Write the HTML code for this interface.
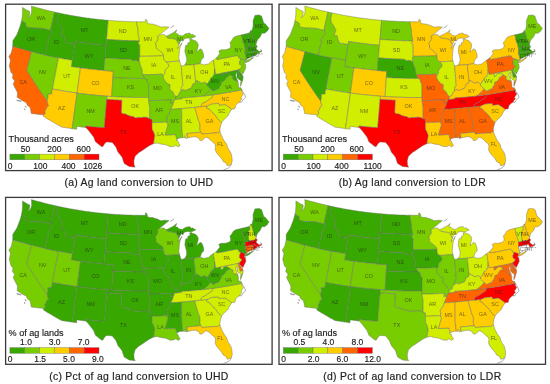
<!DOCTYPE html><html><head><meta charset="utf-8"><style>html,body{margin:0;padding:0;background:#fff;width:550px;height:384px;overflow:hidden}svg{display:block;filter:blur(0.3px)}text{font-family:"Liberation Sans",Arial,sans-serif}</style></head><body>
<svg width="550" height="384" viewBox="0 0 550 384">
<rect width="550" height="384" fill="#fff"/>
<g transform="translate(0,0)">
<rect x="5.6" y="4.2" width="266.5" height="166.4" fill="#fff" stroke="#3a3a3a" stroke-width="1.3"/>
<g stroke="#6e6e6e" stroke-width="0.45" stroke-linejoin="round">
<path fill="#78cd00" d="M31.4,6.1 32.4,6.4 33.4,6.6 34.4,6.9 35.4,7.2 36.4,7.5 37.4,7.8 38.4,8.0 39.5,8.3 40.5,8.6 41.5,8.8 42.5,9.1 43.5,9.4 44.5,9.6 45.5,9.9 46.5,10.1 47.5,10.4 48.5,10.6 49.5,10.9 50.5,11.1 51.6,11.3 52.6,11.6 53.6,11.8 54.6,12.0 54.3,13.5 53.9,14.9 53.6,16.3 53.3,17.7 53.0,19.2 52.7,20.6 52.3,22.0 52.0,23.5 51.7,24.9 51.4,26.3 51.0,27.8 51.0,29.1 51.0,30.4 50.0,30.2 49.0,30.0 48.0,29.8 47.0,29.5 46.0,29.3 45.1,29.1 44.1,28.8 43.1,28.6 42.1,28.4 41.2,28.3 40.3,28.3 39.4,28.2 38.3,28.2 37.2,28.2 36.1,28.2 34.9,28.1 34.0,28.1 33.1,28.1 32.2,28.1 31.1,27.9 30.0,27.7 28.9,27.5 27.8,27.4 27.1,27.0 26.4,26.6 25.7,26.2 25.7,24.8 25.8,23.3 24.8,22.7 23.9,22.1 23.1,21.7 22.3,21.3 21.5,20.9 21.8,19.6 22.0,18.3 22.2,17.0 22.3,15.7 22.4,14.5 22.5,13.2 22.5,11.7 22.5,10.3 22.5,8.9 22.5,7.4 23.4,8.0 24.3,8.6 25.2,9.1 26.1,9.7 27.0,10.3 27.9,10.7 28.8,11.0 29.7,11.4 29.8,12.7 29.5,14.3 29.3,15.8 28.4,16.6 27.6,17.3 28.7,17.0 29.8,16.6 30.2,15.8 30.7,14.9 31.1,13.8 31.6,12.6 31.6,11.0 31.6,9.4 31.5,7.7Z"/>
<path fill="#38a800" d="M21.5,20.9 22.3,21.3 23.1,21.7 23.9,22.1 24.8,22.7 25.8,23.3 25.7,24.8 25.7,26.2 26.4,26.6 27.1,27.0 27.8,27.4 28.9,27.5 30.0,27.7 31.1,27.9 32.2,28.1 33.1,28.1 34.0,28.1 34.9,28.1 36.1,28.2 37.2,28.2 38.3,28.2 39.4,28.2 40.3,28.3 41.2,28.3 42.1,28.4 43.1,28.6 44.1,28.8 45.1,29.1 46.0,29.3 47.0,29.5 48.0,29.8 49.0,30.0 50.0,30.2 51.0,30.4 51.5,31.7 51.9,32.6 52.3,33.5 51.1,34.9 50.5,35.8 49.9,36.7 48.7,38.0 48.1,39.3 47.4,40.6 48.0,41.1 48.6,41.7 48.0,42.7 47.5,43.7 47.2,45.1 46.9,46.5 46.5,47.9 46.2,49.4 45.9,50.8 45.6,52.2 45.3,53.6 45.0,55.0 43.8,54.7 42.7,54.5 41.6,54.2 40.5,53.9 39.4,53.7 38.2,53.4 37.1,53.1 36.0,52.9 34.9,52.6 33.8,52.3 32.7,52.0 31.5,51.7 30.4,51.4 29.3,51.2 28.2,50.9 27.1,50.6 26.0,50.3 24.9,50.0 23.8,49.6 22.7,49.3 21.6,49.0 20.5,48.7 19.4,48.4 18.2,48.1 17.1,47.7 16.0,47.4 14.9,47.1 13.8,46.8 12.7,46.4 12.8,45.0 12.8,43.6 12.8,42.3 12.8,40.9 13.6,39.6 14.5,38.3 15.3,37.0 16.1,35.8 16.9,34.5 17.5,33.0 18.1,31.5 18.6,30.0 19.2,28.6 19.8,27.1 20.3,25.6 20.6,24.4 20.9,23.3 21.2,22.1Z"/>
<path fill="#ff6600" d="M12.7,46.4 13.8,46.8 14.9,47.1 16.0,47.4 17.1,47.7 18.2,48.1 19.4,48.4 20.5,48.7 21.6,49.0 22.7,49.3 23.8,49.6 24.9,50.0 26.0,50.3 27.1,50.6 28.2,50.9 29.3,51.2 30.4,51.4 31.6,51.7 31.2,53.3 30.8,54.8 30.4,56.3 30.0,57.9 29.6,59.4 29.2,60.9 28.8,62.5 28.4,64.0 28.0,65.6 27.6,67.1 27.2,68.6 26.8,70.2 27.6,71.6 28.5,73.0 29.4,74.4 30.3,75.8 31.1,77.2 32.0,78.6 32.9,80.0 33.8,81.4 34.8,82.8 35.7,84.2 36.6,85.6 37.5,87.0 38.5,88.4 39.4,89.8 40.4,91.2 41.3,92.6 42.3,94.0 43.2,95.4 44.2,96.7 45.2,98.1 46.2,99.5 47.2,100.9 47.5,102.1 47.8,103.4 48.2,104.6 48.8,105.7 48.0,106.3 47.1,106.8 46.5,108.3 46.0,109.7 44.8,110.8 45.1,112.1 45.4,113.5 44.6,114.2 43.9,115.0 42.6,114.8 41.4,114.7 40.1,114.6 38.8,114.4 37.6,114.3 36.3,114.1 35.1,114.0 33.8,113.8 32.5,113.7 31.3,113.5 31.1,112.6 31.0,111.7 30.7,110.3 30.4,108.9 30.1,107.6 29.0,106.6 28.0,105.7 27.0,104.8 26.7,103.8 26.4,102.8 25.3,102.2 24.2,101.6 23.1,101.0 22.1,100.4 21.1,99.7 20.1,99.1 19.1,98.5 18.1,97.8 17.1,97.2 17.3,95.7 17.4,94.2 17.5,92.7 16.7,91.0 15.8,89.3 15.0,87.7 14.1,86.0 13.3,84.3 13.5,83.4 13.8,82.5 14.7,81.1 13.9,80.1 13.2,79.1 12.4,78.1 12.6,76.8 12.8,75.6 13.0,74.3 12.0,73.4 11.0,72.4 10.6,70.8 10.2,69.2 9.8,67.6 9.3,66.0 9.6,64.6 9.9,63.1 10.2,61.7 10.5,60.3 10.0,59.1 9.5,57.8 8.9,56.5 9.8,55.2 10.6,53.9 11.4,52.6 11.7,51.1 12.1,49.5 12.4,48.0Z"/>
<path fill="#78cd00" d="M31.6,51.7 32.7,52.0 33.8,52.3 34.9,52.6 36.0,52.9 37.1,53.1 38.3,53.4 39.4,53.7 40.5,53.9 41.6,54.2 42.7,54.5 43.9,54.7 45.0,55.0 46.1,55.2 47.2,55.5 48.4,55.7 49.5,56.0 50.6,56.2 51.7,56.4 52.9,56.7 54.0,56.9 55.1,57.1 56.2,57.4 57.4,57.6 58.5,57.8 58.2,59.4 57.9,60.9 57.6,62.5 57.3,64.0 57.0,65.6 56.7,67.1 56.4,68.7 56.1,70.3 55.8,71.8 55.5,73.4 55.2,74.9 54.9,76.5 54.6,78.1 54.3,79.6 54.0,81.2 53.7,82.7 53.4,84.3 53.1,85.9 52.8,87.4 52.5,89.0 52.3,90.2 52.0,91.5 51.8,92.7 51.5,94.0 50.3,94.1 49.1,94.3 47.9,94.4 48.0,95.6 48.0,96.7 48.1,97.8 47.6,99.4 47.2,100.9 46.2,99.5 45.2,98.1 44.2,96.7 43.2,95.4 42.3,94.0 41.3,92.6 40.4,91.2 39.4,89.8 38.5,88.4 37.5,87.0 36.6,85.6 35.7,84.2 34.8,82.8 33.8,81.4 32.9,80.0 32.0,78.6 31.1,77.2 30.3,75.8 29.4,74.4 28.5,73.0 27.6,71.6 26.8,70.2 27.2,68.6 27.6,67.1 28.0,65.6 28.4,64.0 28.8,62.5 29.2,60.9 29.6,59.4 30.0,57.9 30.4,56.3 30.8,54.8 31.2,53.3Z"/>
<path fill="#38a800" d="M54.6,12.0 55.6,12.3 56.6,12.5 57.6,12.7 58.6,12.9 58.3,14.4 58.0,16.0 57.7,17.5 57.3,19.0 57.6,20.2 57.8,21.5 58.1,22.7 58.8,23.5 59.5,24.3 60.2,25.7 61.0,27.1 61.7,28.5 62.6,29.7 62.2,30.9 61.8,32.1 61.4,33.3 61.1,34.3 60.8,35.3 61.8,35.5 62.9,35.6 63.9,35.7 64.1,37.1 64.4,38.5 64.7,39.9 65.4,41.2 66.2,42.4 66.9,43.6 68.1,43.5 69.3,43.4 70.1,43.5 71.0,43.7 71.9,43.8 72.8,44.0 73.7,44.4 74.7,44.7 74.4,46.3 74.2,47.8 74.0,49.4 73.7,50.9 73.5,52.5 73.2,54.0 73.0,55.6 72.7,57.1 72.5,58.7 72.2,60.2 71.1,60.0 69.9,59.9 68.8,59.7 67.7,59.5 66.5,59.3 65.4,59.1 64.2,58.9 63.1,58.7 62.0,58.5 60.8,58.2 59.7,58.0 58.5,57.8 57.4,57.6 56.3,57.4 55.1,57.1 54.0,56.9 52.9,56.7 51.7,56.4 50.6,56.2 49.5,56.0 48.3,55.7 47.2,55.5 46.1,55.2 45.0,55.0 45.3,53.6 45.6,52.2 45.9,50.8 46.2,49.4 46.5,47.9 46.9,46.5 47.2,45.1 47.5,43.7 48.0,42.7 48.6,41.7 48.0,41.1 47.4,40.6 48.1,39.3 48.7,38.0 49.9,36.7 50.5,35.8 51.1,34.9 52.3,33.5 51.9,32.6 51.5,31.7 51.0,30.4 51.0,29.1 51.0,27.8 51.4,26.3 51.7,24.9 52.0,23.5 52.3,22.0 52.7,20.6 53.0,19.2 53.3,17.7 53.6,16.3 53.9,14.9 54.3,13.5Z"/>
<path fill="#38a800" d="M58.6,12.9 59.7,13.1 60.7,13.4 61.7,13.6 62.7,13.8 63.7,14.0 64.8,14.2 65.8,14.4 66.8,14.6 67.9,14.8 68.9,15.0 69.9,15.2 70.9,15.4 72.0,15.5 73.0,15.7 74.0,15.9 75.1,16.1 76.1,16.3 77.1,16.4 78.1,16.6 79.2,16.8 80.2,16.9 81.2,17.1 82.3,17.3 83.3,17.4 84.3,17.6 85.4,17.7 86.4,17.9 87.4,18.0 88.5,18.1 89.5,18.3 90.5,18.4 91.6,18.6 92.6,18.7 93.7,18.8 94.7,18.9 95.7,19.1 96.8,19.2 97.8,19.3 98.9,19.4 99.9,19.5 100.9,19.6 102.0,19.7 103.0,19.8 104.0,20.0 105.1,20.0 106.1,20.1 107.2,20.2 108.2,20.3 108.1,21.9 107.9,23.4 107.8,25.0 107.7,26.5 107.5,28.1 107.4,29.6 107.3,31.2 107.2,32.8 107.0,34.3 106.9,35.9 106.8,37.4 106.6,39.0 106.5,40.6 106.3,42.1 106.2,43.7 106.1,45.3 105.0,45.2 103.9,45.1 102.8,45.0 101.7,44.9 100.6,44.8 99.4,44.7 98.3,44.6 97.2,44.4 96.1,44.3 95.0,44.2 93.9,44.1 92.8,43.9 91.7,43.8 90.6,43.7 89.5,43.5 88.4,43.4 87.3,43.3 86.2,43.1 85.1,43.0 84.0,42.8 82.9,42.7 81.8,42.5 80.7,42.3 79.6,42.2 78.5,42.0 77.4,41.8 76.3,41.7 75.2,41.5 75.0,42.6 74.9,43.7 74.7,44.7 73.7,44.4 72.8,44.0 71.9,43.8 71.0,43.7 70.1,43.5 69.3,43.4 68.1,43.5 66.9,43.6 66.2,42.4 65.4,41.2 64.7,39.9 64.4,38.5 64.1,37.1 63.9,35.7 62.9,35.6 61.8,35.5 60.8,35.3 61.1,34.3 61.4,33.3 61.8,32.1 62.2,30.9 62.6,29.7 61.7,28.5 61.0,27.1 60.2,25.7 59.5,24.3 58.8,23.5 58.1,22.7 57.8,21.5 57.6,20.2 57.3,19.0 57.7,17.5 58.0,16.0 58.3,14.4 58.6,12.9Z"/>
<path fill="#38a800" d="M75.2,41.5 76.3,41.7 77.4,41.8 78.5,42.0 79.6,42.2 80.7,42.3 81.8,42.5 82.9,42.7 84.0,42.8 85.1,43.0 86.2,43.1 87.3,43.3 88.4,43.4 89.5,43.5 90.6,43.7 91.7,43.8 92.8,43.9 93.9,44.1 95.0,44.2 96.1,44.3 97.2,44.4 98.3,44.6 99.4,44.7 100.6,44.8 101.7,44.9 102.8,45.0 103.9,45.1 105.0,45.2 106.1,45.3 105.9,46.9 105.8,48.4 105.7,50.0 105.5,51.6 105.4,53.1 105.3,54.7 105.1,56.3 105.0,57.9 104.9,59.4 104.7,61.0 104.6,62.6 104.5,64.2 104.3,65.8 104.2,67.3 104.1,68.9 103.9,70.5 102.8,70.4 101.6,70.3 100.4,70.2 99.2,70.1 98.1,70.0 96.9,69.8 95.7,69.7 94.6,69.6 93.4,69.5 92.2,69.3 91.0,69.2 89.9,69.1 88.7,68.9 87.5,68.8 86.4,68.6 85.2,68.5 84.0,68.3 82.9,68.2 81.7,68.0 80.5,67.9 79.4,67.7 78.2,67.5 77.0,67.4 75.9,67.2 74.7,67.0 73.5,66.9 72.4,66.7 71.2,66.5 71.5,64.9 71.7,63.4 72.0,61.8 72.2,60.2 72.5,58.7 72.7,57.1 73.0,55.5 73.2,54.0 73.5,52.4 73.7,50.8 74.0,49.3 74.2,47.7 74.5,46.2 74.7,44.6 75.0,43.1Z"/>
<path fill="#d1ed00" d="M58.5,57.8 59.6,58.0 60.8,58.2 61.9,58.5 63.1,58.7 64.2,58.9 65.3,59.1 66.5,59.3 67.6,59.5 68.8,59.7 69.9,59.9 71.1,60.0 72.2,60.2 72.0,61.8 71.7,63.4 71.5,64.9 71.2,66.5 72.4,66.7 73.5,66.9 74.7,67.0 75.9,67.2 77.0,67.4 78.2,67.5 79.4,67.7 80.5,67.9 80.3,69.4 80.1,71.0 79.9,72.6 79.7,74.2 79.4,75.7 79.2,77.3 79.0,78.9 78.8,80.5 78.6,82.0 78.4,83.6 78.1,85.2 77.9,86.8 77.7,88.3 77.5,89.9 77.3,91.5 77.0,93.0 75.8,92.9 74.6,92.7 73.3,92.5 72.1,92.3 70.9,92.2 69.7,92.0 68.4,91.8 67.2,91.6 66.0,91.4 64.7,91.2 63.5,91.0 62.3,90.8 61.1,90.6 59.8,90.3 58.6,90.1 57.4,89.9 56.2,89.7 54.9,89.4 53.7,89.2 52.5,89.0 52.8,87.4 53.1,85.9 53.4,84.3 53.7,82.7 54.0,81.2 54.3,79.6 54.6,78.1 54.9,76.5 55.2,74.9 55.5,73.4 55.8,71.8 56.1,70.3 56.4,68.7 56.7,67.1 57.0,65.6 57.3,64.0 57.6,62.5 57.9,60.9 58.2,59.4Z"/>
<path fill="#ffcc00" d="M80.5,67.9 81.7,68.0 82.9,68.2 84.0,68.3 85.2,68.5 86.4,68.6 87.5,68.8 88.7,68.9 89.9,69.1 91.0,69.2 92.2,69.3 93.4,69.5 94.6,69.6 95.7,69.7 96.9,69.8 98.1,70.0 99.2,70.1 100.4,70.2 101.6,70.3 102.8,70.4 103.9,70.5 105.1,70.6 106.3,70.7 107.5,70.8 108.6,70.9 109.8,71.0 111.0,71.0 112.1,71.1 113.3,71.2 113.2,72.8 113.1,74.4 113.0,75.9 112.9,77.5 112.8,79.1 112.7,80.7 112.6,82.3 112.5,83.9 112.4,85.5 112.3,87.0 112.2,88.6 112.1,90.2 112.0,91.8 111.9,93.4 111.8,95.0 111.7,96.6 110.5,96.5 109.2,96.4 108.0,96.3 106.7,96.2 105.5,96.1 104.3,96.0 103.0,95.9 101.8,95.8 100.5,95.7 99.3,95.6 98.1,95.5 96.8,95.4 95.6,95.2 94.3,95.1 93.1,95.0 91.9,94.9 90.6,94.7 89.4,94.6 88.2,94.5 86.9,94.3 85.7,94.2 84.4,94.0 83.2,93.9 82.0,93.7 80.7,93.5 79.5,93.4 78.3,93.2 77.0,93.0 77.3,91.5 77.5,89.9 77.7,88.3 77.9,86.8 78.1,85.2 78.4,83.6 78.6,82.0 78.8,80.5 79.0,78.9 79.2,77.3 79.4,75.7 79.7,74.2 79.9,72.6 80.1,71.0 80.3,69.4Z"/>
<path fill="#ffcc00" d="M52.5,89.0 53.7,89.2 54.9,89.4 56.2,89.7 57.4,89.9 58.6,90.1 59.8,90.3 61.1,90.6 62.3,90.8 63.5,91.0 64.7,91.2 66.0,91.4 67.2,91.6 68.4,91.8 69.7,92.0 70.9,92.2 72.1,92.3 73.3,92.5 74.6,92.7 75.8,92.9 77.0,93.0 76.8,94.6 76.6,96.1 76.4,97.7 76.2,99.2 76.0,100.8 75.8,102.4 75.5,103.9 75.3,105.5 75.1,107.0 74.9,108.5 74.7,110.1 74.5,111.6 74.2,113.2 74.0,114.7 73.8,116.3 73.6,117.8 73.4,119.4 73.2,120.9 73.0,122.5 72.7,124.0 72.5,125.6 72.3,127.1 72.1,128.6 70.9,128.5 69.7,128.3 68.5,128.1 67.3,128.0 66.2,127.8 65.0,127.6 63.8,127.4 62.6,127.2 61.4,127.0 60.2,126.3 58.9,125.6 57.7,124.9 56.5,124.2 55.2,123.5 54.0,122.8 52.8,122.1 51.6,121.4 50.4,120.6 49.2,119.9 48.0,119.2 46.7,118.5 45.5,117.7 44.4,117.0 43.2,116.2 43.9,115.0 44.6,114.2 45.4,113.5 45.1,112.1 44.8,110.8 46.0,109.7 46.5,108.3 47.1,106.8 48.0,106.3 48.8,105.7 48.2,104.6 47.8,103.4 47.5,102.1 47.2,100.9 47.6,99.4 48.1,97.8 48.0,96.7 48.0,95.6 47.9,94.4 49.1,94.3 50.3,94.1 51.5,94.0 51.8,92.7 52.0,91.5 52.3,90.2Z"/>
<path fill="#78cd00" d="M77.0,93.0 78.2,93.2 79.4,93.4 80.6,93.5 81.8,93.7 83.0,93.8 84.2,94.0 85.4,94.1 86.6,94.3 87.8,94.4 89.0,94.5 90.2,94.7 91.4,94.8 92.6,94.9 93.8,95.1 95.0,95.2 96.2,95.3 97.4,95.4 98.6,95.5 99.8,95.6 101.0,95.7 102.2,95.8 103.4,95.9 104.6,96.0 105.8,96.1 107.0,96.2 106.9,97.8 106.7,99.4 106.6,101.0 106.5,102.6 106.3,104.1 106.2,105.7 106.1,107.3 105.9,108.9 105.8,110.5 105.7,112.0 105.5,113.6 105.4,115.2 105.3,116.8 105.1,118.4 105.0,119.9 104.9,121.5 104.7,123.1 104.6,124.7 104.5,126.2 104.3,127.8 103.1,127.7 101.8,127.6 100.5,127.5 99.3,127.4 98.0,127.3 96.8,127.2 95.5,127.1 94.3,127.0 93.0,126.9 91.8,126.7 90.5,126.6 89.3,126.5 88.0,126.3 86.7,126.2 85.5,126.1 85.8,127.5 84.5,127.4 83.3,127.2 82.0,127.1 80.7,126.9 79.5,126.7 78.2,126.6 76.9,126.4 76.7,127.8 76.6,129.2 75.5,129.1 74.3,129.0 73.2,128.8 72.1,128.6 72.3,127.1 72.5,125.6 72.7,124.0 73.0,122.5 73.2,120.9 73.4,119.4 73.6,117.8 73.8,116.3 74.0,114.7 74.2,113.2 74.5,111.6 74.7,110.1 74.9,108.5 75.1,107.0 75.3,105.5 75.5,103.9 75.8,102.4 76.0,100.8 76.2,99.2 76.4,97.7 76.6,96.1 76.8,94.6Z"/>
<path fill="#d1ed00" d="M108.2,20.3 109.2,20.4 110.2,20.5 111.3,20.6 112.3,20.7 113.3,20.7 114.3,20.8 115.3,20.9 116.3,20.9 117.3,21.0 118.4,21.1 119.4,21.1 120.4,21.2 121.4,21.2 122.4,21.3 123.4,21.3 124.5,21.4 125.5,21.4 126.5,21.5 127.5,21.5 128.5,21.5 129.6,21.6 130.6,21.6 131.6,21.6 132.6,21.7 133.6,21.7 134.6,21.7 135.7,21.7 136.7,21.7 136.8,23.3 137.0,24.8 137.3,26.3 137.6,27.7 137.9,29.1 138.2,30.5 138.2,31.9 138.2,33.4 138.2,34.9 138.6,36.1 138.9,37.4 139.2,38.6 139.3,39.8 139.4,40.9 138.3,40.9 137.2,40.9 136.1,40.9 135.0,40.8 133.9,40.8 132.8,40.8 131.7,40.8 130.6,40.7 129.5,40.7 128.4,40.7 127.3,40.6 126.2,40.6 125.1,40.6 124.0,40.5 123.0,40.5 121.9,40.4 120.8,40.4 119.7,40.3 118.6,40.2 117.5,40.2 116.4,40.1 115.3,40.0 114.2,40.0 113.1,39.9 112.0,39.8 110.9,39.7 109.9,39.7 108.8,39.6 107.7,39.5 106.6,39.4 106.7,37.9 106.8,36.4 107.0,35.0 107.1,33.5 107.2,32.0 107.3,30.6 107.5,29.1 107.6,27.6 107.7,26.2 107.8,24.7 108.0,23.2 108.1,21.8Z"/>
<path fill="#38a800" d="M106.6,39.4 107.7,39.5 108.8,39.6 109.9,39.7 110.9,39.7 112.0,39.8 113.1,39.9 114.2,40.0 115.3,40.0 116.4,40.1 117.5,40.2 118.6,40.2 119.7,40.3 120.8,40.4 121.9,40.4 123.0,40.5 124.0,40.5 125.1,40.6 126.2,40.6 127.3,40.6 128.4,40.7 129.5,40.7 130.6,40.7 131.7,40.8 132.8,40.8 133.9,40.8 135.0,40.8 136.1,40.9 137.2,40.9 138.3,40.9 139.4,40.9 139.4,41.6 138.7,42.3 138.1,43.0 138.9,44.0 139.8,44.9 139.8,46.3 139.8,47.8 139.8,49.2 139.8,50.6 139.8,52.0 139.8,53.4 139.8,54.9 139.8,56.3 139.4,57.9 139.1,59.4 139.3,60.5 139.5,61.6 139.7,62.7 138.6,61.6 137.4,61.0 136.3,60.4 135.2,60.5 134.2,60.7 133.1,60.8 132.2,60.3 131.3,59.8 130.4,59.3 129.3,59.3 128.2,59.2 127.1,59.2 125.9,59.1 124.8,59.1 123.7,59.1 122.6,59.0 121.5,59.0 120.4,58.9 119.3,58.9 118.2,58.8 117.1,58.7 116.0,58.7 114.9,58.6 113.8,58.5 112.7,58.5 111.6,58.4 110.5,58.3 109.4,58.2 108.3,58.1 107.2,58.1 106.1,58.0 105.0,57.9 105.1,56.3 105.3,54.8 105.4,53.2 105.5,51.7 105.7,50.2 105.8,48.6 105.9,47.1 106.1,45.5 106.2,44.0 106.3,42.5 106.5,40.9Z"/>
<path fill="#78cd00" d="M105.0,57.9 106.1,58.0 107.2,58.1 108.3,58.1 109.4,58.2 110.5,58.3 111.6,58.4 112.7,58.5 113.8,58.5 114.9,58.6 116.0,58.7 117.1,58.7 118.2,58.8 119.3,58.9 120.4,58.9 121.5,59.0 122.6,59.0 123.7,59.1 124.8,59.1 125.9,59.1 127.1,59.2 128.2,59.2 129.3,59.3 130.4,59.3 131.3,59.8 132.2,60.3 133.1,60.8 134.2,60.7 135.2,60.5 136.3,60.4 137.4,61.0 138.6,61.6 139.7,62.7 140.0,63.6 140.2,64.5 140.8,65.9 141.3,67.4 141.8,68.8 142.3,70.2 142.3,71.5 142.4,72.8 142.6,73.8 142.9,74.8 143.3,75.7 143.7,76.6 144.4,77.5 145.1,78.5 143.9,78.5 142.8,78.5 141.6,78.5 140.4,78.5 139.2,78.5 138.0,78.4 136.8,78.4 135.6,78.4 134.4,78.4 133.2,78.4 132.0,78.4 130.8,78.3 129.6,78.3 128.4,78.3 127.2,78.2 126.0,78.2 124.8,78.1 123.6,78.1 122.5,78.0 121.3,78.0 120.1,77.9 118.9,77.9 117.7,77.8 116.5,77.7 115.3,77.7 114.1,77.6 112.9,77.5 113.0,75.9 113.1,74.4 113.2,72.8 113.3,71.2 112.1,71.1 111.0,71.0 109.8,71.0 108.6,70.9 107.5,70.8 106.3,70.7 105.1,70.6 103.9,70.5 104.1,68.9 104.2,67.3 104.3,65.8 104.5,64.2 104.6,62.6 104.7,61.0 104.9,59.4Z"/>
<path fill="#78cd00" d="M112.9,77.5 114.1,77.6 115.3,77.7 116.5,77.7 117.7,77.8 118.9,77.9 120.1,77.9 121.3,78.0 122.5,78.0 123.6,78.1 124.8,78.1 126.0,78.2 127.2,78.2 128.4,78.3 129.6,78.3 130.8,78.3 132.0,78.4 133.2,78.4 134.4,78.4 135.6,78.4 136.8,78.4 138.0,78.4 139.2,78.5 140.4,78.5 141.6,78.5 142.8,78.5 143.9,78.5 145.1,78.5 146.0,78.8 146.8,79.1 147.0,80.3 147.1,81.6 147.8,82.9 148.6,84.1 148.6,85.6 148.6,87.1 148.6,88.6 148.6,90.1 148.6,91.5 148.6,93.0 148.6,94.5 148.6,96.0 148.7,97.5 147.4,97.5 146.2,97.5 145.0,97.5 143.7,97.5 142.5,97.5 141.3,97.5 140.0,97.5 138.8,97.5 137.6,97.5 136.3,97.5 135.1,97.5 133.9,97.5 132.6,97.4 131.4,97.4 130.2,97.4 128.9,97.3 127.7,97.3 126.5,97.3 125.2,97.2 124.0,97.2 122.8,97.1 121.5,97.1 120.3,97.0 119.1,97.0 117.8,96.9 116.6,96.8 115.4,96.8 114.2,96.7 112.9,96.6 111.7,96.6 111.8,95.0 111.9,93.4 112.0,91.8 112.1,90.2 112.2,88.6 112.3,87.0 112.4,85.5 112.5,83.9 112.6,82.3 112.7,80.7 112.8,79.1Z"/>
<path fill="#d1ed00" d="M107.0,96.2 108.2,96.3 109.4,96.4 110.7,96.5 111.9,96.6 113.1,96.6 114.3,96.7 115.5,96.8 116.8,96.9 118.0,96.9 119.2,97.0 120.4,97.0 121.7,97.1 122.9,97.1 124.1,97.2 125.4,97.2 126.6,97.3 127.8,97.3 129.0,97.3 130.3,97.4 131.5,97.4 132.7,97.4 133.9,97.5 135.2,97.5 136.4,97.5 137.6,97.5 138.8,97.5 140.1,97.5 141.3,97.5 142.5,97.5 143.7,97.5 145.0,97.5 146.2,97.5 147.4,97.5 148.7,97.5 148.7,99.1 148.7,100.7 148.9,102.1 149.1,103.5 149.3,104.9 149.6,106.3 149.8,107.7 149.8,109.3 149.7,110.9 149.7,112.4 149.7,114.0 149.7,115.6 149.7,117.2 149.7,118.8 149.7,118.8 148.8,118.3 147.9,117.9 147.0,117.4 145.9,117.4 144.9,117.3 143.9,117.2 142.8,117.4 141.8,117.6 140.7,117.8 139.7,117.7 138.7,117.5 137.6,117.7 136.6,117.9 135.5,118.1 134.5,117.5 133.5,116.8 132.5,116.6 131.4,116.5 130.1,116.1 128.9,115.8 127.7,115.2 126.5,114.6 125.3,114.1 124.0,113.9 122.7,113.8 122.0,113.2 121.2,112.6 121.3,111.0 121.4,109.5 121.4,108.0 121.5,106.4 121.6,104.9 121.6,103.3 121.7,101.8 121.8,100.3 120.5,100.2 119.2,100.2 118.0,100.1 116.7,100.0 115.5,100.0 114.2,99.9 113.0,99.8 111.7,99.7 110.5,99.7 109.2,99.6 108.0,99.5 106.7,99.4 106.9,97.8Z"/>
<path fill="#ff0000" d="M106.7,99.4 108.0,99.5 109.2,99.6 110.5,99.7 111.7,99.7 113.0,99.8 114.2,99.9 115.5,100.0 116.7,100.0 118.0,100.1 119.2,100.2 120.5,100.2 121.8,100.3 121.7,101.8 121.6,103.3 121.6,104.9 121.5,106.4 121.4,108.0 121.4,109.5 121.3,111.0 121.2,112.6 122.0,113.2 122.7,113.8 124.0,113.9 125.3,114.1 126.5,114.6 127.7,115.2 128.9,115.8 130.1,116.1 131.4,116.5 132.5,116.6 133.5,116.8 134.5,117.5 135.5,118.1 136.6,117.9 137.6,117.7 138.7,117.5 139.7,117.7 140.7,117.8 141.8,117.6 142.8,117.4 143.9,117.2 144.9,117.3 145.9,117.4 147.0,117.4 147.9,117.9 148.8,118.3 149.7,118.8 150.8,119.1 152.0,119.3 152.0,120.4 152.0,121.6 152.1,122.7 152.1,124.0 152.1,125.3 152.1,126.6 152.2,127.8 152.2,129.1 152.8,130.4 153.5,131.6 154.0,132.9 154.5,134.1 154.9,135.4 154.7,136.9 154.5,138.3 154.2,139.8 154.0,141.1 153.8,142.4 153.6,143.6 152.4,144.2 151.2,144.8 150.1,145.3 148.9,145.9 147.8,146.7 146.7,147.5 145.4,148.3 144.2,149.2 142.9,150.0 141.6,150.9 140.3,151.7 139.0,152.5 137.7,153.8 136.4,155.0 135.0,156.3 134.7,157.7 134.3,159.2 133.9,160.6 133.9,162.1 134.0,163.5 134.1,165.0 134.6,166.1 135.2,167.2 134.1,167.1 133.1,167.0 132.1,166.8 130.6,166.7 129.2,166.5 127.9,165.7 126.7,165.0 125.4,164.3 124.2,163.5 123.7,161.9 123.1,160.4 122.6,158.8 122.1,157.2 121.1,155.9 120.0,154.6 118.9,153.3 117.9,152.0 117.4,150.7 116.9,149.4 116.4,148.2 115.9,146.9 114.7,145.4 113.5,143.9 112.3,142.5 110.9,142.3 109.6,142.2 108.2,142.1 106.9,141.9 106.0,142.5 105.1,143.1 104.3,144.3 103.5,145.5 102.7,146.7 101.6,146.6 100.4,145.7 99.2,144.7 98.0,143.8 96.7,142.7 95.4,141.7 94.8,140.1 94.2,138.6 93.6,137.1 92.6,135.7 91.5,134.3 90.5,132.9 89.4,131.6 88.4,130.2 87.5,129.3 86.7,128.4 85.8,127.5 85.5,126.1 86.7,126.2 88.0,126.3 89.3,126.5 90.5,126.6 91.8,126.7 93.0,126.9 94.3,127.0 95.5,127.1 96.8,127.2 98.0,127.3 99.3,127.4 100.5,127.5 101.8,127.6 103.1,127.7 104.3,127.8 104.5,126.2 104.6,124.7 104.7,123.1 104.9,121.5 105.0,119.9 105.1,118.4 105.3,116.8 105.4,115.2 105.5,113.6 105.7,112.0 105.8,110.5 105.9,108.9 106.1,107.3 106.2,105.7 106.3,104.1 106.5,102.6 106.6,101.0Z"/>
<path fill="#d1ed00" d="M136.7,21.7 137.6,21.7 138.6,21.8 139.6,21.8 140.5,21.8 141.5,21.8 142.5,21.8 143.4,21.8 144.4,21.8 145.4,21.8 145.4,20.6 145.4,19.4 146.1,19.6 146.8,19.9 147.1,21.1 147.4,22.4 147.7,23.6 148.7,23.7 149.7,23.8 150.7,23.9 151.7,24.0 152.8,24.1 153.7,24.4 154.6,24.7 155.6,25.0 156.5,25.2 157.4,25.5 158.3,25.9 159.2,26.4 160.0,26.8 160.9,27.2 162.0,27.1 163.0,27.0 164.1,26.8 165.1,26.7 166.1,26.8 167.0,26.9 168.0,27.0 169.0,27.1 168.2,27.8 167.4,28.4 166.3,29.3 165.3,30.1 164.3,31.0 163.3,31.8 162.4,32.5 161.4,33.3 160.5,34.0 159.6,34.7 158.7,35.5 157.8,36.1 157.9,37.3 157.9,38.4 158.0,39.6 157.2,40.9 156.3,42.2 155.5,43.4 155.9,44.7 156.2,45.9 156.2,47.0 156.1,48.2 157.2,48.9 158.4,49.7 159.3,50.4 160.2,51.2 161.2,52.0 162.1,52.8 163.0,53.6 163.3,54.6 163.5,55.7 162.4,55.8 161.3,55.9 160.1,55.9 159.0,55.9 157.9,56.0 156.7,56.0 155.6,56.1 154.5,56.1 153.3,56.1 152.2,56.2 151.1,56.2 149.9,56.2 148.8,56.2 147.7,56.2 146.5,56.3 145.4,56.3 144.3,56.3 143.2,56.3 142.0,56.3 140.9,56.3 139.8,56.3 139.8,54.9 139.8,53.4 139.8,52.0 139.8,50.6 139.8,49.2 139.8,47.8 139.8,46.3 139.8,44.9 138.9,44.0 138.1,43.0 138.7,42.3 139.4,41.6 139.4,40.9 139.3,39.8 139.2,38.6 138.9,37.4 138.6,36.1 138.2,34.9 138.2,33.4 138.2,31.9 138.2,30.5 137.9,29.1 137.6,27.7 137.3,26.3 137.0,24.8 136.8,23.3Z"/>
<path fill="#d1ed00" d="M139.8,56.3 140.9,56.3 142.0,56.3 143.2,56.3 144.3,56.3 145.4,56.3 146.5,56.3 147.7,56.2 148.8,56.2 149.9,56.2 151.1,56.2 152.2,56.2 153.3,56.1 154.5,56.1 155.6,56.1 156.7,56.0 157.9,56.0 159.0,55.9 160.1,55.9 161.3,55.9 162.4,55.8 163.5,55.7 163.6,57.0 163.7,58.3 164.1,59.4 164.5,60.4 165.5,61.2 166.5,61.9 167.3,62.8 168.2,63.7 168.5,65.0 168.8,66.2 167.9,67.2 167.0,68.2 166.2,69.2 165.3,70.2 165.1,71.8 165.0,73.4 164.3,74.5 163.5,75.5 162.8,74.8 162.0,74.1 160.9,74.2 159.8,74.3 158.6,74.3 157.5,74.4 156.4,74.4 155.3,74.5 154.1,74.5 153.0,74.5 151.9,74.6 150.8,74.6 149.6,74.7 148.5,74.7 147.4,74.7 146.3,74.7 145.1,74.7 144.0,74.8 142.9,74.8 142.6,73.8 142.4,72.8 142.3,71.5 142.3,70.2 141.8,68.8 141.3,67.4 140.8,65.9 140.2,64.5 140.0,63.6 139.7,62.7 139.5,61.6 139.3,60.5 139.1,59.4 139.4,57.9Z"/>
<path fill="#78cd00" d="M142.9,74.8 144.0,74.8 145.1,74.7 146.3,74.7 147.4,74.7 148.5,74.7 149.6,74.7 150.8,74.6 151.9,74.6 153.0,74.5 154.1,74.5 155.3,74.5 156.4,74.4 157.5,74.4 158.6,74.3 159.8,74.3 160.9,74.2 162.0,74.1 162.8,74.8 163.5,75.5 163.4,76.8 163.3,78.0 164.1,79.2 164.8,80.4 166.1,82.0 167.4,83.5 168.7,84.0 169.9,84.6 170.0,85.6 170.0,86.5 169.9,87.8 169.7,89.1 170.7,90.0 171.8,90.9 172.8,91.7 173.4,93.1 174.0,94.5 174.9,95.4 175.9,96.3 176.1,96.6 176.0,97.7 175.8,98.9 174.8,99.6 174.2,100.9 173.9,101.9 173.5,102.8 172.4,102.9 171.3,103.0 170.2,103.0 170.6,101.4 171.1,99.8 169.8,99.9 168.6,100.0 167.4,100.0 166.1,100.1 164.9,100.2 163.6,100.2 162.4,100.3 161.1,100.3 159.9,100.4 158.7,100.4 157.4,100.5 156.2,100.5 154.9,100.5 153.7,100.6 152.4,100.6 151.2,100.6 149.9,100.6 148.7,100.7 148.7,99.1 148.7,97.5 148.6,96.0 148.6,94.5 148.6,93.0 148.6,91.5 148.6,90.1 148.6,88.6 148.6,87.1 148.6,85.6 148.6,84.1 147.8,82.9 147.1,81.6 147.0,80.3 146.8,79.1 146.0,78.8 145.1,78.5 144.4,77.5 143.7,76.6 143.3,75.7Z"/>
<path fill="#78cd00" d="M148.7,100.7 149.9,100.6 151.2,100.6 152.4,100.6 153.7,100.6 154.9,100.5 156.2,100.5 157.4,100.5 158.7,100.4 159.9,100.4 161.1,100.3 162.4,100.3 163.6,100.2 164.9,100.2 166.1,100.1 167.4,100.0 168.6,100.0 169.8,99.9 171.1,99.8 170.6,101.4 170.2,103.0 171.3,103.0 172.4,102.9 173.5,102.8 173.1,104.1 172.7,105.4 172.2,106.4 171.8,107.4 171.3,108.4 170.9,109.4 170.5,110.7 170.0,112.0 169.6,113.3 168.6,114.4 167.6,115.5 166.7,116.6 167.0,117.8 167.3,119.1 167.2,120.6 167.1,122.1 165.9,122.2 164.6,122.3 163.4,122.3 162.1,122.4 160.9,122.4 159.6,122.5 158.3,122.5 157.1,122.6 155.8,122.6 154.6,122.6 153.3,122.7 152.1,122.7 152.0,121.6 152.0,120.4 152.0,119.3 150.8,119.1 149.7,118.8 149.7,117.2 149.7,115.6 149.7,114.0 149.7,112.4 149.7,110.9 149.8,109.3 149.8,107.7 149.6,106.3 149.3,104.9 149.1,103.5 148.9,102.1Z"/>
<path fill="#d1ed00" d="M152.1,122.7 153.3,122.7 154.6,122.6 155.8,122.6 157.1,122.6 158.3,122.5 159.6,122.5 160.9,122.4 162.1,122.4 163.4,122.3 164.6,122.3 165.9,122.2 167.1,122.1 167.6,123.5 168.1,124.8 167.9,125.7 167.7,126.7 167.2,128.0 166.8,129.3 166.3,130.9 165.8,132.5 165.5,133.7 165.2,135.0 166.5,135.0 167.8,134.9 169.1,134.8 170.3,134.8 171.6,134.7 172.9,134.6 174.2,134.5 175.5,134.5 175.9,135.7 176.3,136.9 176.6,138.2 176.9,139.4 176.0,140.1 176.8,140.4 177.7,140.6 178.2,141.9 178.7,143.1 179.4,144.3 180.2,145.5 179.2,146.2 178.1,146.9 176.9,146.0 175.8,145.2 174.7,145.9 173.7,146.6 172.6,146.6 171.5,146.7 170.4,146.7 169.0,146.2 167.6,145.6 166.2,145.1 164.8,144.5 163.4,144.4 162.0,144.3 160.8,144.0 159.5,143.7 158.3,143.3 157.0,143.0 155.9,143.2 154.7,143.4 153.6,143.6 153.8,142.4 154.0,141.1 154.2,139.8 154.5,138.3 154.7,136.9 154.9,135.4 154.5,134.1 154.0,132.9 153.5,131.6 152.8,130.4 152.2,129.1 152.2,127.8 152.1,126.6 152.1,125.3 152.1,124.0Z"/>
<path fill="#d1ed00" d="M166.5,61.9 165.5,61.2 164.5,60.4 164.1,59.4 163.7,58.3 163.6,57.0 163.5,55.7 163.3,54.6 163.0,53.6 162.1,52.8 161.2,52.0 160.2,51.2 159.3,50.4 158.4,49.7 157.2,48.9 156.1,48.2 156.2,47.0 156.2,45.9 155.9,44.7 155.5,43.4 156.3,42.2 157.2,40.9 158.0,39.6 157.9,38.4 157.9,37.3 157.8,36.1 158.7,35.5 159.7,35.2 160.6,34.9 161.6,34.6 162.5,34.4 163.4,34.5 164.3,34.6 165.2,35.4 166.1,36.2 166.8,37.0 167.5,37.8 168.5,38.0 169.4,38.1 170.4,38.2 171.4,38.3 172.4,38.5 173.4,38.7 174.4,38.9 175.4,39.2 176.4,39.4 176.9,40.5 177.4,41.6 178.0,42.7 178.5,43.7 179.0,44.6 178.7,45.5 178.3,46.5 177.8,47.5 177.4,48.5 178.0,47.8 178.6,47.1 179.3,46.4 180.0,45.6 181.0,44.2 182.0,42.7 181.5,43.9 181.1,45.0 180.3,46.7 180.1,47.6 179.8,48.6 179.6,49.7 179.4,50.9 179.3,52.0 179.3,53.1 179.2,54.6 179.0,56.1 178.8,57.6 179.1,58.7 179.3,59.9 179.6,61.0 178.5,61.1 177.4,61.2 176.3,61.3 175.2,61.3 174.1,61.4 173.0,61.5 171.9,61.6 170.9,61.7 169.8,61.7 168.7,61.8 167.6,61.9Z"/>
<path fill="#d1ed00" d="M166.5,61.9 167.6,61.9 168.7,61.8 169.8,61.7 170.9,61.7 171.9,61.6 173.0,61.5 174.1,61.4 175.2,61.3 176.3,61.3 177.4,61.2 178.5,61.1 179.6,61.0 180.0,62.5 180.5,64.1 180.9,65.0 181.2,65.9 181.4,67.4 181.5,68.9 181.6,70.4 181.8,71.9 181.9,73.4 182.0,74.8 182.2,76.3 182.3,77.8 182.4,79.3 182.6,80.8 182.4,82.4 182.7,83.6 183.1,84.9 182.2,86.2 181.4,87.6 181.2,89.2 181.0,90.8 180.5,91.5 179.8,92.6 179.0,93.7 178.8,94.7 178.5,95.6 177.3,96.1 176.1,96.6 175.9,96.3 174.9,95.4 174.0,94.5 173.4,93.1 172.8,91.7 171.8,90.9 170.7,90.0 169.7,89.1 169.9,87.8 170.0,86.5 170.0,85.6 169.9,84.6 168.7,84.0 167.4,83.5 166.1,82.0 164.8,80.4 164.1,79.2 163.3,78.0 163.4,76.8 163.5,75.5 164.3,74.5 165.0,73.4 165.1,71.8 165.3,70.2 166.2,69.2 167.0,68.2 167.9,67.2 168.8,66.2 168.5,65.0 168.2,63.7 167.3,62.8Z"/>
<path fill="#78cd00" d="M184.5,65.3 185.6,65.2 186.6,65.1 187.6,65.1 188.7,65.0 189.7,64.9 190.8,64.9 191.8,64.8 192.9,64.7 193.9,64.6 194.9,64.5 196.0,64.3 197.0,64.2 198.1,64.0 199.1,63.8 200.1,63.7 200.6,62.6 201.0,61.5 201.2,60.6 201.5,59.6 202.2,59.0 203.0,58.3 203.7,57.6 203.7,56.3 203.7,55.0 203.4,53.8 203.0,52.6 202.6,51.4 202.0,49.9 201.1,49.3 200.2,48.8 199.4,49.6 198.6,50.3 197.6,51.3 196.6,52.2 197.0,50.7 197.4,49.3 197.8,47.9 198.1,46.4 198.3,44.9 197.9,43.9 197.5,42.8 196.5,41.8 195.5,40.7 194.5,40.4 193.5,40.0 192.4,39.7 191.8,39.3 191.2,39.0 190.4,39.2 189.6,39.4 189.9,40.4 190.3,41.5 189.7,41.9 189.0,42.3 188.4,42.7 187.7,43.1 187.8,44.2 188.0,45.2 187.0,45.2 186.0,45.1 185.7,46.1 185.3,47.1 185.2,48.5 185.0,49.9 184.8,51.3 185.2,52.8 185.6,54.3 186.0,55.8 186.3,57.1 186.7,58.5 186.7,59.7 186.6,61.0 186.3,62.0 185.9,63.0 185.2,64.1ZM166.1,36.2 166.8,37.0 167.5,37.8 168.5,38.0 169.4,38.1 170.4,38.2 171.4,38.3 172.4,38.5 173.4,38.7 174.4,38.9 175.4,39.2 176.4,39.4 176.9,40.5 177.4,41.6 178.0,42.7 178.5,43.7 179.0,44.6 179.7,43.1 180.4,41.7 181.1,40.3 182.1,40.6 183.1,41.0 183.8,39.8 184.4,38.7 185.5,38.4 186.6,38.2 187.7,38.0 188.8,38.2 189.9,38.3 191.0,38.4 192.1,38.0 193.2,37.6 194.2,37.2 195.0,36.8 195.9,36.4 194.7,35.7 193.5,35.0 192.3,34.3 191.3,34.7 190.4,33.8 189.5,32.9 188.6,33.2 187.8,33.4 186.9,33.6 186.0,33.8 185.2,34.0 184.2,34.7 183.3,35.3 182.4,35.9 181.3,35.7 180.3,35.6 179.2,35.4 178.4,34.6 177.6,33.8 176.5,33.5 175.4,33.2 176.2,31.6 176.7,30.0 175.9,30.6 175.1,31.3 174.4,31.9 173.6,32.4 172.7,32.9 171.7,33.5 170.7,34.1 169.8,34.5 168.9,34.9 168.0,35.4 167.0,35.8Z"/>
<path fill="#d1ed00" d="M181.2,65.9 182.3,65.7 183.4,65.5 184.5,65.3 185.6,65.2 186.6,65.1 187.6,65.1 188.7,65.0 189.7,64.9 190.8,64.9 191.8,64.8 192.9,64.7 193.9,64.6 194.1,66.1 194.2,67.6 194.4,69.1 194.6,70.6 194.7,72.1 194.9,73.6 195.1,75.1 195.2,76.6 195.4,78.0 195.6,79.5 195.7,81.0 195.4,82.2 195.1,83.3 194.2,83.5 193.2,83.7 192.5,85.2 191.8,86.8 191.3,87.7 190.8,88.6 189.6,88.9 188.4,89.2 187.5,89.7 186.5,90.1 185.6,90.6 184.4,90.1 183.3,89.7 182.1,90.2 181.0,90.8 181.2,89.2 181.4,87.6 182.2,86.2 183.1,84.9 182.7,83.6 182.4,82.4 182.6,80.8 182.4,79.3 182.3,77.8 182.2,76.3 182.0,74.8 181.9,73.4 181.8,71.9 181.6,70.4 181.5,68.9 181.4,67.4Z"/>
<path fill="#d1ed00" d="M193.9,64.6 194.9,64.5 196.0,64.3 197.0,64.2 198.1,64.0 199.1,63.8 200.1,63.7 201.2,63.9 202.3,64.2 203.1,64.6 203.8,64.9 204.9,64.7 206.0,64.4 207.0,64.2 207.7,64.1 208.4,64.0 209.4,63.1 210.4,62.2 211.3,61.3 212.3,60.7 213.4,60.1 213.6,61.5 213.8,62.9 214.1,64.3 214.3,65.7 214.5,67.1 214.8,68.5 214.6,70.0 214.6,71.3 214.6,72.6 214.4,73.6 214.2,74.6 213.5,75.7 212.8,76.8 211.7,77.6 210.6,78.4 210.3,79.7 209.7,80.5 209.1,81.2 208.8,82.5 207.9,83.2 207.0,83.9 205.9,83.1 204.8,82.2 203.7,82.6 202.6,83.0 201.5,83.3 200.7,82.9 199.9,82.4 198.6,81.6 197.3,80.8 196.5,80.9 195.7,81.0 195.6,79.5 195.4,78.0 195.2,76.6 195.1,75.1 194.9,73.6 194.7,72.1 194.6,70.6 194.4,69.1 194.2,67.6 194.1,66.1Z"/>
<path fill="#78cd00" d="M174.8,99.6 175.8,98.9 176.0,97.7 176.1,96.6 177.3,96.1 178.5,95.6 178.8,94.7 179.0,93.7 179.8,92.6 180.5,91.5 181.0,90.8 182.1,90.2 183.3,89.7 184.4,90.1 185.6,90.6 186.5,90.1 187.5,89.7 188.4,89.2 189.6,88.9 190.8,88.6 191.3,87.7 191.8,86.8 192.5,85.2 193.2,83.7 194.2,83.5 195.1,83.3 195.4,82.2 195.7,81.0 196.5,80.9 197.3,80.8 198.6,81.6 199.9,82.4 200.7,82.9 201.5,83.3 202.6,83.0 203.7,82.6 204.8,82.2 205.9,83.1 207.0,83.9 207.2,85.5 208.4,86.7 209.6,87.9 210.9,89.0 209.9,90.1 209.0,91.1 207.9,92.2 206.8,93.2 205.9,93.9 205.0,94.7 204.2,95.4 203.3,96.1 202.1,96.2 201.0,96.4 199.8,96.5 198.6,96.6 197.5,96.7 196.3,96.8 195.2,96.9 194.0,97.1 192.9,97.2 191.7,97.3 190.6,97.4 189.4,97.4 188.3,97.5 187.2,97.6 186.0,97.7 184.9,97.7 183.8,97.8 182.6,97.9 181.5,97.9 181.6,99.1 180.5,99.1 179.3,99.2 178.2,99.3 177.1,99.4 176.0,99.5Z"/>
<path fill="#d1ed00" d="M170.9,109.4 171.3,108.4 171.8,107.4 172.2,106.4 172.7,105.4 173.1,104.1 173.5,102.8 173.9,101.9 174.2,100.9 174.8,99.6 176.0,99.5 177.1,99.4 178.2,99.3 179.3,99.2 180.5,99.1 181.6,99.1 181.5,97.9 182.6,97.9 183.8,97.8 184.9,97.7 186.0,97.7 187.2,97.6 188.3,97.5 189.4,97.4 190.6,97.4 191.7,97.3 192.9,97.2 194.0,97.1 195.2,96.9 196.3,96.8 197.5,96.7 198.6,96.6 199.8,96.5 201.0,96.4 202.1,96.2 203.3,96.1 204.5,95.9 205.7,95.8 207.0,95.6 208.2,95.5 209.5,95.3 210.7,95.1 211.9,94.9 213.2,94.8 212.6,96.3 212.0,97.8 211.1,98.3 210.1,98.9 209.2,99.5 208.0,100.3 206.9,101.1 205.9,101.8 205.0,102.5 203.8,102.9 202.6,103.2 201.9,104.1 201.2,105.0 201.3,105.8 201.3,106.7 200.3,106.8 199.2,106.9 198.1,107.0 197.0,107.1 195.9,107.2 194.8,107.3 193.6,107.5 192.4,107.6 191.2,107.7 190.0,107.8 188.8,108.0 187.6,108.1 186.4,108.2 185.2,108.3 184.0,108.4 182.8,108.5 181.6,108.6 180.4,108.7 179.2,108.8 178.0,108.9 176.8,109.0 175.7,109.1 174.5,109.1 173.3,109.2 172.1,109.3Z"/>
<path fill="#78cd00" d="M170.9,109.4 172.1,109.3 173.3,109.2 174.5,109.1 175.7,109.1 176.8,109.0 178.0,108.9 179.2,108.8 180.4,108.7 181.6,108.6 181.6,110.1 181.6,111.7 181.7,113.2 181.7,114.7 181.7,116.2 181.7,117.7 181.7,119.3 181.7,120.8 181.7,122.3 181.7,123.8 181.8,125.3 181.8,126.8 181.8,128.4 182.0,129.9 182.1,131.5 182.3,133.0 182.5,134.6 182.7,136.2 182.9,137.7 181.8,137.8 180.7,137.9 179.7,138.0 178.7,138.4 177.8,138.9 176.9,139.4 176.6,138.2 176.3,136.9 175.9,135.7 175.5,134.5 174.2,134.5 172.9,134.6 171.6,134.7 170.3,134.8 169.1,134.8 167.8,134.9 166.5,135.0 165.2,135.0 165.5,133.7 165.8,132.5 166.3,130.9 166.8,129.3 167.2,128.0 167.7,126.7 167.9,125.7 168.1,124.8 167.6,123.5 167.1,122.1 167.2,120.6 167.3,119.1 167.0,117.8 166.7,116.6 167.6,115.5 168.6,114.4 169.6,113.3 170.0,112.0 170.5,110.7Z"/>
<path fill="#d1ed00" d="M181.6,108.6 182.8,108.5 184.0,108.4 185.2,108.3 186.4,108.2 187.6,108.1 188.8,108.0 190.0,107.8 191.2,107.7 192.4,107.6 193.6,107.5 194.8,107.3 195.2,108.8 195.6,110.3 196.0,111.7 196.4,113.2 196.8,114.7 197.3,116.1 197.7,117.6 198.1,119.1 198.5,120.5 199.1,121.6 199.7,122.7 199.9,124.3 200.1,125.9 200.0,127.5 199.9,129.1 200.3,130.6 200.8,132.2 199.5,132.3 198.3,132.4 197.0,132.6 195.7,132.7 194.5,132.8 193.2,133.0 191.9,133.1 190.7,133.2 189.4,133.3 188.1,133.5 186.9,133.6 187.2,135.0 187.5,136.5 187.8,137.9 186.7,138.2 185.7,138.4 185.3,137.0 184.9,135.6 184.7,136.8 184.5,137.9 183.7,137.8 182.9,137.7 182.7,136.2 182.5,134.6 182.3,133.0 182.1,131.5 182.0,129.9 181.8,128.4 181.8,126.8 181.8,125.3 181.7,123.8 181.7,122.3 181.7,120.8 181.7,119.3 181.7,117.7 181.7,116.2 181.7,114.7 181.7,113.2 181.6,111.7 181.6,110.1Z"/>
<path fill="#ffcc00" d="M194.8,107.3 195.9,107.2 197.0,107.1 198.1,107.0 199.2,106.9 200.3,106.8 201.3,106.7 202.6,106.5 203.8,106.3 205.0,106.1 206.3,106.0 207.5,105.8 207.0,106.8 206.5,107.8 207.5,108.3 208.5,108.8 209.6,109.3 210.5,110.5 211.4,111.6 212.6,112.6 213.8,113.5 214.9,114.8 216.0,116.1 216.8,117.3 217.6,118.4 218.4,119.6 219.5,120.6 220.5,121.6 221.6,122.6 221.2,124.1 220.7,125.6 220.3,127.3 219.9,128.9 219.9,130.2 220.0,131.5 219.0,132.1 218.0,132.6 217.0,133.2 216.1,132.9 214.8,133.0 213.5,133.1 212.2,133.2 210.9,133.3 209.6,133.4 208.3,133.5 207.0,133.6 205.7,133.7 204.4,133.8 203.1,133.9 201.8,133.9 201.3,133.1 200.8,132.2 200.3,130.6 199.9,129.1 200.0,127.5 200.1,125.9 199.9,124.3 199.7,122.7 199.1,121.6 198.5,120.5 198.1,119.1 197.7,117.6 197.3,116.1 196.8,114.7 196.4,113.2 196.0,111.7 195.6,110.3 195.2,108.8Z"/>
<path fill="#ffcc00" d="M186.9,133.6 188.1,133.5 189.4,133.3 190.7,133.2 191.9,133.1 193.2,133.0 194.5,132.8 195.7,132.7 197.0,132.6 198.3,132.4 199.5,132.3 200.8,132.2 201.3,133.1 201.8,133.9 203.1,133.9 204.4,133.8 205.7,133.7 207.0,133.6 208.3,133.5 209.6,133.4 210.9,133.3 212.2,133.2 213.5,133.1 214.8,133.0 216.1,132.9 217.0,133.2 218.0,132.6 219.0,132.1 220.0,131.5 220.5,132.9 221.0,134.3 221.5,135.7 222.1,136.9 222.7,138.1 223.3,139.3 223.9,140.4 224.8,141.8 225.8,143.1 226.8,144.4 227.1,146.0 227.5,147.5 228.4,148.9 229.3,150.4 230.2,151.8 231.0,153.2 231.4,154.8 231.8,156.3 232.0,157.7 232.1,159.2 232.3,160.6 231.8,162.3 231.4,163.9 230.5,164.6 229.6,165.2 228.4,165.5 227.3,165.7 226.6,164.3 226.0,162.9 224.6,162.2 223.2,161.5 222.4,160.0 221.6,158.5 220.5,157.4 219.5,156.3 218.6,155.2 217.7,154.1 216.8,152.9 216.0,151.5 215.2,150.0 215.3,148.7 215.4,147.4 215.5,146.1 215.2,144.9 214.9,143.7 213.7,142.9 212.5,142.1 211.4,141.0 210.3,139.9 209.2,138.7 207.8,138.0 206.3,137.2 205.5,137.6 204.8,138.0 203.8,138.9 202.8,139.8 201.8,140.6 200.8,140.6 199.8,140.5 199.6,139.6 199.4,138.7 198.2,138.1 197.0,137.4 195.9,136.8 194.5,136.8 193.1,136.8 191.8,137.1 190.5,137.4 189.1,137.6 187.8,137.9 187.5,136.5 187.2,135.0Z"/>
<path fill="#d1ed00" d="M231.8,109.3 230.3,108.1 228.7,106.9 227.5,106.1 226.2,105.2 224.9,104.4 223.8,104.6 222.7,104.7 221.6,104.9 220.4,105.0 219.3,105.2 219.1,104.3 218.8,103.5 217.7,103.3 216.5,103.5 215.2,103.6 213.9,103.7 212.6,103.8 211.4,104.0 210.4,104.4 209.4,104.9 208.5,105.3 207.5,105.8 207.0,106.8 206.5,107.8 207.5,108.3 208.5,108.8 209.6,109.3 210.5,110.5 211.4,111.6 212.6,112.6 213.8,113.5 214.9,114.8 216.0,116.1 216.8,117.3 217.6,118.4 218.4,119.6 219.5,120.6 220.5,121.6 221.6,122.6 222.2,121.7 222.9,120.8 224.0,119.8 225.1,118.7 226.1,117.7 227.3,116.5 228.4,115.4 228.7,114.3 229.1,113.3 230.0,112.0 230.9,110.6Z"/>
<path fill="#ffcc00" d="M201.3,106.7 201.3,105.8 201.2,105.0 201.9,104.1 202.6,103.2 203.8,102.9 205.0,102.5 205.9,101.8 206.9,101.1 208.0,100.3 209.2,99.5 210.1,98.9 211.1,98.3 212.0,97.8 212.6,96.3 213.2,94.8 214.4,94.6 215.6,94.4 216.8,94.2 218.0,94.1 219.2,93.9 220.4,93.7 221.6,93.5 222.8,93.3 224.0,93.1 225.2,92.9 226.4,92.7 227.5,92.5 228.7,92.3 229.9,92.1 231.1,91.9 232.3,91.6 233.5,91.4 234.7,91.2 235.9,91.0 237.1,90.7 238.3,90.5 239.5,90.3 240.6,90.0 241.8,89.8 241.9,90.9 241.9,92.1 242.6,93.0 243.4,94.0 242.4,95.5 241.7,96.5 241.0,97.4 242.1,98.8 241.2,99.7 240.3,100.5 240.1,101.8 239.1,102.4 238.2,102.9 237.3,103.8 236.5,104.7 235.6,105.6 235.2,107.2 234.9,108.7 233.8,108.9 232.8,109.1 231.8,109.3 230.3,108.1 228.7,106.9 227.5,106.1 226.2,105.2 224.9,104.4 223.8,104.6 222.7,104.7 221.6,104.9 220.4,105.0 219.3,105.2 219.1,104.3 218.8,103.5 217.7,103.3 216.5,103.5 215.2,103.6 213.9,103.7 212.6,103.8 211.4,104.0 210.4,104.4 209.4,104.9 208.5,105.3 207.5,105.8 206.3,106.0 205.0,106.1 203.8,106.3 202.6,106.5Z"/>
<path fill="#78cd00" d="M203.3,96.1 204.5,95.9 205.7,95.8 207.0,95.6 208.2,95.5 209.5,95.3 210.7,95.1 211.9,94.9 213.2,94.8 214.4,94.6 215.6,94.4 216.8,94.2 218.0,94.1 219.2,93.9 220.4,93.7 221.6,93.5 222.8,93.3 224.0,93.1 225.2,92.9 226.4,92.7 227.5,92.5 228.7,92.3 229.9,92.1 231.1,91.9 232.3,91.6 233.5,91.4 234.7,91.2 235.9,91.0 237.1,90.7 238.3,90.5 239.5,90.3 240.6,90.0 241.8,89.8 241.4,88.7 241.0,87.7 240.1,87.7 239.2,87.8 238.4,86.3 238.4,85.2 238.4,84.0 238.2,82.9 238.0,81.8 237.8,80.9 237.0,80.8 236.2,80.6 235.1,80.3 234.1,80.0 232.6,78.7 232.9,77.7 233.2,76.7 232.3,76.2 231.5,75.7 230.7,75.2 229.4,74.4 229.2,75.5 228.4,76.0 227.6,76.5 226.8,76.9 225.8,78.1 225.2,79.2 224.7,80.2 223.8,80.9 222.9,81.5 222.1,81.8 221.3,82.1 221.1,83.3 221.0,84.4 220.1,85.9 219.2,87.3 219.1,88.3 218.2,88.7 217.4,89.0 216.5,89.4 215.7,89.8 214.9,90.3 214.0,90.6 213.0,90.9 211.9,89.9 210.9,89.0 209.9,90.1 209.0,91.1 207.9,92.2 206.8,93.2 205.9,93.9 205.0,94.7 204.2,95.4ZM241.0,80.9 241.9,80.4 242.8,79.9 242.4,81.2 242.0,82.4 241.6,83.7 241.1,84.9 240.5,86.2 240.5,84.7 240.5,83.2 240.8,82.1Z"/>
<path fill="#38a800" d="M214.8,68.5 215.0,69.9 215.2,71.4 215.5,72.8 215.7,74.2 216.7,74.1 217.7,73.9 218.7,73.7 219.6,73.6 220.6,73.4 220.8,74.5 221.0,75.6 221.2,76.7 222.2,75.7 223.2,74.7 224.0,73.6 225.0,73.3 226.1,73.0 227.0,73.3 227.9,73.5 228.6,73.9 229.4,74.4 229.2,75.5 228.4,76.0 227.6,76.5 226.8,76.9 225.8,78.1 225.2,79.2 224.7,80.2 223.8,80.9 222.9,81.5 222.1,81.8 221.3,82.1 221.1,83.3 221.0,84.4 220.1,85.9 219.2,87.3 219.1,88.3 218.2,88.7 217.4,89.0 216.5,89.4 215.7,89.8 214.9,90.3 214.0,90.6 213.0,90.9 211.9,89.9 210.9,89.0 209.6,87.9 208.4,86.7 207.2,85.5 207.0,83.9 207.9,83.2 208.8,82.5 209.1,81.2 209.7,80.5 210.3,79.7 210.6,78.4 211.7,77.6 212.8,76.8 213.5,75.7 214.2,74.6 214.4,73.6 214.6,72.6 214.6,71.3 214.6,70.0Z"/>
<path fill="#d1ed00" d="M213.4,60.1 214.3,59.4 215.1,58.7 215.8,58.2 216.6,57.7 216.7,58.5 216.8,59.4 218.0,59.2 219.1,59.0 220.2,58.8 221.3,58.6 222.4,58.4 223.5,58.2 224.7,58.0 225.8,57.7 226.9,57.5 228.0,57.3 229.1,57.1 230.2,56.9 231.3,56.6 232.4,56.4 233.6,56.2 234.7,55.9 235.8,55.7 236.9,55.5 237.6,55.9 238.3,56.4 238.8,57.3 239.2,58.2 240.0,58.5 240.8,58.8 240.2,60.4 239.6,62.0 239.6,63.0 239.5,64.0 240.5,65.0 241.4,65.7 242.2,66.3 241.6,67.1 240.9,67.9 240.3,68.5 239.7,69.1 238.8,69.6 238.0,70.0 236.8,70.3 235.7,70.5 234.5,70.8 233.4,71.0 232.2,71.2 231.1,71.5 229.9,71.7 228.7,71.9 227.6,72.1 226.4,72.4 225.3,72.6 224.1,72.8 222.9,73.0 221.8,73.2 220.6,73.4 219.6,73.6 218.7,73.7 217.7,73.9 216.7,74.1 215.7,74.2 215.5,72.8 215.2,71.4 215.0,69.9 214.8,68.5 214.5,67.1 214.3,65.7 214.1,64.3 213.8,62.9 213.6,61.5Z"/>
<path fill="#78cd00" d="M216.6,57.7 217.3,56.8 218.0,55.9 218.7,55.0 219.5,54.1 219.8,53.1 219.2,52.0 218.7,51.0 219.5,50.6 220.2,50.2 221.0,49.8 222.1,49.8 223.1,49.8 224.1,49.8 225.2,49.8 226.1,49.5 226.9,49.3 227.8,49.0 228.7,48.8 229.7,47.9 230.7,47.1 230.6,45.6 230.5,44.2 229.8,42.7 230.7,41.7 231.6,40.7 232.5,39.3 233.3,37.8 234.1,37.3 234.9,36.8 235.7,36.3 236.7,36.1 237.6,35.8 238.6,35.6 239.6,35.3 240.6,35.1 241.5,34.8 241.8,36.1 242.1,37.4 242.3,38.6 242.6,39.9 242.8,41.1 243.3,42.3 243.8,43.5 244.1,43.7 244.4,44.9 244.7,46.2 244.9,47.4 245.2,48.6 245.2,50.2 245.2,51.7 245.2,53.2 245.6,54.7 245.9,56.1 246.3,57.6 246.6,59.1 246.1,59.9 245.4,61.0 244.9,60.1 243.8,59.8 242.8,59.5 241.8,59.1 240.8,58.8 240.0,58.5 239.2,58.2 238.8,57.3 238.3,56.4 237.6,55.9 236.9,55.5 235.8,55.7 234.7,55.9 233.6,56.2 232.4,56.4 231.3,56.6 230.2,56.9 229.1,57.1 228.0,57.3 226.9,57.5 225.8,57.7 224.7,58.0 223.5,58.2 222.4,58.4 221.3,58.6 220.2,58.8 219.1,59.0 218.0,59.2 216.8,59.4 216.7,58.5ZM245.1,62.8 245.6,62.8 246.6,62.3 247.6,61.9 248.5,61.4 249.5,61.0 250.5,60.1 251.5,59.3 252.5,58.4 253.5,57.5 252.6,57.8 251.7,58.1 250.9,58.6 250.0,59.0 249.2,59.4 248.1,59.9 247.1,60.4 246.1,60.8 245.2,62.0Z"/>
<path fill="#38a800" d="M250.8,30.6 251.9,30.8 252.3,29.2 252.7,27.6 253.1,26.1 253.1,24.8 253.1,23.5 253.1,22.2 253.0,20.9 253.5,19.5 254.0,18.1 254.5,16.8 254.9,15.4 255.9,15.3 256.9,15.2 257.9,15.0 258.9,14.9 260.2,15.4 261.5,16.0 261.9,17.3 262.4,18.6 262.8,20.0 263.2,21.3 263.6,22.7 264.6,23.5 265.7,24.3 266.8,25.7 267.9,27.0 269.0,28.3 268.2,29.6 267.5,31.0 266.7,31.6 266.0,32.2 265.2,32.7 264.4,33.3 263.2,33.2 262.0,33.0 261.3,34.4 260.7,35.8 260.0,37.2 259.1,38.1 258.3,39.0 257.4,39.9 257.0,41.2 256.5,42.4 256.1,43.7 255.3,42.5 254.4,41.1 253.6,39.6 253.2,38.2 252.9,36.8 252.5,35.4 252.1,34.2 251.7,33.0 251.2,31.8Z"/>
<path fill="#38a800" d="M249.5,32.8 250.1,31.7 250.8,30.6 251.2,31.8 251.7,33.0 252.1,34.2 252.5,35.4 252.9,36.8 253.2,38.2 253.6,39.6 254.4,41.1 255.3,42.5 256.1,43.7 256.0,45.1 255.0,45.9 254.1,46.7 253.0,47.0 252.0,47.2 250.9,47.4 249.9,47.6 248.9,47.9 248.6,46.4 248.4,44.9 248.2,43.3 248.1,41.7 248.1,40.4 248.2,39.1 248.2,37.8 249.0,36.9 249.9,36.1 249.7,35.0 249.6,33.9Z"/>
<path fill="#38a800" d="M241.5,34.8 242.5,34.6 243.5,34.4 244.5,34.1 245.5,33.9 246.5,33.6 247.5,33.4 248.5,33.1 249.5,32.8 249.6,33.9 249.7,35.0 249.9,36.1 249.0,36.9 248.2,37.8 248.2,39.1 248.1,40.4 248.1,41.7 248.2,43.3 248.4,44.9 248.6,46.4 248.9,47.9 248.0,48.1 247.0,48.3 246.1,48.5 245.2,48.6 244.9,47.4 244.7,46.2 244.4,44.9 244.1,43.7 243.8,43.5 243.3,42.3 242.8,41.1 242.6,39.9 242.3,38.6 242.1,37.4 241.8,36.1Z"/>
<path fill="#38a800" d="M245.2,53.2 245.2,51.7 245.2,50.2 245.2,48.6 246.1,48.5 247.0,48.3 248.0,48.1 248.9,47.9 249.9,47.6 250.9,47.4 252.0,47.2 253.0,47.0 254.1,46.7 255.0,45.9 256.0,45.1 257.3,46.2 256.7,47.5 256.1,48.8 257.1,49.7 258.2,50.5 259.0,51.5 259.8,51.3 260.6,51.1 261.5,50.9 261.1,50.1 260.7,49.2 261.3,50.3 261.8,51.4 261.1,51.8 260.3,52.3 259.5,52.8 258.6,52.9 257.7,53.0 256.8,53.9 256.1,52.7 255.5,51.9 254.8,51.0 253.9,51.3 252.9,51.5 251.8,51.8 250.7,52.0 249.6,52.3 248.5,52.5 247.4,52.7 246.3,53.0Z"/>
<path fill="#38a800" d="M245.2,53.2 246.3,53.0 247.4,52.7 248.5,52.5 249.6,52.3 250.7,52.0 251.8,51.8 252.9,51.5 253.2,53.0 253.5,54.4 253.8,55.8 252.9,56.2 251.9,56.5 250.9,56.9 249.9,57.4 248.8,57.9 247.9,58.5 247.0,59.2 246.1,59.9 246.6,59.1 246.3,57.6 245.9,56.1 245.6,54.7Z"/>
<path fill="#38a800" d="M254.8,51.0 253.9,51.3 252.9,51.5 253.2,53.0 253.5,54.4 253.8,55.8 254.6,55.5 255.3,55.1 256.1,54.5 256.8,53.9 256.1,52.7 255.5,51.9Z"/>
<path fill="#78cd00" d="M240.8,58.8 241.8,59.1 242.8,59.5 243.8,59.8 244.9,60.1 244.9,61.1 244.9,62.1 244.1,63.6 245.4,63.9 245.5,65.2 245.7,66.5 245.8,68.1 245.0,69.7 244.1,71.4 243.6,72.7 243.0,74.0 241.8,73.0 240.6,71.9 239.3,70.5 239.7,69.1 240.3,68.5 240.9,67.9 241.6,67.1 242.2,66.3 241.4,65.7 240.5,65.0 239.5,64.0 239.6,63.0 239.6,62.0 240.2,60.4Z"/>
<path fill="#38a800" d="M238.0,70.0 238.8,69.6 239.7,69.1 239.0,70.6 239.7,71.6 240.5,72.5 241.5,73.8 242.5,75.0 242.8,76.1 243.2,77.1 242.2,77.4 241.1,77.6 240.1,77.8 239.8,76.5 239.4,75.2 239.0,73.9 238.7,72.6 238.3,71.3Z"/>
<path fill="#38a800" d="M220.6,73.4 221.8,73.2 222.9,73.0 224.1,72.8 225.3,72.6 226.4,72.4 227.6,72.1 228.7,71.9 229.9,71.7 231.1,71.5 232.2,71.2 233.4,71.0 234.5,70.8 235.7,70.5 236.8,70.3 238.0,70.0 238.3,71.3 238.7,72.6 239.0,73.9 239.4,75.2 239.8,76.5 240.1,77.8 241.1,77.6 242.2,77.4 243.2,77.1 243.0,78.5 242.8,79.9 241.9,80.4 241.0,80.9 240.0,80.1 238.9,79.4 238.0,78.4 237.1,77.5 237.0,76.2 237.0,74.9 236.9,73.5 236.9,72.0 236.3,72.9 235.8,73.9 235.8,74.8 235.7,75.8 236.3,77.3 236.8,78.8 237.3,79.9 237.8,80.9 237.0,80.8 236.2,80.6 235.1,80.3 234.1,80.0 232.6,78.7 232.9,77.7 233.2,76.7 232.3,76.2 231.5,75.7 230.7,75.2 229.4,74.4 228.6,73.9 227.9,73.5 227.0,73.3 226.1,73.0 225.0,73.3 224.0,73.6 223.2,74.7 222.2,75.7 221.2,76.7 221.0,75.6 220.8,74.5Z"/>
<path fill="#bbb" d="M16.7,100.0 19.0,100.4 21.4,101.2 19.3,101.3 17.3,100.8Z"/>
<path fill="#bbb" d="M25.1,105.9 26.4,107.0 25.6,107.2Z"/>
<path fill="#bbb" d="M24.4,108.6 24.8,110.2 24.8,109.3Z"/>
<path fill="#bbb" d="M258.1,53.8 260.0,53.6 259.4,54.1Z"/>
<path fill="#bbb" d="M261.3,53.8 262.5,53.9 261.9,54.1Z"/>
</g>
<g fill="none" stroke="#777" stroke-width="0.6" stroke-linecap="round">
<path d="M231.4,164.2 230.3,166.3 228.3,168.1 225.5,169.2 223.8,169.8"/>
<path d="M241.8,89.8 242.9,91.8 244.5,94.1 245.6,97.4 244.3,98.5 242.8,100.0 241.5,102.2 239.9,102.3"/>
<path d="M170.5,27.9 173.8,25.6"/>
</g>
<g font-size="5.4" fill="#222" text-anchor="middle" fill-opacity="0.62">
<text x="41.1" y="20.3">WA</text>
<text x="31.0" y="40.9">OR</text>
<text x="56.4" y="44.3">ID</text>
<text x="84.6" y="31.7">MT</text>
<text x="89.2" y="58.2">WY</text>
<text x="42.7" y="73.7">NV</text>
<text x="23.2" y="83.9">CA</text>
<text x="66.9" y="78.3">UT</text>
<text x="95.5" y="84.5">CO</text>
<text x="61.5" y="110.3">AZ</text>
<text x="90.6" y="112.7">NM</text>
<text x="122.7" y="32.6">ND</text>
<text x="123.2" y="51.6">SD</text>
<text x="147.8" y="40.5">MN</text>
<text x="169.7" y="51.6">WI</text>
<text x="190.4" y="53.6">MI</text>
<text x="180.0" y="41.3">MI</text>
<text x="126.9" y="70.0">NE</text>
<text x="153.7" y="67.1">IA</text>
<text x="173.0" y="79.0">IL</text>
<text x="188.4" y="78.5">IN</text>
<text x="130.5" y="89.4">KS</text>
<text x="157.5" y="89.9">MO</text>
<text x="135.1" y="108.1">OK</text>
<text x="159.1" y="112.1">AR</text>
<text x="188.8" y="104.1">TN</text>
<text x="175.1" y="123.2">MS</text>
<text x="189.0" y="122.7">AL</text>
<text x="160.6" y="135.8">LA</text>
<text x="123.4" y="133.6">TX</text>
<text x="238.3" y="51.5">NY</text>
<text x="226.8" y="66.4">PA</text>
<text x="204.4" y="74.0">OH</text>
<text x="259.0" y="28.2">ME</text>
<text x="252.3" y="50.5">MA</text>
<text x="228.4" y="88.5">VA</text>
<text x="225.5" y="100.7">NC</text>
<text x="198.4" y="92.5">KY</text>
<text x="215.0" y="83.2">WV</text>
<text x="221.7" y="112.7">SC</text>
<text x="209.5" y="122.5">GA</text>
<text x="220.4" y="146.2">FL</text>
<text x="246.6" y="42.7">VT</text>
<text x="251.4" y="42.6">NH</text>
<text x="249.9" y="57.7">CT</text>
<text x="256.0" y="57.1">RI</text>
</g>
<text x="8.6" y="142.5" font-size="9.1" transform="matrix(1 0 0 1.07 0 -9.975)" fill="#1a1a1a" stroke="#1a1a1a" stroke-width="0.15">Thousand acres</text>
<g font-size="8.5" fill="#1a1a1a" stroke="#1a1a1a" stroke-width="0.15" text-anchor="middle">
<text x="25.5" y="151.6" transform="matrix(1 0 0 1.07 0 -10.612)">50</text>
<text x="54.3" y="151.6" transform="matrix(1 0 0 1.07 0 -10.612)">200</text>
<text x="83.7" y="151.6" transform="matrix(1 0 0 1.07 0 -10.612)">600</text>
<text x="10.1" y="168.9" transform="matrix(1 0 0 1.07 0 -11.823)">0</text>
<text x="40.3" y="168.9" transform="matrix(1 0 0 1.07 0 -11.823)">100</text>
<text x="68.5" y="168.9" transform="matrix(1 0 0 1.07 0 -11.823)">400</text>
<text x="92.7" y="168.9" transform="matrix(1 0 0 1.07 0 -11.823)">1026</text>
</g>
<rect x="9.90" y="154.1" width="14.85" height="5.7" fill="#38a800" stroke="#707070" stroke-width="0.4"/>
<rect x="24.75" y="154.1" width="14.85" height="5.7" fill="#78cd00" stroke="#707070" stroke-width="0.4"/>
<rect x="39.60" y="154.1" width="14.85" height="5.7" fill="#d1ed00" stroke="#707070" stroke-width="0.4"/>
<rect x="54.45" y="154.1" width="14.85" height="5.7" fill="#ffcc00" stroke="#707070" stroke-width="0.4"/>
<rect x="69.30" y="154.1" width="14.85" height="5.7" fill="#ff6600" stroke="#707070" stroke-width="0.4"/>
<rect x="84.15" y="154.1" width="14.85" height="5.7" fill="#ff0000" stroke="#707070" stroke-width="0.4"/>
<text x="138.9" y="186.0" font-size="10.4" letter-spacing="0.3" fill="#1e1e1e" stroke="#1e1e1e" stroke-width="0.18" text-anchor="middle">(a) Ag land conversion to UHD</text>
</g>
<g transform="translate(273.4,0)">
<rect x="5.6" y="4.2" width="266.5" height="166.4" fill="#fff" stroke="#3a3a3a" stroke-width="1.3"/>
<g stroke="#6e6e6e" stroke-width="0.45" stroke-linejoin="round">
<path fill="#d1ed00" d="M31.4,6.1 32.4,6.4 33.4,6.6 34.4,6.9 35.4,7.2 36.4,7.5 37.4,7.8 38.4,8.0 39.5,8.3 40.5,8.6 41.5,8.8 42.5,9.1 43.5,9.4 44.5,9.6 45.5,9.9 46.5,10.1 47.5,10.4 48.5,10.6 49.5,10.9 50.5,11.1 51.6,11.3 52.6,11.6 53.6,11.8 54.6,12.0 54.3,13.5 53.9,14.9 53.6,16.3 53.3,17.7 53.0,19.2 52.7,20.6 52.3,22.0 52.0,23.5 51.7,24.9 51.4,26.3 51.0,27.8 51.0,29.1 51.0,30.4 50.0,30.2 49.0,30.0 48.0,29.8 47.0,29.5 46.0,29.3 45.1,29.1 44.1,28.8 43.1,28.6 42.1,28.4 41.2,28.3 40.3,28.3 39.4,28.2 38.3,28.2 37.2,28.2 36.1,28.2 34.9,28.1 34.0,28.1 33.1,28.1 32.2,28.1 31.1,27.9 30.0,27.7 28.9,27.5 27.8,27.4 27.1,27.0 26.4,26.6 25.7,26.2 25.7,24.8 25.8,23.3 24.8,22.7 23.9,22.1 23.1,21.7 22.3,21.3 21.5,20.9 21.8,19.6 22.0,18.3 22.2,17.0 22.3,15.7 22.4,14.5 22.5,13.2 22.5,11.7 22.5,10.3 22.5,8.9 22.5,7.4 23.4,8.0 24.3,8.6 25.2,9.1 26.1,9.7 27.0,10.3 27.9,10.7 28.8,11.0 29.7,11.4 29.8,12.7 29.5,14.3 29.3,15.8 28.4,16.6 27.6,17.3 28.7,17.0 29.8,16.6 30.2,15.8 30.7,14.9 31.1,13.8 31.6,12.6 31.6,11.0 31.6,9.4 31.5,7.7Z"/>
<path fill="#78cd00" d="M21.5,20.9 22.3,21.3 23.1,21.7 23.9,22.1 24.8,22.7 25.8,23.3 25.7,24.8 25.7,26.2 26.4,26.6 27.1,27.0 27.8,27.4 28.9,27.5 30.0,27.7 31.1,27.9 32.2,28.1 33.1,28.1 34.0,28.1 34.9,28.1 36.1,28.2 37.2,28.2 38.3,28.2 39.4,28.2 40.3,28.3 41.2,28.3 42.1,28.4 43.1,28.6 44.1,28.8 45.1,29.1 46.0,29.3 47.0,29.5 48.0,29.8 49.0,30.0 50.0,30.2 51.0,30.4 51.5,31.7 51.9,32.6 52.3,33.5 51.1,34.9 50.5,35.8 49.9,36.7 48.7,38.0 48.1,39.3 47.4,40.6 48.0,41.1 48.6,41.7 48.0,42.7 47.5,43.7 47.2,45.1 46.9,46.5 46.5,47.9 46.2,49.4 45.9,50.8 45.6,52.2 45.3,53.6 45.0,55.0 43.8,54.7 42.7,54.5 41.6,54.2 40.5,53.9 39.4,53.7 38.2,53.4 37.1,53.1 36.0,52.9 34.9,52.6 33.8,52.3 32.7,52.0 31.5,51.7 30.4,51.4 29.3,51.2 28.2,50.9 27.1,50.6 26.0,50.3 24.9,50.0 23.8,49.6 22.7,49.3 21.6,49.0 20.5,48.7 19.4,48.4 18.2,48.1 17.1,47.7 16.0,47.4 14.9,47.1 13.8,46.8 12.7,46.4 12.8,45.0 12.8,43.6 12.8,42.3 12.8,40.9 13.6,39.6 14.5,38.3 15.3,37.0 16.1,35.8 16.9,34.5 17.5,33.0 18.1,31.5 18.6,30.0 19.2,28.6 19.8,27.1 20.3,25.6 20.6,24.4 20.9,23.3 21.2,22.1Z"/>
<path fill="#ffcc00" d="M12.7,46.4 13.8,46.8 14.9,47.1 16.0,47.4 17.1,47.7 18.2,48.1 19.4,48.4 20.5,48.7 21.6,49.0 22.7,49.3 23.8,49.6 24.9,50.0 26.0,50.3 27.1,50.6 28.2,50.9 29.3,51.2 30.4,51.4 31.6,51.7 31.2,53.3 30.8,54.8 30.4,56.3 30.0,57.9 29.6,59.4 29.2,60.9 28.8,62.5 28.4,64.0 28.0,65.6 27.6,67.1 27.2,68.6 26.8,70.2 27.6,71.6 28.5,73.0 29.4,74.4 30.3,75.8 31.1,77.2 32.0,78.6 32.9,80.0 33.8,81.4 34.8,82.8 35.7,84.2 36.6,85.6 37.5,87.0 38.5,88.4 39.4,89.8 40.4,91.2 41.3,92.6 42.3,94.0 43.2,95.4 44.2,96.7 45.2,98.1 46.2,99.5 47.2,100.9 47.5,102.1 47.8,103.4 48.2,104.6 48.8,105.7 48.0,106.3 47.1,106.8 46.5,108.3 46.0,109.7 44.8,110.8 45.1,112.1 45.4,113.5 44.6,114.2 43.9,115.0 42.6,114.8 41.4,114.7 40.1,114.6 38.8,114.4 37.6,114.3 36.3,114.1 35.1,114.0 33.8,113.8 32.5,113.7 31.3,113.5 31.1,112.6 31.0,111.7 30.7,110.3 30.4,108.9 30.1,107.6 29.0,106.6 28.0,105.7 27.0,104.8 26.7,103.8 26.4,102.8 25.3,102.2 24.2,101.6 23.1,101.0 22.1,100.4 21.1,99.7 20.1,99.1 19.1,98.5 18.1,97.8 17.1,97.2 17.3,95.7 17.4,94.2 17.5,92.7 16.7,91.0 15.8,89.3 15.0,87.7 14.1,86.0 13.3,84.3 13.5,83.4 13.8,82.5 14.7,81.1 13.9,80.1 13.2,79.1 12.4,78.1 12.6,76.8 12.8,75.6 13.0,74.3 12.0,73.4 11.0,72.4 10.6,70.8 10.2,69.2 9.8,67.6 9.3,66.0 9.6,64.6 9.9,63.1 10.2,61.7 10.5,60.3 10.0,59.1 9.5,57.8 8.9,56.5 9.8,55.2 10.6,53.9 11.4,52.6 11.7,51.1 12.1,49.5 12.4,48.0Z"/>
<path fill="#38a800" d="M31.6,51.7 32.7,52.0 33.8,52.3 34.9,52.6 36.0,52.9 37.1,53.1 38.3,53.4 39.4,53.7 40.5,53.9 41.6,54.2 42.7,54.5 43.9,54.7 45.0,55.0 46.1,55.2 47.2,55.5 48.4,55.7 49.5,56.0 50.6,56.2 51.7,56.4 52.9,56.7 54.0,56.9 55.1,57.1 56.2,57.4 57.4,57.6 58.5,57.8 58.2,59.4 57.9,60.9 57.6,62.5 57.3,64.0 57.0,65.6 56.7,67.1 56.4,68.7 56.1,70.3 55.8,71.8 55.5,73.4 55.2,74.9 54.9,76.5 54.6,78.1 54.3,79.6 54.0,81.2 53.7,82.7 53.4,84.3 53.1,85.9 52.8,87.4 52.5,89.0 52.3,90.2 52.0,91.5 51.8,92.7 51.5,94.0 50.3,94.1 49.1,94.3 47.9,94.4 48.0,95.6 48.0,96.7 48.1,97.8 47.6,99.4 47.2,100.9 46.2,99.5 45.2,98.1 44.2,96.7 43.2,95.4 42.3,94.0 41.3,92.6 40.4,91.2 39.4,89.8 38.5,88.4 37.5,87.0 36.6,85.6 35.7,84.2 34.8,82.8 33.8,81.4 32.9,80.0 32.0,78.6 31.1,77.2 30.3,75.8 29.4,74.4 28.5,73.0 27.6,71.6 26.8,70.2 27.2,68.6 27.6,67.1 28.0,65.6 28.4,64.0 28.8,62.5 29.2,60.9 29.6,59.4 30.0,57.9 30.4,56.3 30.8,54.8 31.2,53.3Z"/>
<path fill="#78cd00" d="M54.6,12.0 55.6,12.3 56.6,12.5 57.6,12.7 58.6,12.9 58.3,14.4 58.0,16.0 57.7,17.5 57.3,19.0 57.6,20.2 57.8,21.5 58.1,22.7 58.8,23.5 59.5,24.3 60.2,25.7 61.0,27.1 61.7,28.5 62.6,29.7 62.2,30.9 61.8,32.1 61.4,33.3 61.1,34.3 60.8,35.3 61.8,35.5 62.9,35.6 63.9,35.7 64.1,37.1 64.4,38.5 64.7,39.9 65.4,41.2 66.2,42.4 66.9,43.6 68.1,43.5 69.3,43.4 70.1,43.5 71.0,43.7 71.9,43.8 72.8,44.0 73.7,44.4 74.7,44.7 74.4,46.3 74.2,47.8 74.0,49.4 73.7,50.9 73.5,52.5 73.2,54.0 73.0,55.6 72.7,57.1 72.5,58.7 72.2,60.2 71.1,60.0 69.9,59.9 68.8,59.7 67.7,59.5 66.5,59.3 65.4,59.1 64.2,58.9 63.1,58.7 62.0,58.5 60.8,58.2 59.7,58.0 58.5,57.8 57.4,57.6 56.3,57.4 55.1,57.1 54.0,56.9 52.9,56.7 51.7,56.4 50.6,56.2 49.5,56.0 48.3,55.7 47.2,55.5 46.1,55.2 45.0,55.0 45.3,53.6 45.6,52.2 45.9,50.8 46.2,49.4 46.5,47.9 46.9,46.5 47.2,45.1 47.5,43.7 48.0,42.7 48.6,41.7 48.0,41.1 47.4,40.6 48.1,39.3 48.7,38.0 49.9,36.7 50.5,35.8 51.1,34.9 52.3,33.5 51.9,32.6 51.5,31.7 51.0,30.4 51.0,29.1 51.0,27.8 51.4,26.3 51.7,24.9 52.0,23.5 52.3,22.0 52.7,20.6 53.0,19.2 53.3,17.7 53.6,16.3 53.9,14.9 54.3,13.5Z"/>
<path fill="#d1ed00" d="M58.6,12.9 59.7,13.1 60.7,13.4 61.7,13.6 62.7,13.8 63.7,14.0 64.8,14.2 65.8,14.4 66.8,14.6 67.9,14.8 68.9,15.0 69.9,15.2 70.9,15.4 72.0,15.5 73.0,15.7 74.0,15.9 75.1,16.1 76.1,16.3 77.1,16.4 78.1,16.6 79.2,16.8 80.2,16.9 81.2,17.1 82.3,17.3 83.3,17.4 84.3,17.6 85.4,17.7 86.4,17.9 87.4,18.0 88.5,18.1 89.5,18.3 90.5,18.4 91.6,18.6 92.6,18.7 93.7,18.8 94.7,18.9 95.7,19.1 96.8,19.2 97.8,19.3 98.9,19.4 99.9,19.5 100.9,19.6 102.0,19.7 103.0,19.8 104.0,20.0 105.1,20.0 106.1,20.1 107.2,20.2 108.2,20.3 108.1,21.9 107.9,23.4 107.8,25.0 107.7,26.5 107.5,28.1 107.4,29.6 107.3,31.2 107.2,32.8 107.0,34.3 106.9,35.9 106.8,37.4 106.6,39.0 106.5,40.6 106.3,42.1 106.2,43.7 106.1,45.3 105.0,45.2 103.9,45.1 102.8,45.0 101.7,44.9 100.6,44.8 99.4,44.7 98.3,44.6 97.2,44.4 96.1,44.3 95.0,44.2 93.9,44.1 92.8,43.9 91.7,43.8 90.6,43.7 89.5,43.5 88.4,43.4 87.3,43.3 86.2,43.1 85.1,43.0 84.0,42.8 82.9,42.7 81.8,42.5 80.7,42.3 79.6,42.2 78.5,42.0 77.4,41.8 76.3,41.7 75.2,41.5 75.0,42.6 74.9,43.7 74.7,44.7 73.7,44.4 72.8,44.0 71.9,43.8 71.0,43.7 70.1,43.5 69.3,43.4 68.1,43.5 66.9,43.6 66.2,42.4 65.4,41.2 64.7,39.9 64.4,38.5 64.1,37.1 63.9,35.7 62.9,35.6 61.8,35.5 60.8,35.3 61.1,34.3 61.4,33.3 61.8,32.1 62.2,30.9 62.6,29.7 61.7,28.5 61.0,27.1 60.2,25.7 59.5,24.3 58.8,23.5 58.1,22.7 57.8,21.5 57.6,20.2 57.3,19.0 57.7,17.5 58.0,16.0 58.3,14.4 58.6,12.9Z"/>
<path fill="#78cd00" d="M75.2,41.5 76.3,41.7 77.4,41.8 78.5,42.0 79.6,42.2 80.7,42.3 81.8,42.5 82.9,42.7 84.0,42.8 85.1,43.0 86.2,43.1 87.3,43.3 88.4,43.4 89.5,43.5 90.6,43.7 91.7,43.8 92.8,43.9 93.9,44.1 95.0,44.2 96.1,44.3 97.2,44.4 98.3,44.6 99.4,44.7 100.6,44.8 101.7,44.9 102.8,45.0 103.9,45.1 105.0,45.2 106.1,45.3 105.9,46.9 105.8,48.4 105.7,50.0 105.5,51.6 105.4,53.1 105.3,54.7 105.1,56.3 105.0,57.9 104.9,59.4 104.7,61.0 104.6,62.6 104.5,64.2 104.3,65.8 104.2,67.3 104.1,68.9 103.9,70.5 102.8,70.4 101.6,70.3 100.4,70.2 99.2,70.1 98.1,70.0 96.9,69.8 95.7,69.7 94.6,69.6 93.4,69.5 92.2,69.3 91.0,69.2 89.9,69.1 88.7,68.9 87.5,68.8 86.4,68.6 85.2,68.5 84.0,68.3 82.9,68.2 81.7,68.0 80.5,67.9 79.4,67.7 78.2,67.5 77.0,67.4 75.9,67.2 74.7,67.0 73.5,66.9 72.4,66.7 71.2,66.5 71.5,64.9 71.7,63.4 72.0,61.8 72.2,60.2 72.5,58.7 72.7,57.1 73.0,55.5 73.2,54.0 73.5,52.4 73.7,50.8 74.0,49.3 74.2,47.7 74.5,46.2 74.7,44.6 75.0,43.1Z"/>
<path fill="#78cd00" d="M58.5,57.8 59.6,58.0 60.8,58.2 61.9,58.5 63.1,58.7 64.2,58.9 65.3,59.1 66.5,59.3 67.6,59.5 68.8,59.7 69.9,59.9 71.1,60.0 72.2,60.2 72.0,61.8 71.7,63.4 71.5,64.9 71.2,66.5 72.4,66.7 73.5,66.9 74.7,67.0 75.9,67.2 77.0,67.4 78.2,67.5 79.4,67.7 80.5,67.9 80.3,69.4 80.1,71.0 79.9,72.6 79.7,74.2 79.4,75.7 79.2,77.3 79.0,78.9 78.8,80.5 78.6,82.0 78.4,83.6 78.1,85.2 77.9,86.8 77.7,88.3 77.5,89.9 77.3,91.5 77.0,93.0 75.8,92.9 74.6,92.7 73.3,92.5 72.1,92.3 70.9,92.2 69.7,92.0 68.4,91.8 67.2,91.6 66.0,91.4 64.7,91.2 63.5,91.0 62.3,90.8 61.1,90.6 59.8,90.3 58.6,90.1 57.4,89.9 56.2,89.7 54.9,89.4 53.7,89.2 52.5,89.0 52.8,87.4 53.1,85.9 53.4,84.3 53.7,82.7 54.0,81.2 54.3,79.6 54.6,78.1 54.9,76.5 55.2,74.9 55.5,73.4 55.8,71.8 56.1,70.3 56.4,68.7 56.7,67.1 57.0,65.6 57.3,64.0 57.6,62.5 57.9,60.9 58.2,59.4Z"/>
<path fill="#ffcc00" d="M80.5,67.9 81.7,68.0 82.9,68.2 84.0,68.3 85.2,68.5 86.4,68.6 87.5,68.8 88.7,68.9 89.9,69.1 91.0,69.2 92.2,69.3 93.4,69.5 94.6,69.6 95.7,69.7 96.9,69.8 98.1,70.0 99.2,70.1 100.4,70.2 101.6,70.3 102.8,70.4 103.9,70.5 105.1,70.6 106.3,70.7 107.5,70.8 108.6,70.9 109.8,71.0 111.0,71.0 112.1,71.1 113.3,71.2 113.2,72.8 113.1,74.4 113.0,75.9 112.9,77.5 112.8,79.1 112.7,80.7 112.6,82.3 112.5,83.9 112.4,85.5 112.3,87.0 112.2,88.6 112.1,90.2 112.0,91.8 111.9,93.4 111.8,95.0 111.7,96.6 110.5,96.5 109.2,96.4 108.0,96.3 106.7,96.2 105.5,96.1 104.3,96.0 103.0,95.9 101.8,95.8 100.5,95.7 99.3,95.6 98.1,95.5 96.8,95.4 95.6,95.2 94.3,95.1 93.1,95.0 91.9,94.9 90.6,94.7 89.4,94.6 88.2,94.5 86.9,94.3 85.7,94.2 84.4,94.0 83.2,93.9 82.0,93.7 80.7,93.5 79.5,93.4 78.3,93.2 77.0,93.0 77.3,91.5 77.5,89.9 77.7,88.3 77.9,86.8 78.1,85.2 78.4,83.6 78.6,82.0 78.8,80.5 79.0,78.9 79.2,77.3 79.4,75.7 79.7,74.2 79.9,72.6 80.1,71.0 80.3,69.4Z"/>
<path fill="#d1ed00" d="M52.5,89.0 53.7,89.2 54.9,89.4 56.2,89.7 57.4,89.9 58.6,90.1 59.8,90.3 61.1,90.6 62.3,90.8 63.5,91.0 64.7,91.2 66.0,91.4 67.2,91.6 68.4,91.8 69.7,92.0 70.9,92.2 72.1,92.3 73.3,92.5 74.6,92.7 75.8,92.9 77.0,93.0 76.8,94.6 76.6,96.1 76.4,97.7 76.2,99.2 76.0,100.8 75.8,102.4 75.5,103.9 75.3,105.5 75.1,107.0 74.9,108.5 74.7,110.1 74.5,111.6 74.2,113.2 74.0,114.7 73.8,116.3 73.6,117.8 73.4,119.4 73.2,120.9 73.0,122.5 72.7,124.0 72.5,125.6 72.3,127.1 72.1,128.6 70.9,128.5 69.7,128.3 68.5,128.1 67.3,128.0 66.2,127.8 65.0,127.6 63.8,127.4 62.6,127.2 61.4,127.0 60.2,126.3 58.9,125.6 57.7,124.9 56.5,124.2 55.2,123.5 54.0,122.8 52.8,122.1 51.6,121.4 50.4,120.6 49.2,119.9 48.0,119.2 46.7,118.5 45.5,117.7 44.4,117.0 43.2,116.2 43.9,115.0 44.6,114.2 45.4,113.5 45.1,112.1 44.8,110.8 46.0,109.7 46.5,108.3 47.1,106.8 48.0,106.3 48.8,105.7 48.2,104.6 47.8,103.4 47.5,102.1 47.2,100.9 47.6,99.4 48.1,97.8 48.0,96.7 48.0,95.6 47.9,94.4 49.1,94.3 50.3,94.1 51.5,94.0 51.8,92.7 52.0,91.5 52.3,90.2Z"/>
<path fill="#d1ed00" d="M77.0,93.0 78.2,93.2 79.4,93.4 80.6,93.5 81.8,93.7 83.0,93.8 84.2,94.0 85.4,94.1 86.6,94.3 87.8,94.4 89.0,94.5 90.2,94.7 91.4,94.8 92.6,94.9 93.8,95.1 95.0,95.2 96.2,95.3 97.4,95.4 98.6,95.5 99.8,95.6 101.0,95.7 102.2,95.8 103.4,95.9 104.6,96.0 105.8,96.1 107.0,96.2 106.9,97.8 106.7,99.4 106.6,101.0 106.5,102.6 106.3,104.1 106.2,105.7 106.1,107.3 105.9,108.9 105.8,110.5 105.7,112.0 105.5,113.6 105.4,115.2 105.3,116.8 105.1,118.4 105.0,119.9 104.9,121.5 104.7,123.1 104.6,124.7 104.5,126.2 104.3,127.8 103.1,127.7 101.8,127.6 100.5,127.5 99.3,127.4 98.0,127.3 96.8,127.2 95.5,127.1 94.3,127.0 93.0,126.9 91.8,126.7 90.5,126.6 89.3,126.5 88.0,126.3 86.7,126.2 85.5,126.1 85.8,127.5 84.5,127.4 83.3,127.2 82.0,127.1 80.7,126.9 79.5,126.7 78.2,126.6 76.9,126.4 76.7,127.8 76.6,129.2 75.5,129.1 74.3,129.0 73.2,128.8 72.1,128.6 72.3,127.1 72.5,125.6 72.7,124.0 73.0,122.5 73.2,120.9 73.4,119.4 73.6,117.8 73.8,116.3 74.0,114.7 74.2,113.2 74.5,111.6 74.7,110.1 74.9,108.5 75.1,107.0 75.3,105.5 75.5,103.9 75.8,102.4 76.0,100.8 76.2,99.2 76.4,97.7 76.6,96.1 76.8,94.6Z"/>
<path fill="#78cd00" d="M108.2,20.3 109.2,20.4 110.2,20.5 111.3,20.6 112.3,20.7 113.3,20.7 114.3,20.8 115.3,20.9 116.3,20.9 117.3,21.0 118.4,21.1 119.4,21.1 120.4,21.2 121.4,21.2 122.4,21.3 123.4,21.3 124.5,21.4 125.5,21.4 126.5,21.5 127.5,21.5 128.5,21.5 129.6,21.6 130.6,21.6 131.6,21.6 132.6,21.7 133.6,21.7 134.6,21.7 135.7,21.7 136.7,21.7 136.8,23.3 137.0,24.8 137.3,26.3 137.6,27.7 137.9,29.1 138.2,30.5 138.2,31.9 138.2,33.4 138.2,34.9 138.6,36.1 138.9,37.4 139.2,38.6 139.3,39.8 139.4,40.9 138.3,40.9 137.2,40.9 136.1,40.9 135.0,40.8 133.9,40.8 132.8,40.8 131.7,40.8 130.6,40.7 129.5,40.7 128.4,40.7 127.3,40.6 126.2,40.6 125.1,40.6 124.0,40.5 123.0,40.5 121.9,40.4 120.8,40.4 119.7,40.3 118.6,40.2 117.5,40.2 116.4,40.1 115.3,40.0 114.2,40.0 113.1,39.9 112.0,39.8 110.9,39.7 109.9,39.7 108.8,39.6 107.7,39.5 106.6,39.4 106.7,37.9 106.8,36.4 107.0,35.0 107.1,33.5 107.2,32.0 107.3,30.6 107.5,29.1 107.6,27.6 107.7,26.2 107.8,24.7 108.0,23.2 108.1,21.8Z"/>
<path fill="#d1ed00" d="M106.6,39.4 107.7,39.5 108.8,39.6 109.9,39.7 110.9,39.7 112.0,39.8 113.1,39.9 114.2,40.0 115.3,40.0 116.4,40.1 117.5,40.2 118.6,40.2 119.7,40.3 120.8,40.4 121.9,40.4 123.0,40.5 124.0,40.5 125.1,40.6 126.2,40.6 127.3,40.6 128.4,40.7 129.5,40.7 130.6,40.7 131.7,40.8 132.8,40.8 133.9,40.8 135.0,40.8 136.1,40.9 137.2,40.9 138.3,40.9 139.4,40.9 139.4,41.6 138.7,42.3 138.1,43.0 138.9,44.0 139.8,44.9 139.8,46.3 139.8,47.8 139.8,49.2 139.8,50.6 139.8,52.0 139.8,53.4 139.8,54.9 139.8,56.3 139.4,57.9 139.1,59.4 139.3,60.5 139.5,61.6 139.7,62.7 138.6,61.6 137.4,61.0 136.3,60.4 135.2,60.5 134.2,60.7 133.1,60.8 132.2,60.3 131.3,59.8 130.4,59.3 129.3,59.3 128.2,59.2 127.1,59.2 125.9,59.1 124.8,59.1 123.7,59.1 122.6,59.0 121.5,59.0 120.4,58.9 119.3,58.9 118.2,58.8 117.1,58.7 116.0,58.7 114.9,58.6 113.8,58.5 112.7,58.5 111.6,58.4 110.5,58.3 109.4,58.2 108.3,58.1 107.2,58.1 106.1,58.0 105.0,57.9 105.1,56.3 105.3,54.8 105.4,53.2 105.5,51.7 105.7,50.2 105.8,48.6 105.9,47.1 106.1,45.5 106.2,44.0 106.3,42.5 106.5,40.9Z"/>
<path fill="#38a800" d="M105.0,57.9 106.1,58.0 107.2,58.1 108.3,58.1 109.4,58.2 110.5,58.3 111.6,58.4 112.7,58.5 113.8,58.5 114.9,58.6 116.0,58.7 117.1,58.7 118.2,58.8 119.3,58.9 120.4,58.9 121.5,59.0 122.6,59.0 123.7,59.1 124.8,59.1 125.9,59.1 127.1,59.2 128.2,59.2 129.3,59.3 130.4,59.3 131.3,59.8 132.2,60.3 133.1,60.8 134.2,60.7 135.2,60.5 136.3,60.4 137.4,61.0 138.6,61.6 139.7,62.7 140.0,63.6 140.2,64.5 140.8,65.9 141.3,67.4 141.8,68.8 142.3,70.2 142.3,71.5 142.4,72.8 142.6,73.8 142.9,74.8 143.3,75.7 143.7,76.6 144.4,77.5 145.1,78.5 143.9,78.5 142.8,78.5 141.6,78.5 140.4,78.5 139.2,78.5 138.0,78.4 136.8,78.4 135.6,78.4 134.4,78.4 133.2,78.4 132.0,78.4 130.8,78.3 129.6,78.3 128.4,78.3 127.2,78.2 126.0,78.2 124.8,78.1 123.6,78.1 122.5,78.0 121.3,78.0 120.1,77.9 118.9,77.9 117.7,77.8 116.5,77.7 115.3,77.7 114.1,77.6 112.9,77.5 113.0,75.9 113.1,74.4 113.2,72.8 113.3,71.2 112.1,71.1 111.0,71.0 109.8,71.0 108.6,70.9 107.5,70.8 106.3,70.7 105.1,70.6 103.9,70.5 104.1,68.9 104.2,67.3 104.3,65.8 104.5,64.2 104.6,62.6 104.7,61.0 104.9,59.4Z"/>
<path fill="#d1ed00" d="M112.9,77.5 114.1,77.6 115.3,77.7 116.5,77.7 117.7,77.8 118.9,77.9 120.1,77.9 121.3,78.0 122.5,78.0 123.6,78.1 124.8,78.1 126.0,78.2 127.2,78.2 128.4,78.3 129.6,78.3 130.8,78.3 132.0,78.4 133.2,78.4 134.4,78.4 135.6,78.4 136.8,78.4 138.0,78.4 139.2,78.5 140.4,78.5 141.6,78.5 142.8,78.5 143.9,78.5 145.1,78.5 146.0,78.8 146.8,79.1 147.0,80.3 147.1,81.6 147.8,82.9 148.6,84.1 148.6,85.6 148.6,87.1 148.6,88.6 148.6,90.1 148.6,91.5 148.6,93.0 148.6,94.5 148.6,96.0 148.7,97.5 147.4,97.5 146.2,97.5 145.0,97.5 143.7,97.5 142.5,97.5 141.3,97.5 140.0,97.5 138.8,97.5 137.6,97.5 136.3,97.5 135.1,97.5 133.9,97.5 132.6,97.4 131.4,97.4 130.2,97.4 128.9,97.3 127.7,97.3 126.5,97.3 125.2,97.2 124.0,97.2 122.8,97.1 121.5,97.1 120.3,97.0 119.1,97.0 117.8,96.9 116.6,96.8 115.4,96.8 114.2,96.7 112.9,96.6 111.7,96.6 111.8,95.0 111.9,93.4 112.0,91.8 112.1,90.2 112.2,88.6 112.3,87.0 112.4,85.5 112.5,83.9 112.6,82.3 112.7,80.7 112.8,79.1Z"/>
<path fill="#ffcc00" d="M107.0,96.2 108.2,96.3 109.4,96.4 110.7,96.5 111.9,96.6 113.1,96.6 114.3,96.7 115.5,96.8 116.8,96.9 118.0,96.9 119.2,97.0 120.4,97.0 121.7,97.1 122.9,97.1 124.1,97.2 125.4,97.2 126.6,97.3 127.8,97.3 129.0,97.3 130.3,97.4 131.5,97.4 132.7,97.4 133.9,97.5 135.2,97.5 136.4,97.5 137.6,97.5 138.8,97.5 140.1,97.5 141.3,97.5 142.5,97.5 143.7,97.5 145.0,97.5 146.2,97.5 147.4,97.5 148.7,97.5 148.7,99.1 148.7,100.7 148.9,102.1 149.1,103.5 149.3,104.9 149.6,106.3 149.8,107.7 149.8,109.3 149.7,110.9 149.7,112.4 149.7,114.0 149.7,115.6 149.7,117.2 149.7,118.8 149.7,118.8 148.8,118.3 147.9,117.9 147.0,117.4 145.9,117.4 144.9,117.3 143.9,117.2 142.8,117.4 141.8,117.6 140.7,117.8 139.7,117.7 138.7,117.5 137.6,117.7 136.6,117.9 135.5,118.1 134.5,117.5 133.5,116.8 132.5,116.6 131.4,116.5 130.1,116.1 128.9,115.8 127.7,115.2 126.5,114.6 125.3,114.1 124.0,113.9 122.7,113.8 122.0,113.2 121.2,112.6 121.3,111.0 121.4,109.5 121.4,108.0 121.5,106.4 121.6,104.9 121.6,103.3 121.7,101.8 121.8,100.3 120.5,100.2 119.2,100.2 118.0,100.1 116.7,100.0 115.5,100.0 114.2,99.9 113.0,99.8 111.7,99.7 110.5,99.7 109.2,99.6 108.0,99.5 106.7,99.4 106.9,97.8Z"/>
<path fill="#ff0000" d="M106.7,99.4 108.0,99.5 109.2,99.6 110.5,99.7 111.7,99.7 113.0,99.8 114.2,99.9 115.5,100.0 116.7,100.0 118.0,100.1 119.2,100.2 120.5,100.2 121.8,100.3 121.7,101.8 121.6,103.3 121.6,104.9 121.5,106.4 121.4,108.0 121.4,109.5 121.3,111.0 121.2,112.6 122.0,113.2 122.7,113.8 124.0,113.9 125.3,114.1 126.5,114.6 127.7,115.2 128.9,115.8 130.1,116.1 131.4,116.5 132.5,116.6 133.5,116.8 134.5,117.5 135.5,118.1 136.6,117.9 137.6,117.7 138.7,117.5 139.7,117.7 140.7,117.8 141.8,117.6 142.8,117.4 143.9,117.2 144.9,117.3 145.9,117.4 147.0,117.4 147.9,117.9 148.8,118.3 149.7,118.8 150.8,119.1 152.0,119.3 152.0,120.4 152.0,121.6 152.1,122.7 152.1,124.0 152.1,125.3 152.1,126.6 152.2,127.8 152.2,129.1 152.8,130.4 153.5,131.6 154.0,132.9 154.5,134.1 154.9,135.4 154.7,136.9 154.5,138.3 154.2,139.8 154.0,141.1 153.8,142.4 153.6,143.6 152.4,144.2 151.2,144.8 150.1,145.3 148.9,145.9 147.8,146.7 146.7,147.5 145.4,148.3 144.2,149.2 142.9,150.0 141.6,150.9 140.3,151.7 139.0,152.5 137.7,153.8 136.4,155.0 135.0,156.3 134.7,157.7 134.3,159.2 133.9,160.6 133.9,162.1 134.0,163.5 134.1,165.0 134.6,166.1 135.2,167.2 134.1,167.1 133.1,167.0 132.1,166.8 130.6,166.7 129.2,166.5 127.9,165.7 126.7,165.0 125.4,164.3 124.2,163.5 123.7,161.9 123.1,160.4 122.6,158.8 122.1,157.2 121.1,155.9 120.0,154.6 118.9,153.3 117.9,152.0 117.4,150.7 116.9,149.4 116.4,148.2 115.9,146.9 114.7,145.4 113.5,143.9 112.3,142.5 110.9,142.3 109.6,142.2 108.2,142.1 106.9,141.9 106.0,142.5 105.1,143.1 104.3,144.3 103.5,145.5 102.7,146.7 101.6,146.6 100.4,145.7 99.2,144.7 98.0,143.8 96.7,142.7 95.4,141.7 94.8,140.1 94.2,138.6 93.6,137.1 92.6,135.7 91.5,134.3 90.5,132.9 89.4,131.6 88.4,130.2 87.5,129.3 86.7,128.4 85.8,127.5 85.5,126.1 86.7,126.2 88.0,126.3 89.3,126.5 90.5,126.6 91.8,126.7 93.0,126.9 94.3,127.0 95.5,127.1 96.8,127.2 98.0,127.3 99.3,127.4 100.5,127.5 101.8,127.6 103.1,127.7 104.3,127.8 104.5,126.2 104.6,124.7 104.7,123.1 104.9,121.5 105.0,119.9 105.1,118.4 105.3,116.8 105.4,115.2 105.5,113.6 105.7,112.0 105.8,110.5 105.9,108.9 106.1,107.3 106.2,105.7 106.3,104.1 106.5,102.6 106.6,101.0Z"/>
<path fill="#ffcc00" d="M136.7,21.7 137.6,21.7 138.6,21.8 139.6,21.8 140.5,21.8 141.5,21.8 142.5,21.8 143.4,21.8 144.4,21.8 145.4,21.8 145.4,20.6 145.4,19.4 146.1,19.6 146.8,19.9 147.1,21.1 147.4,22.4 147.7,23.6 148.7,23.7 149.7,23.8 150.7,23.9 151.7,24.0 152.8,24.1 153.7,24.4 154.6,24.7 155.6,25.0 156.5,25.2 157.4,25.5 158.3,25.9 159.2,26.4 160.0,26.8 160.9,27.2 162.0,27.1 163.0,27.0 164.1,26.8 165.1,26.7 166.1,26.8 167.0,26.9 168.0,27.0 169.0,27.1 168.2,27.8 167.4,28.4 166.3,29.3 165.3,30.1 164.3,31.0 163.3,31.8 162.4,32.5 161.4,33.3 160.5,34.0 159.6,34.7 158.7,35.5 157.8,36.1 157.9,37.3 157.9,38.4 158.0,39.6 157.2,40.9 156.3,42.2 155.5,43.4 155.9,44.7 156.2,45.9 156.2,47.0 156.1,48.2 157.2,48.9 158.4,49.7 159.3,50.4 160.2,51.2 161.2,52.0 162.1,52.8 163.0,53.6 163.3,54.6 163.5,55.7 162.4,55.8 161.3,55.9 160.1,55.9 159.0,55.9 157.9,56.0 156.7,56.0 155.6,56.1 154.5,56.1 153.3,56.1 152.2,56.2 151.1,56.2 149.9,56.2 148.8,56.2 147.7,56.2 146.5,56.3 145.4,56.3 144.3,56.3 143.2,56.3 142.0,56.3 140.9,56.3 139.8,56.3 139.8,54.9 139.8,53.4 139.8,52.0 139.8,50.6 139.8,49.2 139.8,47.8 139.8,46.3 139.8,44.9 138.9,44.0 138.1,43.0 138.7,42.3 139.4,41.6 139.4,40.9 139.3,39.8 139.2,38.6 138.9,37.4 138.6,36.1 138.2,34.9 138.2,33.4 138.2,31.9 138.2,30.5 137.9,29.1 137.6,27.7 137.3,26.3 137.0,24.8 136.8,23.3Z"/>
<path fill="#78cd00" d="M139.8,56.3 140.9,56.3 142.0,56.3 143.2,56.3 144.3,56.3 145.4,56.3 146.5,56.3 147.7,56.2 148.8,56.2 149.9,56.2 151.1,56.2 152.2,56.2 153.3,56.1 154.5,56.1 155.6,56.1 156.7,56.0 157.9,56.0 159.0,55.9 160.1,55.9 161.3,55.9 162.4,55.8 163.5,55.7 163.6,57.0 163.7,58.3 164.1,59.4 164.5,60.4 165.5,61.2 166.5,61.9 167.3,62.8 168.2,63.7 168.5,65.0 168.8,66.2 167.9,67.2 167.0,68.2 166.2,69.2 165.3,70.2 165.1,71.8 165.0,73.4 164.3,74.5 163.5,75.5 162.8,74.8 162.0,74.1 160.9,74.2 159.8,74.3 158.6,74.3 157.5,74.4 156.4,74.4 155.3,74.5 154.1,74.5 153.0,74.5 151.9,74.6 150.8,74.6 149.6,74.7 148.5,74.7 147.4,74.7 146.3,74.7 145.1,74.7 144.0,74.8 142.9,74.8 142.6,73.8 142.4,72.8 142.3,71.5 142.3,70.2 141.8,68.8 141.3,67.4 140.8,65.9 140.2,64.5 140.0,63.6 139.7,62.7 139.5,61.6 139.3,60.5 139.1,59.4 139.4,57.9Z"/>
<path fill="#ff6600" d="M142.9,74.8 144.0,74.8 145.1,74.7 146.3,74.7 147.4,74.7 148.5,74.7 149.6,74.7 150.8,74.6 151.9,74.6 153.0,74.5 154.1,74.5 155.3,74.5 156.4,74.4 157.5,74.4 158.6,74.3 159.8,74.3 160.9,74.2 162.0,74.1 162.8,74.8 163.5,75.5 163.4,76.8 163.3,78.0 164.1,79.2 164.8,80.4 166.1,82.0 167.4,83.5 168.7,84.0 169.9,84.6 170.0,85.6 170.0,86.5 169.9,87.8 169.7,89.1 170.7,90.0 171.8,90.9 172.8,91.7 173.4,93.1 174.0,94.5 174.9,95.4 175.9,96.3 176.1,96.6 176.0,97.7 175.8,98.9 174.8,99.6 174.2,100.9 173.9,101.9 173.5,102.8 172.4,102.9 171.3,103.0 170.2,103.0 170.6,101.4 171.1,99.8 169.8,99.9 168.6,100.0 167.4,100.0 166.1,100.1 164.9,100.2 163.6,100.2 162.4,100.3 161.1,100.3 159.9,100.4 158.7,100.4 157.4,100.5 156.2,100.5 154.9,100.5 153.7,100.6 152.4,100.6 151.2,100.6 149.9,100.6 148.7,100.7 148.7,99.1 148.7,97.5 148.6,96.0 148.6,94.5 148.6,93.0 148.6,91.5 148.6,90.1 148.6,88.6 148.6,87.1 148.6,85.6 148.6,84.1 147.8,82.9 147.1,81.6 147.0,80.3 146.8,79.1 146.0,78.8 145.1,78.5 144.4,77.5 143.7,76.6 143.3,75.7Z"/>
<path fill="#ff6600" d="M148.7,100.7 149.9,100.6 151.2,100.6 152.4,100.6 153.7,100.6 154.9,100.5 156.2,100.5 157.4,100.5 158.7,100.4 159.9,100.4 161.1,100.3 162.4,100.3 163.6,100.2 164.9,100.2 166.1,100.1 167.4,100.0 168.6,100.0 169.8,99.9 171.1,99.8 170.6,101.4 170.2,103.0 171.3,103.0 172.4,102.9 173.5,102.8 173.1,104.1 172.7,105.4 172.2,106.4 171.8,107.4 171.3,108.4 170.9,109.4 170.5,110.7 170.0,112.0 169.6,113.3 168.6,114.4 167.6,115.5 166.7,116.6 167.0,117.8 167.3,119.1 167.2,120.6 167.1,122.1 165.9,122.2 164.6,122.3 163.4,122.3 162.1,122.4 160.9,122.4 159.6,122.5 158.3,122.5 157.1,122.6 155.8,122.6 154.6,122.6 153.3,122.7 152.1,122.7 152.0,121.6 152.0,120.4 152.0,119.3 150.8,119.1 149.7,118.8 149.7,117.2 149.7,115.6 149.7,114.0 149.7,112.4 149.7,110.9 149.8,109.3 149.8,107.7 149.6,106.3 149.3,104.9 149.1,103.5 148.9,102.1Z"/>
<path fill="#ffcc00" d="M152.1,122.7 153.3,122.7 154.6,122.6 155.8,122.6 157.1,122.6 158.3,122.5 159.6,122.5 160.9,122.4 162.1,122.4 163.4,122.3 164.6,122.3 165.9,122.2 167.1,122.1 167.6,123.5 168.1,124.8 167.9,125.7 167.7,126.7 167.2,128.0 166.8,129.3 166.3,130.9 165.8,132.5 165.5,133.7 165.2,135.0 166.5,135.0 167.8,134.9 169.1,134.8 170.3,134.8 171.6,134.7 172.9,134.6 174.2,134.5 175.5,134.5 175.9,135.7 176.3,136.9 176.6,138.2 176.9,139.4 176.0,140.1 176.8,140.4 177.7,140.6 178.2,141.9 178.7,143.1 179.4,144.3 180.2,145.5 179.2,146.2 178.1,146.9 176.9,146.0 175.8,145.2 174.7,145.9 173.7,146.6 172.6,146.6 171.5,146.7 170.4,146.7 169.0,146.2 167.6,145.6 166.2,145.1 164.8,144.5 163.4,144.4 162.0,144.3 160.8,144.0 159.5,143.7 158.3,143.3 157.0,143.0 155.9,143.2 154.7,143.4 153.6,143.6 153.8,142.4 154.0,141.1 154.2,139.8 154.5,138.3 154.7,136.9 154.9,135.4 154.5,134.1 154.0,132.9 153.5,131.6 152.8,130.4 152.2,129.1 152.2,127.8 152.1,126.6 152.1,125.3 152.1,124.0Z"/>
<path fill="#ffcc00" d="M166.5,61.9 165.5,61.2 164.5,60.4 164.1,59.4 163.7,58.3 163.6,57.0 163.5,55.7 163.3,54.6 163.0,53.6 162.1,52.8 161.2,52.0 160.2,51.2 159.3,50.4 158.4,49.7 157.2,48.9 156.1,48.2 156.2,47.0 156.2,45.9 155.9,44.7 155.5,43.4 156.3,42.2 157.2,40.9 158.0,39.6 157.9,38.4 157.9,37.3 157.8,36.1 158.7,35.5 159.7,35.2 160.6,34.9 161.6,34.6 162.5,34.4 163.4,34.5 164.3,34.6 165.2,35.4 166.1,36.2 166.8,37.0 167.5,37.8 168.5,38.0 169.4,38.1 170.4,38.2 171.4,38.3 172.4,38.5 173.4,38.7 174.4,38.9 175.4,39.2 176.4,39.4 176.9,40.5 177.4,41.6 178.0,42.7 178.5,43.7 179.0,44.6 178.7,45.5 178.3,46.5 177.8,47.5 177.4,48.5 178.0,47.8 178.6,47.1 179.3,46.4 180.0,45.6 181.0,44.2 182.0,42.7 181.5,43.9 181.1,45.0 180.3,46.7 180.1,47.6 179.8,48.6 179.6,49.7 179.4,50.9 179.3,52.0 179.3,53.1 179.2,54.6 179.0,56.1 178.8,57.6 179.1,58.7 179.3,59.9 179.6,61.0 178.5,61.1 177.4,61.2 176.3,61.3 175.2,61.3 174.1,61.4 173.0,61.5 171.9,61.6 170.9,61.7 169.8,61.7 168.7,61.8 167.6,61.9Z"/>
<path fill="#d1ed00" d="M166.5,61.9 167.6,61.9 168.7,61.8 169.8,61.7 170.9,61.7 171.9,61.6 173.0,61.5 174.1,61.4 175.2,61.3 176.3,61.3 177.4,61.2 178.5,61.1 179.6,61.0 180.0,62.5 180.5,64.1 180.9,65.0 181.2,65.9 181.4,67.4 181.5,68.9 181.6,70.4 181.8,71.9 181.9,73.4 182.0,74.8 182.2,76.3 182.3,77.8 182.4,79.3 182.6,80.8 182.4,82.4 182.7,83.6 183.1,84.9 182.2,86.2 181.4,87.6 181.2,89.2 181.0,90.8 180.5,91.5 179.8,92.6 179.0,93.7 178.8,94.7 178.5,95.6 177.3,96.1 176.1,96.6 175.9,96.3 174.9,95.4 174.0,94.5 173.4,93.1 172.8,91.7 171.8,90.9 170.7,90.0 169.7,89.1 169.9,87.8 170.0,86.5 170.0,85.6 169.9,84.6 168.7,84.0 167.4,83.5 166.1,82.0 164.8,80.4 164.1,79.2 163.3,78.0 163.4,76.8 163.5,75.5 164.3,74.5 165.0,73.4 165.1,71.8 165.3,70.2 166.2,69.2 167.0,68.2 167.9,67.2 168.8,66.2 168.5,65.0 168.2,63.7 167.3,62.8Z"/>
<path fill="#ffcc00" d="M184.5,65.3 185.6,65.2 186.6,65.1 187.6,65.1 188.7,65.0 189.7,64.9 190.8,64.9 191.8,64.8 192.9,64.7 193.9,64.6 194.9,64.5 196.0,64.3 197.0,64.2 198.1,64.0 199.1,63.8 200.1,63.7 200.6,62.6 201.0,61.5 201.2,60.6 201.5,59.6 202.2,59.0 203.0,58.3 203.7,57.6 203.7,56.3 203.7,55.0 203.4,53.8 203.0,52.6 202.6,51.4 202.0,49.9 201.1,49.3 200.2,48.8 199.4,49.6 198.6,50.3 197.6,51.3 196.6,52.2 197.0,50.7 197.4,49.3 197.8,47.9 198.1,46.4 198.3,44.9 197.9,43.9 197.5,42.8 196.5,41.8 195.5,40.7 194.5,40.4 193.5,40.0 192.4,39.7 191.8,39.3 191.2,39.0 190.4,39.2 189.6,39.4 189.9,40.4 190.3,41.5 189.7,41.9 189.0,42.3 188.4,42.7 187.7,43.1 187.8,44.2 188.0,45.2 187.0,45.2 186.0,45.1 185.7,46.1 185.3,47.1 185.2,48.5 185.0,49.9 184.8,51.3 185.2,52.8 185.6,54.3 186.0,55.8 186.3,57.1 186.7,58.5 186.7,59.7 186.6,61.0 186.3,62.0 185.9,63.0 185.2,64.1ZM166.1,36.2 166.8,37.0 167.5,37.8 168.5,38.0 169.4,38.1 170.4,38.2 171.4,38.3 172.4,38.5 173.4,38.7 174.4,38.9 175.4,39.2 176.4,39.4 176.9,40.5 177.4,41.6 178.0,42.7 178.5,43.7 179.0,44.6 179.7,43.1 180.4,41.7 181.1,40.3 182.1,40.6 183.1,41.0 183.8,39.8 184.4,38.7 185.5,38.4 186.6,38.2 187.7,38.0 188.8,38.2 189.9,38.3 191.0,38.4 192.1,38.0 193.2,37.6 194.2,37.2 195.0,36.8 195.9,36.4 194.7,35.7 193.5,35.0 192.3,34.3 191.3,34.7 190.4,33.8 189.5,32.9 188.6,33.2 187.8,33.4 186.9,33.6 186.0,33.8 185.2,34.0 184.2,34.7 183.3,35.3 182.4,35.9 181.3,35.7 180.3,35.6 179.2,35.4 178.4,34.6 177.6,33.8 176.5,33.5 175.4,33.2 176.2,31.6 176.7,30.0 175.9,30.6 175.1,31.3 174.4,31.9 173.6,32.4 172.7,32.9 171.7,33.5 170.7,34.1 169.8,34.5 168.9,34.9 168.0,35.4 167.0,35.8Z"/>
<path fill="#ffcc00" d="M181.2,65.9 182.3,65.7 183.4,65.5 184.5,65.3 185.6,65.2 186.6,65.1 187.6,65.1 188.7,65.0 189.7,64.9 190.8,64.9 191.8,64.8 192.9,64.7 193.9,64.6 194.1,66.1 194.2,67.6 194.4,69.1 194.6,70.6 194.7,72.1 194.9,73.6 195.1,75.1 195.2,76.6 195.4,78.0 195.6,79.5 195.7,81.0 195.4,82.2 195.1,83.3 194.2,83.5 193.2,83.7 192.5,85.2 191.8,86.8 191.3,87.7 190.8,88.6 189.6,88.9 188.4,89.2 187.5,89.7 186.5,90.1 185.6,90.6 184.4,90.1 183.3,89.7 182.1,90.2 181.0,90.8 181.2,89.2 181.4,87.6 182.2,86.2 183.1,84.9 182.7,83.6 182.4,82.4 182.6,80.8 182.4,79.3 182.3,77.8 182.2,76.3 182.0,74.8 181.9,73.4 181.8,71.9 181.6,70.4 181.5,68.9 181.4,67.4Z"/>
<path fill="#ffcc00" d="M193.9,64.6 194.9,64.5 196.0,64.3 197.0,64.2 198.1,64.0 199.1,63.8 200.1,63.7 201.2,63.9 202.3,64.2 203.1,64.6 203.8,64.9 204.9,64.7 206.0,64.4 207.0,64.2 207.7,64.1 208.4,64.0 209.4,63.1 210.4,62.2 211.3,61.3 212.3,60.7 213.4,60.1 213.6,61.5 213.8,62.9 214.1,64.3 214.3,65.7 214.5,67.1 214.8,68.5 214.6,70.0 214.6,71.3 214.6,72.6 214.4,73.6 214.2,74.6 213.5,75.7 212.8,76.8 211.7,77.6 210.6,78.4 210.3,79.7 209.7,80.5 209.1,81.2 208.8,82.5 207.9,83.2 207.0,83.9 205.9,83.1 204.8,82.2 203.7,82.6 202.6,83.0 201.5,83.3 200.7,82.9 199.9,82.4 198.6,81.6 197.3,80.8 196.5,80.9 195.7,81.0 195.6,79.5 195.4,78.0 195.2,76.6 195.1,75.1 194.9,73.6 194.7,72.1 194.6,70.6 194.4,69.1 194.2,67.6 194.1,66.1Z"/>
<path fill="#ffcc00" d="M174.8,99.6 175.8,98.9 176.0,97.7 176.1,96.6 177.3,96.1 178.5,95.6 178.8,94.7 179.0,93.7 179.8,92.6 180.5,91.5 181.0,90.8 182.1,90.2 183.3,89.7 184.4,90.1 185.6,90.6 186.5,90.1 187.5,89.7 188.4,89.2 189.6,88.9 190.8,88.6 191.3,87.7 191.8,86.8 192.5,85.2 193.2,83.7 194.2,83.5 195.1,83.3 195.4,82.2 195.7,81.0 196.5,80.9 197.3,80.8 198.6,81.6 199.9,82.4 200.7,82.9 201.5,83.3 202.6,83.0 203.7,82.6 204.8,82.2 205.9,83.1 207.0,83.9 207.2,85.5 208.4,86.7 209.6,87.9 210.9,89.0 209.9,90.1 209.0,91.1 207.9,92.2 206.8,93.2 205.9,93.9 205.0,94.7 204.2,95.4 203.3,96.1 202.1,96.2 201.0,96.4 199.8,96.5 198.6,96.6 197.5,96.7 196.3,96.8 195.2,96.9 194.0,97.1 192.9,97.2 191.7,97.3 190.6,97.4 189.4,97.4 188.3,97.5 187.2,97.6 186.0,97.7 184.9,97.7 183.8,97.8 182.6,97.9 181.5,97.9 181.6,99.1 180.5,99.1 179.3,99.2 178.2,99.3 177.1,99.4 176.0,99.5Z"/>
<path fill="#ff0000" d="M170.9,109.4 171.3,108.4 171.8,107.4 172.2,106.4 172.7,105.4 173.1,104.1 173.5,102.8 173.9,101.9 174.2,100.9 174.8,99.6 176.0,99.5 177.1,99.4 178.2,99.3 179.3,99.2 180.5,99.1 181.6,99.1 181.5,97.9 182.6,97.9 183.8,97.8 184.9,97.7 186.0,97.7 187.2,97.6 188.3,97.5 189.4,97.4 190.6,97.4 191.7,97.3 192.9,97.2 194.0,97.1 195.2,96.9 196.3,96.8 197.5,96.7 198.6,96.6 199.8,96.5 201.0,96.4 202.1,96.2 203.3,96.1 204.5,95.9 205.7,95.8 207.0,95.6 208.2,95.5 209.5,95.3 210.7,95.1 211.9,94.9 213.2,94.8 212.6,96.3 212.0,97.8 211.1,98.3 210.1,98.9 209.2,99.5 208.0,100.3 206.9,101.1 205.9,101.8 205.0,102.5 203.8,102.9 202.6,103.2 201.9,104.1 201.2,105.0 201.3,105.8 201.3,106.7 200.3,106.8 199.2,106.9 198.1,107.0 197.0,107.1 195.9,107.2 194.8,107.3 193.6,107.5 192.4,107.6 191.2,107.7 190.0,107.8 188.8,108.0 187.6,108.1 186.4,108.2 185.2,108.3 184.0,108.4 182.8,108.5 181.6,108.6 180.4,108.7 179.2,108.8 178.0,108.9 176.8,109.0 175.7,109.1 174.5,109.1 173.3,109.2 172.1,109.3Z"/>
<path fill="#ff6600" d="M170.9,109.4 172.1,109.3 173.3,109.2 174.5,109.1 175.7,109.1 176.8,109.0 178.0,108.9 179.2,108.8 180.4,108.7 181.6,108.6 181.6,110.1 181.6,111.7 181.7,113.2 181.7,114.7 181.7,116.2 181.7,117.7 181.7,119.3 181.7,120.8 181.7,122.3 181.7,123.8 181.8,125.3 181.8,126.8 181.8,128.4 182.0,129.9 182.1,131.5 182.3,133.0 182.5,134.6 182.7,136.2 182.9,137.7 181.8,137.8 180.7,137.9 179.7,138.0 178.7,138.4 177.8,138.9 176.9,139.4 176.6,138.2 176.3,136.9 175.9,135.7 175.5,134.5 174.2,134.5 172.9,134.6 171.6,134.7 170.3,134.8 169.1,134.8 167.8,134.9 166.5,135.0 165.2,135.0 165.5,133.7 165.8,132.5 166.3,130.9 166.8,129.3 167.2,128.0 167.7,126.7 167.9,125.7 168.1,124.8 167.6,123.5 167.1,122.1 167.2,120.6 167.3,119.1 167.0,117.8 166.7,116.6 167.6,115.5 168.6,114.4 169.6,113.3 170.0,112.0 170.5,110.7Z"/>
<path fill="#ff6600" d="M181.6,108.6 182.8,108.5 184.0,108.4 185.2,108.3 186.4,108.2 187.6,108.1 188.8,108.0 190.0,107.8 191.2,107.7 192.4,107.6 193.6,107.5 194.8,107.3 195.2,108.8 195.6,110.3 196.0,111.7 196.4,113.2 196.8,114.7 197.3,116.1 197.7,117.6 198.1,119.1 198.5,120.5 199.1,121.6 199.7,122.7 199.9,124.3 200.1,125.9 200.0,127.5 199.9,129.1 200.3,130.6 200.8,132.2 199.5,132.3 198.3,132.4 197.0,132.6 195.7,132.7 194.5,132.8 193.2,133.0 191.9,133.1 190.7,133.2 189.4,133.3 188.1,133.5 186.9,133.6 187.2,135.0 187.5,136.5 187.8,137.9 186.7,138.2 185.7,138.4 185.3,137.0 184.9,135.6 184.7,136.8 184.5,137.9 183.7,137.8 182.9,137.7 182.7,136.2 182.5,134.6 182.3,133.0 182.1,131.5 182.0,129.9 181.8,128.4 181.8,126.8 181.8,125.3 181.7,123.8 181.7,122.3 181.7,120.8 181.7,119.3 181.7,117.7 181.7,116.2 181.7,114.7 181.7,113.2 181.6,111.7 181.6,110.1Z"/>
<path fill="#ff6600" d="M194.8,107.3 195.9,107.2 197.0,107.1 198.1,107.0 199.2,106.9 200.3,106.8 201.3,106.7 202.6,106.5 203.8,106.3 205.0,106.1 206.3,106.0 207.5,105.8 207.0,106.8 206.5,107.8 207.5,108.3 208.5,108.8 209.6,109.3 210.5,110.5 211.4,111.6 212.6,112.6 213.8,113.5 214.9,114.8 216.0,116.1 216.8,117.3 217.6,118.4 218.4,119.6 219.5,120.6 220.5,121.6 221.6,122.6 221.2,124.1 220.7,125.6 220.3,127.3 219.9,128.9 219.9,130.2 220.0,131.5 219.0,132.1 218.0,132.6 217.0,133.2 216.1,132.9 214.8,133.0 213.5,133.1 212.2,133.2 210.9,133.3 209.6,133.4 208.3,133.5 207.0,133.6 205.7,133.7 204.4,133.8 203.1,133.9 201.8,133.9 201.3,133.1 200.8,132.2 200.3,130.6 199.9,129.1 200.0,127.5 200.1,125.9 199.9,124.3 199.7,122.7 199.1,121.6 198.5,120.5 198.1,119.1 197.7,117.6 197.3,116.1 196.8,114.7 196.4,113.2 196.0,111.7 195.6,110.3 195.2,108.8Z"/>
<path fill="#ffcc00" d="M186.9,133.6 188.1,133.5 189.4,133.3 190.7,133.2 191.9,133.1 193.2,133.0 194.5,132.8 195.7,132.7 197.0,132.6 198.3,132.4 199.5,132.3 200.8,132.2 201.3,133.1 201.8,133.9 203.1,133.9 204.4,133.8 205.7,133.7 207.0,133.6 208.3,133.5 209.6,133.4 210.9,133.3 212.2,133.2 213.5,133.1 214.8,133.0 216.1,132.9 217.0,133.2 218.0,132.6 219.0,132.1 220.0,131.5 220.5,132.9 221.0,134.3 221.5,135.7 222.1,136.9 222.7,138.1 223.3,139.3 223.9,140.4 224.8,141.8 225.8,143.1 226.8,144.4 227.1,146.0 227.5,147.5 228.4,148.9 229.3,150.4 230.2,151.8 231.0,153.2 231.4,154.8 231.8,156.3 232.0,157.7 232.1,159.2 232.3,160.6 231.8,162.3 231.4,163.9 230.5,164.6 229.6,165.2 228.4,165.5 227.3,165.7 226.6,164.3 226.0,162.9 224.6,162.2 223.2,161.5 222.4,160.0 221.6,158.5 220.5,157.4 219.5,156.3 218.6,155.2 217.7,154.1 216.8,152.9 216.0,151.5 215.2,150.0 215.3,148.7 215.4,147.4 215.5,146.1 215.2,144.9 214.9,143.7 213.7,142.9 212.5,142.1 211.4,141.0 210.3,139.9 209.2,138.7 207.8,138.0 206.3,137.2 205.5,137.6 204.8,138.0 203.8,138.9 202.8,139.8 201.8,140.6 200.8,140.6 199.8,140.5 199.6,139.6 199.4,138.7 198.2,138.1 197.0,137.4 195.9,136.8 194.5,136.8 193.1,136.8 191.8,137.1 190.5,137.4 189.1,137.6 187.8,137.9 187.5,136.5 187.2,135.0Z"/>
<path fill="#ffcc00" d="M231.8,109.3 230.3,108.1 228.7,106.9 227.5,106.1 226.2,105.2 224.9,104.4 223.8,104.6 222.7,104.7 221.6,104.9 220.4,105.0 219.3,105.2 219.1,104.3 218.8,103.5 217.7,103.3 216.5,103.5 215.2,103.6 213.9,103.7 212.6,103.8 211.4,104.0 210.4,104.4 209.4,104.9 208.5,105.3 207.5,105.8 207.0,106.8 206.5,107.8 207.5,108.3 208.5,108.8 209.6,109.3 210.5,110.5 211.4,111.6 212.6,112.6 213.8,113.5 214.9,114.8 216.0,116.1 216.8,117.3 217.6,118.4 218.4,119.6 219.5,120.6 220.5,121.6 221.6,122.6 222.2,121.7 222.9,120.8 224.0,119.8 225.1,118.7 226.1,117.7 227.3,116.5 228.4,115.4 228.7,114.3 229.1,113.3 230.0,112.0 230.9,110.6Z"/>
<path fill="#ff0000" d="M201.3,106.7 201.3,105.8 201.2,105.0 201.9,104.1 202.6,103.2 203.8,102.9 205.0,102.5 205.9,101.8 206.9,101.1 208.0,100.3 209.2,99.5 210.1,98.9 211.1,98.3 212.0,97.8 212.6,96.3 213.2,94.8 214.4,94.6 215.6,94.4 216.8,94.2 218.0,94.1 219.2,93.9 220.4,93.7 221.6,93.5 222.8,93.3 224.0,93.1 225.2,92.9 226.4,92.7 227.5,92.5 228.7,92.3 229.9,92.1 231.1,91.9 232.3,91.6 233.5,91.4 234.7,91.2 235.9,91.0 237.1,90.7 238.3,90.5 239.5,90.3 240.6,90.0 241.8,89.8 241.9,90.9 241.9,92.1 242.6,93.0 243.4,94.0 242.4,95.5 241.7,96.5 241.0,97.4 242.1,98.8 241.2,99.7 240.3,100.5 240.1,101.8 239.1,102.4 238.2,102.9 237.3,103.8 236.5,104.7 235.6,105.6 235.2,107.2 234.9,108.7 233.8,108.9 232.8,109.1 231.8,109.3 230.3,108.1 228.7,106.9 227.5,106.1 226.2,105.2 224.9,104.4 223.8,104.6 222.7,104.7 221.6,104.9 220.4,105.0 219.3,105.2 219.1,104.3 218.8,103.5 217.7,103.3 216.5,103.5 215.2,103.6 213.9,103.7 212.6,103.8 211.4,104.0 210.4,104.4 209.4,104.9 208.5,105.3 207.5,105.8 206.3,106.0 205.0,106.1 203.8,106.3 202.6,106.5Z"/>
<path fill="#ff6600" d="M203.3,96.1 204.5,95.9 205.7,95.8 207.0,95.6 208.2,95.5 209.5,95.3 210.7,95.1 211.9,94.9 213.2,94.8 214.4,94.6 215.6,94.4 216.8,94.2 218.0,94.1 219.2,93.9 220.4,93.7 221.6,93.5 222.8,93.3 224.0,93.1 225.2,92.9 226.4,92.7 227.5,92.5 228.7,92.3 229.9,92.1 231.1,91.9 232.3,91.6 233.5,91.4 234.7,91.2 235.9,91.0 237.1,90.7 238.3,90.5 239.5,90.3 240.6,90.0 241.8,89.8 241.4,88.7 241.0,87.7 240.1,87.7 239.2,87.8 238.4,86.3 238.4,85.2 238.4,84.0 238.2,82.9 238.0,81.8 237.8,80.9 237.0,80.8 236.2,80.6 235.1,80.3 234.1,80.0 232.6,78.7 232.9,77.7 233.2,76.7 232.3,76.2 231.5,75.7 230.7,75.2 229.4,74.4 229.2,75.5 228.4,76.0 227.6,76.5 226.8,76.9 225.8,78.1 225.2,79.2 224.7,80.2 223.8,80.9 222.9,81.5 222.1,81.8 221.3,82.1 221.1,83.3 221.0,84.4 220.1,85.9 219.2,87.3 219.1,88.3 218.2,88.7 217.4,89.0 216.5,89.4 215.7,89.8 214.9,90.3 214.0,90.6 213.0,90.9 211.9,89.9 210.9,89.0 209.9,90.1 209.0,91.1 207.9,92.2 206.8,93.2 205.9,93.9 205.0,94.7 204.2,95.4ZM241.0,80.9 241.9,80.4 242.8,79.9 242.4,81.2 242.0,82.4 241.6,83.7 241.1,84.9 240.5,86.2 240.5,84.7 240.5,83.2 240.8,82.1Z"/>
<path fill="#d1ed00" d="M214.8,68.5 215.0,69.9 215.2,71.4 215.5,72.8 215.7,74.2 216.7,74.1 217.7,73.9 218.7,73.7 219.6,73.6 220.6,73.4 220.8,74.5 221.0,75.6 221.2,76.7 222.2,75.7 223.2,74.7 224.0,73.6 225.0,73.3 226.1,73.0 227.0,73.3 227.9,73.5 228.6,73.9 229.4,74.4 229.2,75.5 228.4,76.0 227.6,76.5 226.8,76.9 225.8,78.1 225.2,79.2 224.7,80.2 223.8,80.9 222.9,81.5 222.1,81.8 221.3,82.1 221.1,83.3 221.0,84.4 220.1,85.9 219.2,87.3 219.1,88.3 218.2,88.7 217.4,89.0 216.5,89.4 215.7,89.8 214.9,90.3 214.0,90.6 213.0,90.9 211.9,89.9 210.9,89.0 209.6,87.9 208.4,86.7 207.2,85.5 207.0,83.9 207.9,83.2 208.8,82.5 209.1,81.2 209.7,80.5 210.3,79.7 210.6,78.4 211.7,77.6 212.8,76.8 213.5,75.7 214.2,74.6 214.4,73.6 214.6,72.6 214.6,71.3 214.6,70.0Z"/>
<path fill="#ff6600" d="M213.4,60.1 214.3,59.4 215.1,58.7 215.8,58.2 216.6,57.7 216.7,58.5 216.8,59.4 218.0,59.2 219.1,59.0 220.2,58.8 221.3,58.6 222.4,58.4 223.5,58.2 224.7,58.0 225.8,57.7 226.9,57.5 228.0,57.3 229.1,57.1 230.2,56.9 231.3,56.6 232.4,56.4 233.6,56.2 234.7,55.9 235.8,55.7 236.9,55.5 237.6,55.9 238.3,56.4 238.8,57.3 239.2,58.2 240.0,58.5 240.8,58.8 240.2,60.4 239.6,62.0 239.6,63.0 239.5,64.0 240.5,65.0 241.4,65.7 242.2,66.3 241.6,67.1 240.9,67.9 240.3,68.5 239.7,69.1 238.8,69.6 238.0,70.0 236.8,70.3 235.7,70.5 234.5,70.8 233.4,71.0 232.2,71.2 231.1,71.5 229.9,71.7 228.7,71.9 227.6,72.1 226.4,72.4 225.3,72.6 224.1,72.8 222.9,73.0 221.8,73.2 220.6,73.4 219.6,73.6 218.7,73.7 217.7,73.9 216.7,74.1 215.7,74.2 215.5,72.8 215.2,71.4 215.0,69.9 214.8,68.5 214.5,67.1 214.3,65.7 214.1,64.3 213.8,62.9 213.6,61.5Z"/>
<path fill="#ffcc00" d="M216.6,57.7 217.3,56.8 218.0,55.9 218.7,55.0 219.5,54.1 219.8,53.1 219.2,52.0 218.7,51.0 219.5,50.6 220.2,50.2 221.0,49.8 222.1,49.8 223.1,49.8 224.1,49.8 225.2,49.8 226.1,49.5 226.9,49.3 227.8,49.0 228.7,48.8 229.7,47.9 230.7,47.1 230.6,45.6 230.5,44.2 229.8,42.7 230.7,41.7 231.6,40.7 232.5,39.3 233.3,37.8 234.1,37.3 234.9,36.8 235.7,36.3 236.7,36.1 237.6,35.8 238.6,35.6 239.6,35.3 240.6,35.1 241.5,34.8 241.8,36.1 242.1,37.4 242.3,38.6 242.6,39.9 242.8,41.1 243.3,42.3 243.8,43.5 244.1,43.7 244.4,44.9 244.7,46.2 244.9,47.4 245.2,48.6 245.2,50.2 245.2,51.7 245.2,53.2 245.6,54.7 245.9,56.1 246.3,57.6 246.6,59.1 246.1,59.9 245.4,61.0 244.9,60.1 243.8,59.8 242.8,59.5 241.8,59.1 240.8,58.8 240.0,58.5 239.2,58.2 238.8,57.3 238.3,56.4 237.6,55.9 236.9,55.5 235.8,55.7 234.7,55.9 233.6,56.2 232.4,56.4 231.3,56.6 230.2,56.9 229.1,57.1 228.0,57.3 226.9,57.5 225.8,57.7 224.7,58.0 223.5,58.2 222.4,58.4 221.3,58.6 220.2,58.8 219.1,59.0 218.0,59.2 216.8,59.4 216.7,58.5ZM245.1,62.8 245.6,62.8 246.6,62.3 247.6,61.9 248.5,61.4 249.5,61.0 250.5,60.1 251.5,59.3 252.5,58.4 253.5,57.5 252.6,57.8 251.7,58.1 250.9,58.6 250.0,59.0 249.2,59.4 248.1,59.9 247.1,60.4 246.1,60.8 245.2,62.0Z"/>
<path fill="#78cd00" d="M250.8,30.6 251.9,30.8 252.3,29.2 252.7,27.6 253.1,26.1 253.1,24.8 253.1,23.5 253.1,22.2 253.0,20.9 253.5,19.5 254.0,18.1 254.5,16.8 254.9,15.4 255.9,15.3 256.9,15.2 257.9,15.0 258.9,14.9 260.2,15.4 261.5,16.0 261.9,17.3 262.4,18.6 262.8,20.0 263.2,21.3 263.6,22.7 264.6,23.5 265.7,24.3 266.8,25.7 267.9,27.0 269.0,28.3 268.2,29.6 267.5,31.0 266.7,31.6 266.0,32.2 265.2,32.7 264.4,33.3 263.2,33.2 262.0,33.0 261.3,34.4 260.7,35.8 260.0,37.2 259.1,38.1 258.3,39.0 257.4,39.9 257.0,41.2 256.5,42.4 256.1,43.7 255.3,42.5 254.4,41.1 253.6,39.6 253.2,38.2 252.9,36.8 252.5,35.4 252.1,34.2 251.7,33.0 251.2,31.8Z"/>
<path fill="#38a800" d="M249.5,32.8 250.1,31.7 250.8,30.6 251.2,31.8 251.7,33.0 252.1,34.2 252.5,35.4 252.9,36.8 253.2,38.2 253.6,39.6 254.4,41.1 255.3,42.5 256.1,43.7 256.0,45.1 255.0,45.9 254.1,46.7 253.0,47.0 252.0,47.2 250.9,47.4 249.9,47.6 248.9,47.9 248.6,46.4 248.4,44.9 248.2,43.3 248.1,41.7 248.1,40.4 248.2,39.1 248.2,37.8 249.0,36.9 249.9,36.1 249.7,35.0 249.6,33.9Z"/>
<path fill="#38a800" d="M241.5,34.8 242.5,34.6 243.5,34.4 244.5,34.1 245.5,33.9 246.5,33.6 247.5,33.4 248.5,33.1 249.5,32.8 249.6,33.9 249.7,35.0 249.9,36.1 249.0,36.9 248.2,37.8 248.2,39.1 248.1,40.4 248.1,41.7 248.2,43.3 248.4,44.9 248.6,46.4 248.9,47.9 248.0,48.1 247.0,48.3 246.1,48.5 245.2,48.6 244.9,47.4 244.7,46.2 244.4,44.9 244.1,43.7 243.8,43.5 243.3,42.3 242.8,41.1 242.6,39.9 242.3,38.6 242.1,37.4 241.8,36.1Z"/>
<path fill="#38a800" d="M245.2,53.2 245.2,51.7 245.2,50.2 245.2,48.6 246.1,48.5 247.0,48.3 248.0,48.1 248.9,47.9 249.9,47.6 250.9,47.4 252.0,47.2 253.0,47.0 254.1,46.7 255.0,45.9 256.0,45.1 257.3,46.2 256.7,47.5 256.1,48.8 257.1,49.7 258.2,50.5 259.0,51.5 259.8,51.3 260.6,51.1 261.5,50.9 261.1,50.1 260.7,49.2 261.3,50.3 261.8,51.4 261.1,51.8 260.3,52.3 259.5,52.8 258.6,52.9 257.7,53.0 256.8,53.9 256.1,52.7 255.5,51.9 254.8,51.0 253.9,51.3 252.9,51.5 251.8,51.8 250.7,52.0 249.6,52.3 248.5,52.5 247.4,52.7 246.3,53.0Z"/>
<path fill="#38a800" d="M245.2,53.2 246.3,53.0 247.4,52.7 248.5,52.5 249.6,52.3 250.7,52.0 251.8,51.8 252.9,51.5 253.2,53.0 253.5,54.4 253.8,55.8 252.9,56.2 251.9,56.5 250.9,56.9 249.9,57.4 248.8,57.9 247.9,58.5 247.0,59.2 246.1,59.9 246.6,59.1 246.3,57.6 245.9,56.1 245.6,54.7Z"/>
<path fill="#38a800" d="M254.8,51.0 253.9,51.3 252.9,51.5 253.2,53.0 253.5,54.4 253.8,55.8 254.6,55.5 255.3,55.1 256.1,54.5 256.8,53.9 256.1,52.7 255.5,51.9Z"/>
<path fill="#78cd00" d="M240.8,58.8 241.8,59.1 242.8,59.5 243.8,59.8 244.9,60.1 244.9,61.1 244.9,62.1 244.1,63.6 245.4,63.9 245.5,65.2 245.7,66.5 245.8,68.1 245.0,69.7 244.1,71.4 243.6,72.7 243.0,74.0 241.8,73.0 240.6,71.9 239.3,70.5 239.7,69.1 240.3,68.5 240.9,67.9 241.6,67.1 242.2,66.3 241.4,65.7 240.5,65.0 239.5,64.0 239.6,63.0 239.6,62.0 240.2,60.4Z"/>
<path fill="#38a800" d="M238.0,70.0 238.8,69.6 239.7,69.1 239.0,70.6 239.7,71.6 240.5,72.5 241.5,73.8 242.5,75.0 242.8,76.1 243.2,77.1 242.2,77.4 241.1,77.6 240.1,77.8 239.8,76.5 239.4,75.2 239.0,73.9 238.7,72.6 238.3,71.3Z"/>
<path fill="#d1ed00" d="M220.6,73.4 221.8,73.2 222.9,73.0 224.1,72.8 225.3,72.6 226.4,72.4 227.6,72.1 228.7,71.9 229.9,71.7 231.1,71.5 232.2,71.2 233.4,71.0 234.5,70.8 235.7,70.5 236.8,70.3 238.0,70.0 238.3,71.3 238.7,72.6 239.0,73.9 239.4,75.2 239.8,76.5 240.1,77.8 241.1,77.6 242.2,77.4 243.2,77.1 243.0,78.5 242.8,79.9 241.9,80.4 241.0,80.9 240.0,80.1 238.9,79.4 238.0,78.4 237.1,77.5 237.0,76.2 237.0,74.9 236.9,73.5 236.9,72.0 236.3,72.9 235.8,73.9 235.8,74.8 235.7,75.8 236.3,77.3 236.8,78.8 237.3,79.9 237.8,80.9 237.0,80.8 236.2,80.6 235.1,80.3 234.1,80.0 232.6,78.7 232.9,77.7 233.2,76.7 232.3,76.2 231.5,75.7 230.7,75.2 229.4,74.4 228.6,73.9 227.9,73.5 227.0,73.3 226.1,73.0 225.0,73.3 224.0,73.6 223.2,74.7 222.2,75.7 221.2,76.7 221.0,75.6 220.8,74.5Z"/>
<path fill="#bbb" d="M16.7,100.0 19.0,100.4 21.4,101.2 19.3,101.3 17.3,100.8Z"/>
<path fill="#bbb" d="M25.1,105.9 26.4,107.0 25.6,107.2Z"/>
<path fill="#bbb" d="M24.4,108.6 24.8,110.2 24.8,109.3Z"/>
<path fill="#bbb" d="M258.1,53.8 260.0,53.6 259.4,54.1Z"/>
<path fill="#bbb" d="M261.3,53.8 262.5,53.9 261.9,54.1Z"/>
</g>
<g fill="none" stroke="#777" stroke-width="0.6" stroke-linecap="round">
<path d="M231.4,164.2 230.3,166.3 228.3,168.1 225.5,169.2 223.8,169.8"/>
<path d="M241.8,89.8 242.9,91.8 244.5,94.1 245.6,97.4 244.3,98.5 242.8,100.0 241.5,102.2 239.9,102.3"/>
<path d="M170.5,27.9 173.8,25.6"/>
</g>
<g font-size="5.4" fill="#222" text-anchor="middle" fill-opacity="0.62">
<text x="41.1" y="20.3">WA</text>
<text x="31.0" y="40.9">OR</text>
<text x="56.4" y="44.3">ID</text>
<text x="84.6" y="31.7">MT</text>
<text x="89.2" y="58.2">WY</text>
<text x="42.7" y="73.7">NV</text>
<text x="23.2" y="83.9">CA</text>
<text x="66.9" y="78.3">UT</text>
<text x="95.5" y="84.5">CO</text>
<text x="61.5" y="110.3">AZ</text>
<text x="90.6" y="112.7">NM</text>
<text x="122.7" y="32.6">ND</text>
<text x="123.2" y="51.6">SD</text>
<text x="147.8" y="40.5">MN</text>
<text x="169.7" y="51.6">WI</text>
<text x="190.4" y="53.6">MI</text>
<text x="180.0" y="41.3">MI</text>
<text x="126.9" y="70.0">NE</text>
<text x="153.7" y="67.1">IA</text>
<text x="173.0" y="79.0">IL</text>
<text x="188.4" y="78.5">IN</text>
<text x="130.5" y="89.4">KS</text>
<text x="157.5" y="89.9">MO</text>
<text x="135.1" y="108.1">OK</text>
<text x="159.1" y="112.1">AR</text>
<text x="188.8" y="104.1">TN</text>
<text x="175.1" y="123.2">MS</text>
<text x="189.0" y="122.7">AL</text>
<text x="160.6" y="135.8">LA</text>
<text x="123.4" y="133.6">TX</text>
<text x="238.3" y="51.5">NY</text>
<text x="226.8" y="66.4">PA</text>
<text x="204.4" y="74.0">OH</text>
<text x="259.0" y="28.2">ME</text>
<text x="252.3" y="50.5">MA</text>
<text x="228.4" y="88.5">VA</text>
<text x="225.5" y="100.7">NC</text>
<text x="198.4" y="92.5">KY</text>
<text x="215.0" y="83.2">WV</text>
<text x="221.7" y="112.7">SC</text>
<text x="209.5" y="122.5">GA</text>
<text x="220.4" y="146.2">FL</text>
<text x="246.6" y="42.7">VT</text>
<text x="251.4" y="42.6">NH</text>
<text x="249.9" y="57.7">CT</text>
<text x="256.0" y="57.1">RI</text>
</g>
<text x="8.6" y="142.5" font-size="9.1" transform="matrix(1 0 0 1.07 0 -9.975)" fill="#1a1a1a" stroke="#1a1a1a" stroke-width="0.15">Thousand acres</text>
<g font-size="8.5" fill="#1a1a1a" stroke="#1a1a1a" stroke-width="0.15" text-anchor="middle">
<text x="25.5" y="151.6" transform="matrix(1 0 0 1.07 0 -10.612)">50</text>
<text x="54.3" y="151.6" transform="matrix(1 0 0 1.07 0 -10.612)">200</text>
<text x="83.2" y="151.6" transform="matrix(1 0 0 1.07 0 -10.612)">600</text>
<text x="10.1" y="168.9" transform="matrix(1 0 0 1.07 0 -11.823)">0</text>
<text x="40.3" y="168.9" transform="matrix(1 0 0 1.07 0 -11.823)">100</text>
<text x="68.3" y="168.9" transform="matrix(1 0 0 1.07 0 -11.823)">400</text>
<text x="99.3" y="168.9" transform="matrix(1 0 0 1.07 0 -11.823)">1100</text>
</g>
<rect x="9.90" y="154.1" width="14.85" height="5.7" fill="#38a800" stroke="#707070" stroke-width="0.4"/>
<rect x="24.75" y="154.1" width="14.85" height="5.7" fill="#78cd00" stroke="#707070" stroke-width="0.4"/>
<rect x="39.60" y="154.1" width="14.85" height="5.7" fill="#d1ed00" stroke="#707070" stroke-width="0.4"/>
<rect x="54.45" y="154.1" width="14.85" height="5.7" fill="#ffcc00" stroke="#707070" stroke-width="0.4"/>
<rect x="69.30" y="154.1" width="14.85" height="5.7" fill="#ff6600" stroke="#707070" stroke-width="0.4"/>
<rect x="84.15" y="154.1" width="14.85" height="5.7" fill="#ff0000" stroke="#707070" stroke-width="0.4"/>
<text x="138.9" y="186.0" font-size="10.4" letter-spacing="0.3" fill="#1e1e1e" stroke="#1e1e1e" stroke-width="0.18" text-anchor="middle">(b) Ag land conversion to LDR</text>
</g>
<g transform="translate(0,193.5)">
<rect x="5.6" y="3.9" width="266.5" height="166.9" fill="#fff" stroke="#3a3a3a" stroke-width="1.3"/>
<g stroke="#6e6e6e" stroke-width="0.45" stroke-linejoin="round">
<path fill="#38a800" d="M31.4,6.1 32.4,6.4 33.4,6.6 34.4,6.9 35.4,7.2 36.4,7.5 37.4,7.8 38.4,8.0 39.5,8.3 40.5,8.6 41.5,8.8 42.5,9.1 43.5,9.4 44.5,9.6 45.5,9.9 46.5,10.1 47.5,10.4 48.5,10.6 49.5,10.9 50.5,11.1 51.6,11.3 52.6,11.6 53.6,11.8 54.6,12.0 54.3,13.5 53.9,14.9 53.6,16.3 53.3,17.7 53.0,19.2 52.7,20.6 52.3,22.0 52.0,23.5 51.7,24.9 51.4,26.3 51.0,27.8 51.0,29.1 51.0,30.4 50.0,30.2 49.0,30.0 48.0,29.8 47.0,29.5 46.0,29.3 45.1,29.1 44.1,28.8 43.1,28.6 42.1,28.4 41.2,28.3 40.3,28.3 39.4,28.2 38.3,28.2 37.2,28.2 36.1,28.2 34.9,28.1 34.0,28.1 33.1,28.1 32.2,28.1 31.1,27.9 30.0,27.7 28.9,27.5 27.8,27.4 27.1,27.0 26.4,26.6 25.7,26.2 25.7,24.8 25.8,23.3 24.8,22.7 23.9,22.1 23.1,21.7 22.3,21.3 21.5,20.9 21.8,19.6 22.0,18.3 22.2,17.0 22.3,15.7 22.4,14.5 22.5,13.2 22.5,11.7 22.5,10.3 22.5,8.9 22.5,7.4 23.4,8.0 24.3,8.6 25.2,9.1 26.1,9.7 27.0,10.3 27.9,10.7 28.8,11.0 29.7,11.4 29.8,12.7 29.5,14.3 29.3,15.8 28.4,16.6 27.6,17.3 28.7,17.0 29.8,16.6 30.2,15.8 30.7,14.9 31.1,13.8 31.6,12.6 31.6,11.0 31.6,9.4 31.5,7.7Z"/>
<path fill="#38a800" d="M21.5,20.9 22.3,21.3 23.1,21.7 23.9,22.1 24.8,22.7 25.8,23.3 25.7,24.8 25.7,26.2 26.4,26.6 27.1,27.0 27.8,27.4 28.9,27.5 30.0,27.7 31.1,27.9 32.2,28.1 33.1,28.1 34.0,28.1 34.9,28.1 36.1,28.2 37.2,28.2 38.3,28.2 39.4,28.2 40.3,28.3 41.2,28.3 42.1,28.4 43.1,28.6 44.1,28.8 45.1,29.1 46.0,29.3 47.0,29.5 48.0,29.8 49.0,30.0 50.0,30.2 51.0,30.4 51.5,31.7 51.9,32.6 52.3,33.5 51.1,34.9 50.5,35.8 49.9,36.7 48.7,38.0 48.1,39.3 47.4,40.6 48.0,41.1 48.6,41.7 48.0,42.7 47.5,43.7 47.2,45.1 46.9,46.5 46.5,47.9 46.2,49.4 45.9,50.8 45.6,52.2 45.3,53.6 45.0,55.0 43.8,54.7 42.7,54.5 41.6,54.2 40.5,53.9 39.4,53.7 38.2,53.4 37.1,53.1 36.0,52.9 34.9,52.6 33.8,52.3 32.7,52.0 31.5,51.7 30.4,51.4 29.3,51.2 28.2,50.9 27.1,50.6 26.0,50.3 24.9,50.0 23.8,49.6 22.7,49.3 21.6,49.0 20.5,48.7 19.4,48.4 18.2,48.1 17.1,47.7 16.0,47.4 14.9,47.1 13.8,46.8 12.7,46.4 12.8,45.0 12.8,43.6 12.8,42.3 12.8,40.9 13.6,39.6 14.5,38.3 15.3,37.0 16.1,35.8 16.9,34.5 17.5,33.0 18.1,31.5 18.6,30.0 19.2,28.6 19.8,27.1 20.3,25.6 20.6,24.4 20.9,23.3 21.2,22.1Z"/>
<path fill="#78cd00" d="M12.7,46.4 13.8,46.8 14.9,47.1 16.0,47.4 17.1,47.7 18.2,48.1 19.4,48.4 20.5,48.7 21.6,49.0 22.7,49.3 23.8,49.6 24.9,50.0 26.0,50.3 27.1,50.6 28.2,50.9 29.3,51.2 30.4,51.4 31.6,51.7 31.2,53.3 30.8,54.8 30.4,56.3 30.0,57.9 29.6,59.4 29.2,60.9 28.8,62.5 28.4,64.0 28.0,65.6 27.6,67.1 27.2,68.6 26.8,70.2 27.6,71.6 28.5,73.0 29.4,74.4 30.3,75.8 31.1,77.2 32.0,78.6 32.9,80.0 33.8,81.4 34.8,82.8 35.7,84.2 36.6,85.6 37.5,87.0 38.5,88.4 39.4,89.8 40.4,91.2 41.3,92.6 42.3,94.0 43.2,95.4 44.2,96.7 45.2,98.1 46.2,99.5 47.2,100.9 47.5,102.1 47.8,103.4 48.2,104.6 48.8,105.7 48.0,106.3 47.1,106.8 46.5,108.3 46.0,109.7 44.8,110.8 45.1,112.1 45.4,113.5 44.6,114.2 43.9,115.0 42.6,114.8 41.4,114.7 40.1,114.6 38.8,114.4 37.6,114.3 36.3,114.1 35.1,114.0 33.8,113.8 32.5,113.7 31.3,113.5 31.1,112.6 31.0,111.7 30.7,110.3 30.4,108.9 30.1,107.6 29.0,106.6 28.0,105.7 27.0,104.8 26.7,103.8 26.4,102.8 25.3,102.2 24.2,101.6 23.1,101.0 22.1,100.4 21.1,99.7 20.1,99.1 19.1,98.5 18.1,97.8 17.1,97.2 17.3,95.7 17.4,94.2 17.5,92.7 16.7,91.0 15.8,89.3 15.0,87.7 14.1,86.0 13.3,84.3 13.5,83.4 13.8,82.5 14.7,81.1 13.9,80.1 13.2,79.1 12.4,78.1 12.6,76.8 12.8,75.6 13.0,74.3 12.0,73.4 11.0,72.4 10.6,70.8 10.2,69.2 9.8,67.6 9.3,66.0 9.6,64.6 9.9,63.1 10.2,61.7 10.5,60.3 10.0,59.1 9.5,57.8 8.9,56.5 9.8,55.2 10.6,53.9 11.4,52.6 11.7,51.1 12.1,49.5 12.4,48.0Z"/>
<path fill="#78cd00" d="M31.6,51.7 32.7,52.0 33.8,52.3 34.9,52.6 36.0,52.9 37.1,53.1 38.3,53.4 39.4,53.7 40.5,53.9 41.6,54.2 42.7,54.5 43.9,54.7 45.0,55.0 46.1,55.2 47.2,55.5 48.4,55.7 49.5,56.0 50.6,56.2 51.7,56.4 52.9,56.7 54.0,56.9 55.1,57.1 56.2,57.4 57.4,57.6 58.5,57.8 58.2,59.4 57.9,60.9 57.6,62.5 57.3,64.0 57.0,65.6 56.7,67.1 56.4,68.7 56.1,70.3 55.8,71.8 55.5,73.4 55.2,74.9 54.9,76.5 54.6,78.1 54.3,79.6 54.0,81.2 53.7,82.7 53.4,84.3 53.1,85.9 52.8,87.4 52.5,89.0 52.3,90.2 52.0,91.5 51.8,92.7 51.5,94.0 50.3,94.1 49.1,94.3 47.9,94.4 48.0,95.6 48.0,96.7 48.1,97.8 47.6,99.4 47.2,100.9 46.2,99.5 45.2,98.1 44.2,96.7 43.2,95.4 42.3,94.0 41.3,92.6 40.4,91.2 39.4,89.8 38.5,88.4 37.5,87.0 36.6,85.6 35.7,84.2 34.8,82.8 33.8,81.4 32.9,80.0 32.0,78.6 31.1,77.2 30.3,75.8 29.4,74.4 28.5,73.0 27.6,71.6 26.8,70.2 27.2,68.6 27.6,67.1 28.0,65.6 28.4,64.0 28.8,62.5 29.2,60.9 29.6,59.4 30.0,57.9 30.4,56.3 30.8,54.8 31.2,53.3Z"/>
<path fill="#38a800" d="M54.6,12.0 55.6,12.3 56.6,12.5 57.6,12.7 58.6,12.9 58.3,14.4 58.0,16.0 57.7,17.5 57.3,19.0 57.6,20.2 57.8,21.5 58.1,22.7 58.8,23.5 59.5,24.3 60.2,25.7 61.0,27.1 61.7,28.5 62.6,29.7 62.2,30.9 61.8,32.1 61.4,33.3 61.1,34.3 60.8,35.3 61.8,35.5 62.9,35.6 63.9,35.7 64.1,37.1 64.4,38.5 64.7,39.9 65.4,41.2 66.2,42.4 66.9,43.6 68.1,43.5 69.3,43.4 70.1,43.5 71.0,43.7 71.9,43.8 72.8,44.0 73.7,44.4 74.7,44.7 74.4,46.3 74.2,47.8 74.0,49.4 73.7,50.9 73.5,52.5 73.2,54.0 73.0,55.6 72.7,57.1 72.5,58.7 72.2,60.2 71.1,60.0 69.9,59.9 68.8,59.7 67.7,59.5 66.5,59.3 65.4,59.1 64.2,58.9 63.1,58.7 62.0,58.5 60.8,58.2 59.7,58.0 58.5,57.8 57.4,57.6 56.3,57.4 55.1,57.1 54.0,56.9 52.9,56.7 51.7,56.4 50.6,56.2 49.5,56.0 48.3,55.7 47.2,55.5 46.1,55.2 45.0,55.0 45.3,53.6 45.6,52.2 45.9,50.8 46.2,49.4 46.5,47.9 46.9,46.5 47.2,45.1 47.5,43.7 48.0,42.7 48.6,41.7 48.0,41.1 47.4,40.6 48.1,39.3 48.7,38.0 49.9,36.7 50.5,35.8 51.1,34.9 52.3,33.5 51.9,32.6 51.5,31.7 51.0,30.4 51.0,29.1 51.0,27.8 51.4,26.3 51.7,24.9 52.0,23.5 52.3,22.0 52.7,20.6 53.0,19.2 53.3,17.7 53.6,16.3 53.9,14.9 54.3,13.5Z"/>
<path fill="#38a800" d="M58.6,12.9 59.7,13.1 60.7,13.4 61.7,13.6 62.7,13.8 63.7,14.0 64.8,14.2 65.8,14.4 66.8,14.6 67.9,14.8 68.9,15.0 69.9,15.2 70.9,15.4 72.0,15.5 73.0,15.7 74.0,15.9 75.1,16.1 76.1,16.3 77.1,16.4 78.1,16.6 79.2,16.8 80.2,16.9 81.2,17.1 82.3,17.3 83.3,17.4 84.3,17.6 85.4,17.7 86.4,17.9 87.4,18.0 88.5,18.1 89.5,18.3 90.5,18.4 91.6,18.6 92.6,18.7 93.7,18.8 94.7,18.9 95.7,19.1 96.8,19.2 97.8,19.3 98.9,19.4 99.9,19.5 100.9,19.6 102.0,19.7 103.0,19.8 104.0,20.0 105.1,20.0 106.1,20.1 107.2,20.2 108.2,20.3 108.1,21.9 107.9,23.4 107.8,25.0 107.7,26.5 107.5,28.1 107.4,29.6 107.3,31.2 107.2,32.8 107.0,34.3 106.9,35.9 106.8,37.4 106.6,39.0 106.5,40.6 106.3,42.1 106.2,43.7 106.1,45.3 105.0,45.2 103.9,45.1 102.8,45.0 101.7,44.9 100.6,44.8 99.4,44.7 98.3,44.6 97.2,44.4 96.1,44.3 95.0,44.2 93.9,44.1 92.8,43.9 91.7,43.8 90.6,43.7 89.5,43.5 88.4,43.4 87.3,43.3 86.2,43.1 85.1,43.0 84.0,42.8 82.9,42.7 81.8,42.5 80.7,42.3 79.6,42.2 78.5,42.0 77.4,41.8 76.3,41.7 75.2,41.5 75.0,42.6 74.9,43.7 74.7,44.7 73.7,44.4 72.8,44.0 71.9,43.8 71.0,43.7 70.1,43.5 69.3,43.4 68.1,43.5 66.9,43.6 66.2,42.4 65.4,41.2 64.7,39.9 64.4,38.5 64.1,37.1 63.9,35.7 62.9,35.6 61.8,35.5 60.8,35.3 61.1,34.3 61.4,33.3 61.8,32.1 62.2,30.9 62.6,29.7 61.7,28.5 61.0,27.1 60.2,25.7 59.5,24.3 58.8,23.5 58.1,22.7 57.8,21.5 57.6,20.2 57.3,19.0 57.7,17.5 58.0,16.0 58.3,14.4 58.6,12.9Z"/>
<path fill="#38a800" d="M75.2,41.5 76.3,41.7 77.4,41.8 78.5,42.0 79.6,42.2 80.7,42.3 81.8,42.5 82.9,42.7 84.0,42.8 85.1,43.0 86.2,43.1 87.3,43.3 88.4,43.4 89.5,43.5 90.6,43.7 91.7,43.8 92.8,43.9 93.9,44.1 95.0,44.2 96.1,44.3 97.2,44.4 98.3,44.6 99.4,44.7 100.6,44.8 101.7,44.9 102.8,45.0 103.9,45.1 105.0,45.2 106.1,45.3 105.9,46.9 105.8,48.4 105.7,50.0 105.5,51.6 105.4,53.1 105.3,54.7 105.1,56.3 105.0,57.9 104.9,59.4 104.7,61.0 104.6,62.6 104.5,64.2 104.3,65.8 104.2,67.3 104.1,68.9 103.9,70.5 102.8,70.4 101.6,70.3 100.4,70.2 99.2,70.1 98.1,70.0 96.9,69.8 95.7,69.7 94.6,69.6 93.4,69.5 92.2,69.3 91.0,69.2 89.9,69.1 88.7,68.9 87.5,68.8 86.4,68.6 85.2,68.5 84.0,68.3 82.9,68.2 81.7,68.0 80.5,67.9 79.4,67.7 78.2,67.5 77.0,67.4 75.9,67.2 74.7,67.0 73.5,66.9 72.4,66.7 71.2,66.5 71.5,64.9 71.7,63.4 72.0,61.8 72.2,60.2 72.5,58.7 72.7,57.1 73.0,55.5 73.2,54.0 73.5,52.4 73.7,50.8 74.0,49.3 74.2,47.7 74.5,46.2 74.7,44.6 75.0,43.1Z"/>
<path fill="#78cd00" d="M58.5,57.8 59.6,58.0 60.8,58.2 61.9,58.5 63.1,58.7 64.2,58.9 65.3,59.1 66.5,59.3 67.6,59.5 68.8,59.7 69.9,59.9 71.1,60.0 72.2,60.2 72.0,61.8 71.7,63.4 71.5,64.9 71.2,66.5 72.4,66.7 73.5,66.9 74.7,67.0 75.9,67.2 77.0,67.4 78.2,67.5 79.4,67.7 80.5,67.9 80.3,69.4 80.1,71.0 79.9,72.6 79.7,74.2 79.4,75.7 79.2,77.3 79.0,78.9 78.8,80.5 78.6,82.0 78.4,83.6 78.1,85.2 77.9,86.8 77.7,88.3 77.5,89.9 77.3,91.5 77.0,93.0 75.8,92.9 74.6,92.7 73.3,92.5 72.1,92.3 70.9,92.2 69.7,92.0 68.4,91.8 67.2,91.6 66.0,91.4 64.7,91.2 63.5,91.0 62.3,90.8 61.1,90.6 59.8,90.3 58.6,90.1 57.4,89.9 56.2,89.7 54.9,89.4 53.7,89.2 52.5,89.0 52.8,87.4 53.1,85.9 53.4,84.3 53.7,82.7 54.0,81.2 54.3,79.6 54.6,78.1 54.9,76.5 55.2,74.9 55.5,73.4 55.8,71.8 56.1,70.3 56.4,68.7 56.7,67.1 57.0,65.6 57.3,64.0 57.6,62.5 57.9,60.9 58.2,59.4Z"/>
<path fill="#38a800" d="M80.5,67.9 81.7,68.0 82.9,68.2 84.0,68.3 85.2,68.5 86.4,68.6 87.5,68.8 88.7,68.9 89.9,69.1 91.0,69.2 92.2,69.3 93.4,69.5 94.6,69.6 95.7,69.7 96.9,69.8 98.1,70.0 99.2,70.1 100.4,70.2 101.6,70.3 102.8,70.4 103.9,70.5 105.1,70.6 106.3,70.7 107.5,70.8 108.6,70.9 109.8,71.0 111.0,71.0 112.1,71.1 113.3,71.2 113.2,72.8 113.1,74.4 113.0,75.9 112.9,77.5 112.8,79.1 112.7,80.7 112.6,82.3 112.5,83.9 112.4,85.5 112.3,87.0 112.2,88.6 112.1,90.2 112.0,91.8 111.9,93.4 111.8,95.0 111.7,96.6 110.5,96.5 109.2,96.4 108.0,96.3 106.7,96.2 105.5,96.1 104.3,96.0 103.0,95.9 101.8,95.8 100.5,95.7 99.3,95.6 98.1,95.5 96.8,95.4 95.6,95.2 94.3,95.1 93.1,95.0 91.9,94.9 90.6,94.7 89.4,94.6 88.2,94.5 86.9,94.3 85.7,94.2 84.4,94.0 83.2,93.9 82.0,93.7 80.7,93.5 79.5,93.4 78.3,93.2 77.0,93.0 77.3,91.5 77.5,89.9 77.7,88.3 77.9,86.8 78.1,85.2 78.4,83.6 78.6,82.0 78.8,80.5 79.0,78.9 79.2,77.3 79.4,75.7 79.7,74.2 79.9,72.6 80.1,71.0 80.3,69.4Z"/>
<path fill="#38a800" d="M52.5,89.0 53.7,89.2 54.9,89.4 56.2,89.7 57.4,89.9 58.6,90.1 59.8,90.3 61.1,90.6 62.3,90.8 63.5,91.0 64.7,91.2 66.0,91.4 67.2,91.6 68.4,91.8 69.7,92.0 70.9,92.2 72.1,92.3 73.3,92.5 74.6,92.7 75.8,92.9 77.0,93.0 76.8,94.6 76.6,96.1 76.4,97.7 76.2,99.2 76.0,100.8 75.8,102.4 75.5,103.9 75.3,105.5 75.1,107.0 74.9,108.5 74.7,110.1 74.5,111.6 74.2,113.2 74.0,114.7 73.8,116.3 73.6,117.8 73.4,119.4 73.2,120.9 73.0,122.5 72.7,124.0 72.5,125.6 72.3,127.1 72.1,128.6 70.9,128.5 69.7,128.3 68.5,128.1 67.3,128.0 66.2,127.8 65.0,127.6 63.8,127.4 62.6,127.2 61.4,127.0 60.2,126.3 58.9,125.6 57.7,124.9 56.5,124.2 55.2,123.5 54.0,122.8 52.8,122.1 51.6,121.4 50.4,120.6 49.2,119.9 48.0,119.2 46.7,118.5 45.5,117.7 44.4,117.0 43.2,116.2 43.9,115.0 44.6,114.2 45.4,113.5 45.1,112.1 44.8,110.8 46.0,109.7 46.5,108.3 47.1,106.8 48.0,106.3 48.8,105.7 48.2,104.6 47.8,103.4 47.5,102.1 47.2,100.9 47.6,99.4 48.1,97.8 48.0,96.7 48.0,95.6 47.9,94.4 49.1,94.3 50.3,94.1 51.5,94.0 51.8,92.7 52.0,91.5 52.3,90.2Z"/>
<path fill="#38a800" d="M77.0,93.0 78.2,93.2 79.4,93.4 80.6,93.5 81.8,93.7 83.0,93.8 84.2,94.0 85.4,94.1 86.6,94.3 87.8,94.4 89.0,94.5 90.2,94.7 91.4,94.8 92.6,94.9 93.8,95.1 95.0,95.2 96.2,95.3 97.4,95.4 98.6,95.5 99.8,95.6 101.0,95.7 102.2,95.8 103.4,95.9 104.6,96.0 105.8,96.1 107.0,96.2 106.9,97.8 106.7,99.4 106.6,101.0 106.5,102.6 106.3,104.1 106.2,105.7 106.1,107.3 105.9,108.9 105.8,110.5 105.7,112.0 105.5,113.6 105.4,115.2 105.3,116.8 105.1,118.4 105.0,119.9 104.9,121.5 104.7,123.1 104.6,124.7 104.5,126.2 104.3,127.8 103.1,127.7 101.8,127.6 100.5,127.5 99.3,127.4 98.0,127.3 96.8,127.2 95.5,127.1 94.3,127.0 93.0,126.9 91.8,126.7 90.5,126.6 89.3,126.5 88.0,126.3 86.7,126.2 85.5,126.1 85.8,127.5 84.5,127.4 83.3,127.2 82.0,127.1 80.7,126.9 79.5,126.7 78.2,126.6 76.9,126.4 76.7,127.8 76.6,129.2 75.5,129.1 74.3,129.0 73.2,128.8 72.1,128.6 72.3,127.1 72.5,125.6 72.7,124.0 73.0,122.5 73.2,120.9 73.4,119.4 73.6,117.8 73.8,116.3 74.0,114.7 74.2,113.2 74.5,111.6 74.7,110.1 74.9,108.5 75.1,107.0 75.3,105.5 75.5,103.9 75.8,102.4 76.0,100.8 76.2,99.2 76.4,97.7 76.6,96.1 76.8,94.6Z"/>
<path fill="#38a800" d="M108.2,20.3 109.2,20.4 110.2,20.5 111.3,20.6 112.3,20.7 113.3,20.7 114.3,20.8 115.3,20.9 116.3,20.9 117.3,21.0 118.4,21.1 119.4,21.1 120.4,21.2 121.4,21.2 122.4,21.3 123.4,21.3 124.5,21.4 125.5,21.4 126.5,21.5 127.5,21.5 128.5,21.5 129.6,21.6 130.6,21.6 131.6,21.6 132.6,21.7 133.6,21.7 134.6,21.7 135.7,21.7 136.7,21.7 136.8,23.3 137.0,24.8 137.3,26.3 137.6,27.7 137.9,29.1 138.2,30.5 138.2,31.9 138.2,33.4 138.2,34.9 138.6,36.1 138.9,37.4 139.2,38.6 139.3,39.8 139.4,40.9 138.3,40.9 137.2,40.9 136.1,40.9 135.0,40.8 133.9,40.8 132.8,40.8 131.7,40.8 130.6,40.7 129.5,40.7 128.4,40.7 127.3,40.6 126.2,40.6 125.1,40.6 124.0,40.5 123.0,40.5 121.9,40.4 120.8,40.4 119.7,40.3 118.6,40.2 117.5,40.2 116.4,40.1 115.3,40.0 114.2,40.0 113.1,39.9 112.0,39.8 110.9,39.7 109.9,39.7 108.8,39.6 107.7,39.5 106.6,39.4 106.7,37.9 106.8,36.4 107.0,35.0 107.1,33.5 107.2,32.0 107.3,30.6 107.5,29.1 107.6,27.6 107.7,26.2 107.8,24.7 108.0,23.2 108.1,21.8Z"/>
<path fill="#38a800" d="M106.6,39.4 107.7,39.5 108.8,39.6 109.9,39.7 110.9,39.7 112.0,39.8 113.1,39.9 114.2,40.0 115.3,40.0 116.4,40.1 117.5,40.2 118.6,40.2 119.7,40.3 120.8,40.4 121.9,40.4 123.0,40.5 124.0,40.5 125.1,40.6 126.2,40.6 127.3,40.6 128.4,40.7 129.5,40.7 130.6,40.7 131.7,40.8 132.8,40.8 133.9,40.8 135.0,40.8 136.1,40.9 137.2,40.9 138.3,40.9 139.4,40.9 139.4,41.6 138.7,42.3 138.1,43.0 138.9,44.0 139.8,44.9 139.8,46.3 139.8,47.8 139.8,49.2 139.8,50.6 139.8,52.0 139.8,53.4 139.8,54.9 139.8,56.3 139.4,57.9 139.1,59.4 139.3,60.5 139.5,61.6 139.7,62.7 138.6,61.6 137.4,61.0 136.3,60.4 135.2,60.5 134.2,60.7 133.1,60.8 132.2,60.3 131.3,59.8 130.4,59.3 129.3,59.3 128.2,59.2 127.1,59.2 125.9,59.1 124.8,59.1 123.7,59.1 122.6,59.0 121.5,59.0 120.4,58.9 119.3,58.9 118.2,58.8 117.1,58.7 116.0,58.7 114.9,58.6 113.8,58.5 112.7,58.5 111.6,58.4 110.5,58.3 109.4,58.2 108.3,58.1 107.2,58.1 106.1,58.0 105.0,57.9 105.1,56.3 105.3,54.8 105.4,53.2 105.5,51.7 105.7,50.2 105.8,48.6 105.9,47.1 106.1,45.5 106.2,44.0 106.3,42.5 106.5,40.9Z"/>
<path fill="#38a800" d="M105.0,57.9 106.1,58.0 107.2,58.1 108.3,58.1 109.4,58.2 110.5,58.3 111.6,58.4 112.7,58.5 113.8,58.5 114.9,58.6 116.0,58.7 117.1,58.7 118.2,58.8 119.3,58.9 120.4,58.9 121.5,59.0 122.6,59.0 123.7,59.1 124.8,59.1 125.9,59.1 127.1,59.2 128.2,59.2 129.3,59.3 130.4,59.3 131.3,59.8 132.2,60.3 133.1,60.8 134.2,60.7 135.2,60.5 136.3,60.4 137.4,61.0 138.6,61.6 139.7,62.7 140.0,63.6 140.2,64.5 140.8,65.9 141.3,67.4 141.8,68.8 142.3,70.2 142.3,71.5 142.4,72.8 142.6,73.8 142.9,74.8 143.3,75.7 143.7,76.6 144.4,77.5 145.1,78.5 143.9,78.5 142.8,78.5 141.6,78.5 140.4,78.5 139.2,78.5 138.0,78.4 136.8,78.4 135.6,78.4 134.4,78.4 133.2,78.4 132.0,78.4 130.8,78.3 129.6,78.3 128.4,78.3 127.2,78.2 126.0,78.2 124.8,78.1 123.6,78.1 122.5,78.0 121.3,78.0 120.1,77.9 118.9,77.9 117.7,77.8 116.5,77.7 115.3,77.7 114.1,77.6 112.9,77.5 113.0,75.9 113.1,74.4 113.2,72.8 113.3,71.2 112.1,71.1 111.0,71.0 109.8,71.0 108.6,70.9 107.5,70.8 106.3,70.7 105.1,70.6 103.9,70.5 104.1,68.9 104.2,67.3 104.3,65.8 104.5,64.2 104.6,62.6 104.7,61.0 104.9,59.4Z"/>
<path fill="#38a800" d="M112.9,77.5 114.1,77.6 115.3,77.7 116.5,77.7 117.7,77.8 118.9,77.9 120.1,77.9 121.3,78.0 122.5,78.0 123.6,78.1 124.8,78.1 126.0,78.2 127.2,78.2 128.4,78.3 129.6,78.3 130.8,78.3 132.0,78.4 133.2,78.4 134.4,78.4 135.6,78.4 136.8,78.4 138.0,78.4 139.2,78.5 140.4,78.5 141.6,78.5 142.8,78.5 143.9,78.5 145.1,78.5 146.0,78.8 146.8,79.1 147.0,80.3 147.1,81.6 147.8,82.9 148.6,84.1 148.6,85.6 148.6,87.1 148.6,88.6 148.6,90.1 148.6,91.5 148.6,93.0 148.6,94.5 148.6,96.0 148.7,97.5 147.4,97.5 146.2,97.5 145.0,97.5 143.7,97.5 142.5,97.5 141.3,97.5 140.0,97.5 138.8,97.5 137.6,97.5 136.3,97.5 135.1,97.5 133.9,97.5 132.6,97.4 131.4,97.4 130.2,97.4 128.9,97.3 127.7,97.3 126.5,97.3 125.2,97.2 124.0,97.2 122.8,97.1 121.5,97.1 120.3,97.0 119.1,97.0 117.8,96.9 116.6,96.8 115.4,96.8 114.2,96.7 112.9,96.6 111.7,96.6 111.8,95.0 111.9,93.4 112.0,91.8 112.1,90.2 112.2,88.6 112.3,87.0 112.4,85.5 112.5,83.9 112.6,82.3 112.7,80.7 112.8,79.1Z"/>
<path fill="#38a800" d="M107.0,96.2 108.2,96.3 109.4,96.4 110.7,96.5 111.9,96.6 113.1,96.6 114.3,96.7 115.5,96.8 116.8,96.9 118.0,96.9 119.2,97.0 120.4,97.0 121.7,97.1 122.9,97.1 124.1,97.2 125.4,97.2 126.6,97.3 127.8,97.3 129.0,97.3 130.3,97.4 131.5,97.4 132.7,97.4 133.9,97.5 135.2,97.5 136.4,97.5 137.6,97.5 138.8,97.5 140.1,97.5 141.3,97.5 142.5,97.5 143.7,97.5 145.0,97.5 146.2,97.5 147.4,97.5 148.7,97.5 148.7,99.1 148.7,100.7 148.9,102.1 149.1,103.5 149.3,104.9 149.6,106.3 149.8,107.7 149.8,109.3 149.7,110.9 149.7,112.4 149.7,114.0 149.7,115.6 149.7,117.2 149.7,118.8 149.7,118.8 148.8,118.3 147.9,117.9 147.0,117.4 145.9,117.4 144.9,117.3 143.9,117.2 142.8,117.4 141.8,117.6 140.7,117.8 139.7,117.7 138.7,117.5 137.6,117.7 136.6,117.9 135.5,118.1 134.5,117.5 133.5,116.8 132.5,116.6 131.4,116.5 130.1,116.1 128.9,115.8 127.7,115.2 126.5,114.6 125.3,114.1 124.0,113.9 122.7,113.8 122.0,113.2 121.2,112.6 121.3,111.0 121.4,109.5 121.4,108.0 121.5,106.4 121.6,104.9 121.6,103.3 121.7,101.8 121.8,100.3 120.5,100.2 119.2,100.2 118.0,100.1 116.7,100.0 115.5,100.0 114.2,99.9 113.0,99.8 111.7,99.7 110.5,99.7 109.2,99.6 108.0,99.5 106.7,99.4 106.9,97.8Z"/>
<path fill="#38a800" d="M106.7,99.4 108.0,99.5 109.2,99.6 110.5,99.7 111.7,99.7 113.0,99.8 114.2,99.9 115.5,100.0 116.7,100.0 118.0,100.1 119.2,100.2 120.5,100.2 121.8,100.3 121.7,101.8 121.6,103.3 121.6,104.9 121.5,106.4 121.4,108.0 121.4,109.5 121.3,111.0 121.2,112.6 122.0,113.2 122.7,113.8 124.0,113.9 125.3,114.1 126.5,114.6 127.7,115.2 128.9,115.8 130.1,116.1 131.4,116.5 132.5,116.6 133.5,116.8 134.5,117.5 135.5,118.1 136.6,117.9 137.6,117.7 138.7,117.5 139.7,117.7 140.7,117.8 141.8,117.6 142.8,117.4 143.9,117.2 144.9,117.3 145.9,117.4 147.0,117.4 147.9,117.9 148.8,118.3 149.7,118.8 150.8,119.1 152.0,119.3 152.0,120.4 152.0,121.6 152.1,122.7 152.1,124.0 152.1,125.3 152.1,126.6 152.2,127.8 152.2,129.1 152.8,130.4 153.5,131.6 154.0,132.9 154.5,134.1 154.9,135.4 154.7,136.9 154.5,138.3 154.2,139.8 154.0,141.1 153.8,142.4 153.6,143.6 152.4,144.2 151.2,144.8 150.1,145.3 148.9,145.9 147.8,146.7 146.7,147.5 145.4,148.3 144.2,149.2 142.9,150.0 141.6,150.9 140.3,151.7 139.0,152.5 137.7,153.8 136.4,155.0 135.0,156.3 134.7,157.7 134.3,159.2 133.9,160.6 133.9,162.1 134.0,163.5 134.1,165.0 134.6,166.1 135.2,167.2 134.1,167.1 133.1,167.0 132.1,166.8 130.6,166.7 129.2,166.5 127.9,165.7 126.7,165.0 125.4,164.3 124.2,163.5 123.7,161.9 123.1,160.4 122.6,158.8 122.1,157.2 121.1,155.9 120.0,154.6 118.9,153.3 117.9,152.0 117.4,150.7 116.9,149.4 116.4,148.2 115.9,146.9 114.7,145.4 113.5,143.9 112.3,142.5 110.9,142.3 109.6,142.2 108.2,142.1 106.9,141.9 106.0,142.5 105.1,143.1 104.3,144.3 103.5,145.5 102.7,146.7 101.6,146.6 100.4,145.7 99.2,144.7 98.0,143.8 96.7,142.7 95.4,141.7 94.8,140.1 94.2,138.6 93.6,137.1 92.6,135.7 91.5,134.3 90.5,132.9 89.4,131.6 88.4,130.2 87.5,129.3 86.7,128.4 85.8,127.5 85.5,126.1 86.7,126.2 88.0,126.3 89.3,126.5 90.5,126.6 91.8,126.7 93.0,126.9 94.3,127.0 95.5,127.1 96.8,127.2 98.0,127.3 99.3,127.4 100.5,127.5 101.8,127.6 103.1,127.7 104.3,127.8 104.5,126.2 104.6,124.7 104.7,123.1 104.9,121.5 105.0,119.9 105.1,118.4 105.3,116.8 105.4,115.2 105.5,113.6 105.7,112.0 105.8,110.5 105.9,108.9 106.1,107.3 106.2,105.7 106.3,104.1 106.5,102.6 106.6,101.0Z"/>
<path fill="#38a800" d="M136.7,21.7 137.6,21.7 138.6,21.8 139.6,21.8 140.5,21.8 141.5,21.8 142.5,21.8 143.4,21.8 144.4,21.8 145.4,21.8 145.4,20.6 145.4,19.4 146.1,19.6 146.8,19.9 147.1,21.1 147.4,22.4 147.7,23.6 148.7,23.7 149.7,23.8 150.7,23.9 151.7,24.0 152.8,24.1 153.7,24.4 154.6,24.7 155.6,25.0 156.5,25.2 157.4,25.5 158.3,25.9 159.2,26.4 160.0,26.8 160.9,27.2 162.0,27.1 163.0,27.0 164.1,26.8 165.1,26.7 166.1,26.8 167.0,26.9 168.0,27.0 169.0,27.1 168.2,27.8 167.4,28.4 166.3,29.3 165.3,30.1 164.3,31.0 163.3,31.8 162.4,32.5 161.4,33.3 160.5,34.0 159.6,34.7 158.7,35.5 157.8,36.1 157.9,37.3 157.9,38.4 158.0,39.6 157.2,40.9 156.3,42.2 155.5,43.4 155.9,44.7 156.2,45.9 156.2,47.0 156.1,48.2 157.2,48.9 158.4,49.7 159.3,50.4 160.2,51.2 161.2,52.0 162.1,52.8 163.0,53.6 163.3,54.6 163.5,55.7 162.4,55.8 161.3,55.9 160.1,55.9 159.0,55.9 157.9,56.0 156.7,56.0 155.6,56.1 154.5,56.1 153.3,56.1 152.2,56.2 151.1,56.2 149.9,56.2 148.8,56.2 147.7,56.2 146.5,56.3 145.4,56.3 144.3,56.3 143.2,56.3 142.0,56.3 140.9,56.3 139.8,56.3 139.8,54.9 139.8,53.4 139.8,52.0 139.8,50.6 139.8,49.2 139.8,47.8 139.8,46.3 139.8,44.9 138.9,44.0 138.1,43.0 138.7,42.3 139.4,41.6 139.4,40.9 139.3,39.8 139.2,38.6 138.9,37.4 138.6,36.1 138.2,34.9 138.2,33.4 138.2,31.9 138.2,30.5 137.9,29.1 137.6,27.7 137.3,26.3 137.0,24.8 136.8,23.3Z"/>
<path fill="#38a800" d="M139.8,56.3 140.9,56.3 142.0,56.3 143.2,56.3 144.3,56.3 145.4,56.3 146.5,56.3 147.7,56.2 148.8,56.2 149.9,56.2 151.1,56.2 152.2,56.2 153.3,56.1 154.5,56.1 155.6,56.1 156.7,56.0 157.9,56.0 159.0,55.9 160.1,55.9 161.3,55.9 162.4,55.8 163.5,55.7 163.6,57.0 163.7,58.3 164.1,59.4 164.5,60.4 165.5,61.2 166.5,61.9 167.3,62.8 168.2,63.7 168.5,65.0 168.8,66.2 167.9,67.2 167.0,68.2 166.2,69.2 165.3,70.2 165.1,71.8 165.0,73.4 164.3,74.5 163.5,75.5 162.8,74.8 162.0,74.1 160.9,74.2 159.8,74.3 158.6,74.3 157.5,74.4 156.4,74.4 155.3,74.5 154.1,74.5 153.0,74.5 151.9,74.6 150.8,74.6 149.6,74.7 148.5,74.7 147.4,74.7 146.3,74.7 145.1,74.7 144.0,74.8 142.9,74.8 142.6,73.8 142.4,72.8 142.3,71.5 142.3,70.2 141.8,68.8 141.3,67.4 140.8,65.9 140.2,64.5 140.0,63.6 139.7,62.7 139.5,61.6 139.3,60.5 139.1,59.4 139.4,57.9Z"/>
<path fill="#38a800" d="M142.9,74.8 144.0,74.8 145.1,74.7 146.3,74.7 147.4,74.7 148.5,74.7 149.6,74.7 150.8,74.6 151.9,74.6 153.0,74.5 154.1,74.5 155.3,74.5 156.4,74.4 157.5,74.4 158.6,74.3 159.8,74.3 160.9,74.2 162.0,74.1 162.8,74.8 163.5,75.5 163.4,76.8 163.3,78.0 164.1,79.2 164.8,80.4 166.1,82.0 167.4,83.5 168.7,84.0 169.9,84.6 170.0,85.6 170.0,86.5 169.9,87.8 169.7,89.1 170.7,90.0 171.8,90.9 172.8,91.7 173.4,93.1 174.0,94.5 174.9,95.4 175.9,96.3 176.1,96.6 176.0,97.7 175.8,98.9 174.8,99.6 174.2,100.9 173.9,101.9 173.5,102.8 172.4,102.9 171.3,103.0 170.2,103.0 170.6,101.4 171.1,99.8 169.8,99.9 168.6,100.0 167.4,100.0 166.1,100.1 164.9,100.2 163.6,100.2 162.4,100.3 161.1,100.3 159.9,100.4 158.7,100.4 157.4,100.5 156.2,100.5 154.9,100.5 153.7,100.6 152.4,100.6 151.2,100.6 149.9,100.6 148.7,100.7 148.7,99.1 148.7,97.5 148.6,96.0 148.6,94.5 148.6,93.0 148.6,91.5 148.6,90.1 148.6,88.6 148.6,87.1 148.6,85.6 148.6,84.1 147.8,82.9 147.1,81.6 147.0,80.3 146.8,79.1 146.0,78.8 145.1,78.5 144.4,77.5 143.7,76.6 143.3,75.7Z"/>
<path fill="#38a800" d="M148.7,100.7 149.9,100.6 151.2,100.6 152.4,100.6 153.7,100.6 154.9,100.5 156.2,100.5 157.4,100.5 158.7,100.4 159.9,100.4 161.1,100.3 162.4,100.3 163.6,100.2 164.9,100.2 166.1,100.1 167.4,100.0 168.6,100.0 169.8,99.9 171.1,99.8 170.6,101.4 170.2,103.0 171.3,103.0 172.4,102.9 173.5,102.8 173.1,104.1 172.7,105.4 172.2,106.4 171.8,107.4 171.3,108.4 170.9,109.4 170.5,110.7 170.0,112.0 169.6,113.3 168.6,114.4 167.6,115.5 166.7,116.6 167.0,117.8 167.3,119.1 167.2,120.6 167.1,122.1 165.9,122.2 164.6,122.3 163.4,122.3 162.1,122.4 160.9,122.4 159.6,122.5 158.3,122.5 157.1,122.6 155.8,122.6 154.6,122.6 153.3,122.7 152.1,122.7 152.0,121.6 152.0,120.4 152.0,119.3 150.8,119.1 149.7,118.8 149.7,117.2 149.7,115.6 149.7,114.0 149.7,112.4 149.7,110.9 149.8,109.3 149.8,107.7 149.6,106.3 149.3,104.9 149.1,103.5 148.9,102.1Z"/>
<path fill="#78cd00" d="M152.1,122.7 153.3,122.7 154.6,122.6 155.8,122.6 157.1,122.6 158.3,122.5 159.6,122.5 160.9,122.4 162.1,122.4 163.4,122.3 164.6,122.3 165.9,122.2 167.1,122.1 167.6,123.5 168.1,124.8 167.9,125.7 167.7,126.7 167.2,128.0 166.8,129.3 166.3,130.9 165.8,132.5 165.5,133.7 165.2,135.0 166.5,135.0 167.8,134.9 169.1,134.8 170.3,134.8 171.6,134.7 172.9,134.6 174.2,134.5 175.5,134.5 175.9,135.7 176.3,136.9 176.6,138.2 176.9,139.4 176.0,140.1 176.8,140.4 177.7,140.6 178.2,141.9 178.7,143.1 179.4,144.3 180.2,145.5 179.2,146.2 178.1,146.9 176.9,146.0 175.8,145.2 174.7,145.9 173.7,146.6 172.6,146.6 171.5,146.7 170.4,146.7 169.0,146.2 167.6,145.6 166.2,145.1 164.8,144.5 163.4,144.4 162.0,144.3 160.8,144.0 159.5,143.7 158.3,143.3 157.0,143.0 155.9,143.2 154.7,143.4 153.6,143.6 153.8,142.4 154.0,141.1 154.2,139.8 154.5,138.3 154.7,136.9 154.9,135.4 154.5,134.1 154.0,132.9 153.5,131.6 152.8,130.4 152.2,129.1 152.2,127.8 152.1,126.6 152.1,125.3 152.1,124.0Z"/>
<path fill="#78cd00" d="M166.5,61.9 165.5,61.2 164.5,60.4 164.1,59.4 163.7,58.3 163.6,57.0 163.5,55.7 163.3,54.6 163.0,53.6 162.1,52.8 161.2,52.0 160.2,51.2 159.3,50.4 158.4,49.7 157.2,48.9 156.1,48.2 156.2,47.0 156.2,45.9 155.9,44.7 155.5,43.4 156.3,42.2 157.2,40.9 158.0,39.6 157.9,38.4 157.9,37.3 157.8,36.1 158.7,35.5 159.7,35.2 160.6,34.9 161.6,34.6 162.5,34.4 163.4,34.5 164.3,34.6 165.2,35.4 166.1,36.2 166.8,37.0 167.5,37.8 168.5,38.0 169.4,38.1 170.4,38.2 171.4,38.3 172.4,38.5 173.4,38.7 174.4,38.9 175.4,39.2 176.4,39.4 176.9,40.5 177.4,41.6 178.0,42.7 178.5,43.7 179.0,44.6 178.7,45.5 178.3,46.5 177.8,47.5 177.4,48.5 178.0,47.8 178.6,47.1 179.3,46.4 180.0,45.6 181.0,44.2 182.0,42.7 181.5,43.9 181.1,45.0 180.3,46.7 180.1,47.6 179.8,48.6 179.6,49.7 179.4,50.9 179.3,52.0 179.3,53.1 179.2,54.6 179.0,56.1 178.8,57.6 179.1,58.7 179.3,59.9 179.6,61.0 178.5,61.1 177.4,61.2 176.3,61.3 175.2,61.3 174.1,61.4 173.0,61.5 171.9,61.6 170.9,61.7 169.8,61.7 168.7,61.8 167.6,61.9Z"/>
<path fill="#38a800" d="M166.5,61.9 167.6,61.9 168.7,61.8 169.8,61.7 170.9,61.7 171.9,61.6 173.0,61.5 174.1,61.4 175.2,61.3 176.3,61.3 177.4,61.2 178.5,61.1 179.6,61.0 180.0,62.5 180.5,64.1 180.9,65.0 181.2,65.9 181.4,67.4 181.5,68.9 181.6,70.4 181.8,71.9 181.9,73.4 182.0,74.8 182.2,76.3 182.3,77.8 182.4,79.3 182.6,80.8 182.4,82.4 182.7,83.6 183.1,84.9 182.2,86.2 181.4,87.6 181.2,89.2 181.0,90.8 180.5,91.5 179.8,92.6 179.0,93.7 178.8,94.7 178.5,95.6 177.3,96.1 176.1,96.6 175.9,96.3 174.9,95.4 174.0,94.5 173.4,93.1 172.8,91.7 171.8,90.9 170.7,90.0 169.7,89.1 169.9,87.8 170.0,86.5 170.0,85.6 169.9,84.6 168.7,84.0 167.4,83.5 166.1,82.0 164.8,80.4 164.1,79.2 163.3,78.0 163.4,76.8 163.5,75.5 164.3,74.5 165.0,73.4 165.1,71.8 165.3,70.2 166.2,69.2 167.0,68.2 167.9,67.2 168.8,66.2 168.5,65.0 168.2,63.7 167.3,62.8Z"/>
<path fill="#38a800" d="M184.5,65.3 185.6,65.2 186.6,65.1 187.6,65.1 188.7,65.0 189.7,64.9 190.8,64.9 191.8,64.8 192.9,64.7 193.9,64.6 194.9,64.5 196.0,64.3 197.0,64.2 198.1,64.0 199.1,63.8 200.1,63.7 200.6,62.6 201.0,61.5 201.2,60.6 201.5,59.6 202.2,59.0 203.0,58.3 203.7,57.6 203.7,56.3 203.7,55.0 203.4,53.8 203.0,52.6 202.6,51.4 202.0,49.9 201.1,49.3 200.2,48.8 199.4,49.6 198.6,50.3 197.6,51.3 196.6,52.2 197.0,50.7 197.4,49.3 197.8,47.9 198.1,46.4 198.3,44.9 197.9,43.9 197.5,42.8 196.5,41.8 195.5,40.7 194.5,40.4 193.5,40.0 192.4,39.7 191.8,39.3 191.2,39.0 190.4,39.2 189.6,39.4 189.9,40.4 190.3,41.5 189.7,41.9 189.0,42.3 188.4,42.7 187.7,43.1 187.8,44.2 188.0,45.2 187.0,45.2 186.0,45.1 185.7,46.1 185.3,47.1 185.2,48.5 185.0,49.9 184.8,51.3 185.2,52.8 185.6,54.3 186.0,55.8 186.3,57.1 186.7,58.5 186.7,59.7 186.6,61.0 186.3,62.0 185.9,63.0 185.2,64.1ZM166.1,36.2 166.8,37.0 167.5,37.8 168.5,38.0 169.4,38.1 170.4,38.2 171.4,38.3 172.4,38.5 173.4,38.7 174.4,38.9 175.4,39.2 176.4,39.4 176.9,40.5 177.4,41.6 178.0,42.7 178.5,43.7 179.0,44.6 179.7,43.1 180.4,41.7 181.1,40.3 182.1,40.6 183.1,41.0 183.8,39.8 184.4,38.7 185.5,38.4 186.6,38.2 187.7,38.0 188.8,38.2 189.9,38.3 191.0,38.4 192.1,38.0 193.2,37.6 194.2,37.2 195.0,36.8 195.9,36.4 194.7,35.7 193.5,35.0 192.3,34.3 191.3,34.7 190.4,33.8 189.5,32.9 188.6,33.2 187.8,33.4 186.9,33.6 186.0,33.8 185.2,34.0 184.2,34.7 183.3,35.3 182.4,35.9 181.3,35.7 180.3,35.6 179.2,35.4 178.4,34.6 177.6,33.8 176.5,33.5 175.4,33.2 176.2,31.6 176.7,30.0 175.9,30.6 175.1,31.3 174.4,31.9 173.6,32.4 172.7,32.9 171.7,33.5 170.7,34.1 169.8,34.5 168.9,34.9 168.0,35.4 167.0,35.8Z"/>
<path fill="#38a800" d="M181.2,65.9 182.3,65.7 183.4,65.5 184.5,65.3 185.6,65.2 186.6,65.1 187.6,65.1 188.7,65.0 189.7,64.9 190.8,64.9 191.8,64.8 192.9,64.7 193.9,64.6 194.1,66.1 194.2,67.6 194.4,69.1 194.6,70.6 194.7,72.1 194.9,73.6 195.1,75.1 195.2,76.6 195.4,78.0 195.6,79.5 195.7,81.0 195.4,82.2 195.1,83.3 194.2,83.5 193.2,83.7 192.5,85.2 191.8,86.8 191.3,87.7 190.8,88.6 189.6,88.9 188.4,89.2 187.5,89.7 186.5,90.1 185.6,90.6 184.4,90.1 183.3,89.7 182.1,90.2 181.0,90.8 181.2,89.2 181.4,87.6 182.2,86.2 183.1,84.9 182.7,83.6 182.4,82.4 182.6,80.8 182.4,79.3 182.3,77.8 182.2,76.3 182.0,74.8 181.9,73.4 181.8,71.9 181.6,70.4 181.5,68.9 181.4,67.4Z"/>
<path fill="#78cd00" d="M193.9,64.6 194.9,64.5 196.0,64.3 197.0,64.2 198.1,64.0 199.1,63.8 200.1,63.7 201.2,63.9 202.3,64.2 203.1,64.6 203.8,64.9 204.9,64.7 206.0,64.4 207.0,64.2 207.7,64.1 208.4,64.0 209.4,63.1 210.4,62.2 211.3,61.3 212.3,60.7 213.4,60.1 213.6,61.5 213.8,62.9 214.1,64.3 214.3,65.7 214.5,67.1 214.8,68.5 214.6,70.0 214.6,71.3 214.6,72.6 214.4,73.6 214.2,74.6 213.5,75.7 212.8,76.8 211.7,77.6 210.6,78.4 210.3,79.7 209.7,80.5 209.1,81.2 208.8,82.5 207.9,83.2 207.0,83.9 205.9,83.1 204.8,82.2 203.7,82.6 202.6,83.0 201.5,83.3 200.7,82.9 199.9,82.4 198.6,81.6 197.3,80.8 196.5,80.9 195.7,81.0 195.6,79.5 195.4,78.0 195.2,76.6 195.1,75.1 194.9,73.6 194.7,72.1 194.6,70.6 194.4,69.1 194.2,67.6 194.1,66.1Z"/>
<path fill="#38a800" d="M174.8,99.6 175.8,98.9 176.0,97.7 176.1,96.6 177.3,96.1 178.5,95.6 178.8,94.7 179.0,93.7 179.8,92.6 180.5,91.5 181.0,90.8 182.1,90.2 183.3,89.7 184.4,90.1 185.6,90.6 186.5,90.1 187.5,89.7 188.4,89.2 189.6,88.9 190.8,88.6 191.3,87.7 191.8,86.8 192.5,85.2 193.2,83.7 194.2,83.5 195.1,83.3 195.4,82.2 195.7,81.0 196.5,80.9 197.3,80.8 198.6,81.6 199.9,82.4 200.7,82.9 201.5,83.3 202.6,83.0 203.7,82.6 204.8,82.2 205.9,83.1 207.0,83.9 207.2,85.5 208.4,86.7 209.6,87.9 210.9,89.0 209.9,90.1 209.0,91.1 207.9,92.2 206.8,93.2 205.9,93.9 205.0,94.7 204.2,95.4 203.3,96.1 202.1,96.2 201.0,96.4 199.8,96.5 198.6,96.6 197.5,96.7 196.3,96.8 195.2,96.9 194.0,97.1 192.9,97.2 191.7,97.3 190.6,97.4 189.4,97.4 188.3,97.5 187.2,97.6 186.0,97.7 184.9,97.7 183.8,97.8 182.6,97.9 181.5,97.9 181.6,99.1 180.5,99.1 179.3,99.2 178.2,99.3 177.1,99.4 176.0,99.5Z"/>
<path fill="#d1ed00" d="M170.9,109.4 171.3,108.4 171.8,107.4 172.2,106.4 172.7,105.4 173.1,104.1 173.5,102.8 173.9,101.9 174.2,100.9 174.8,99.6 176.0,99.5 177.1,99.4 178.2,99.3 179.3,99.2 180.5,99.1 181.6,99.1 181.5,97.9 182.6,97.9 183.8,97.8 184.9,97.7 186.0,97.7 187.2,97.6 188.3,97.5 189.4,97.4 190.6,97.4 191.7,97.3 192.9,97.2 194.0,97.1 195.2,96.9 196.3,96.8 197.5,96.7 198.6,96.6 199.8,96.5 201.0,96.4 202.1,96.2 203.3,96.1 204.5,95.9 205.7,95.8 207.0,95.6 208.2,95.5 209.5,95.3 210.7,95.1 211.9,94.9 213.2,94.8 212.6,96.3 212.0,97.8 211.1,98.3 210.1,98.9 209.2,99.5 208.0,100.3 206.9,101.1 205.9,101.8 205.0,102.5 203.8,102.9 202.6,103.2 201.9,104.1 201.2,105.0 201.3,105.8 201.3,106.7 200.3,106.8 199.2,106.9 198.1,107.0 197.0,107.1 195.9,107.2 194.8,107.3 193.6,107.5 192.4,107.6 191.2,107.7 190.0,107.8 188.8,108.0 187.6,108.1 186.4,108.2 185.2,108.3 184.0,108.4 182.8,108.5 181.6,108.6 180.4,108.7 179.2,108.8 178.0,108.9 176.8,109.0 175.7,109.1 174.5,109.1 173.3,109.2 172.1,109.3Z"/>
<path fill="#38a800" d="M170.9,109.4 172.1,109.3 173.3,109.2 174.5,109.1 175.7,109.1 176.8,109.0 178.0,108.9 179.2,108.8 180.4,108.7 181.6,108.6 181.6,110.1 181.6,111.7 181.7,113.2 181.7,114.7 181.7,116.2 181.7,117.7 181.7,119.3 181.7,120.8 181.7,122.3 181.7,123.8 181.8,125.3 181.8,126.8 181.8,128.4 182.0,129.9 182.1,131.5 182.3,133.0 182.5,134.6 182.7,136.2 182.9,137.7 181.8,137.8 180.7,137.9 179.7,138.0 178.7,138.4 177.8,138.9 176.9,139.4 176.6,138.2 176.3,136.9 175.9,135.7 175.5,134.5 174.2,134.5 172.9,134.6 171.6,134.7 170.3,134.8 169.1,134.8 167.8,134.9 166.5,135.0 165.2,135.0 165.5,133.7 165.8,132.5 166.3,130.9 166.8,129.3 167.2,128.0 167.7,126.7 167.9,125.7 168.1,124.8 167.6,123.5 167.1,122.1 167.2,120.6 167.3,119.1 167.0,117.8 166.7,116.6 167.6,115.5 168.6,114.4 169.6,113.3 170.0,112.0 170.5,110.7Z"/>
<path fill="#78cd00" d="M181.6,108.6 182.8,108.5 184.0,108.4 185.2,108.3 186.4,108.2 187.6,108.1 188.8,108.0 190.0,107.8 191.2,107.7 192.4,107.6 193.6,107.5 194.8,107.3 195.2,108.8 195.6,110.3 196.0,111.7 196.4,113.2 196.8,114.7 197.3,116.1 197.7,117.6 198.1,119.1 198.5,120.5 199.1,121.6 199.7,122.7 199.9,124.3 200.1,125.9 200.0,127.5 199.9,129.1 200.3,130.6 200.8,132.2 199.5,132.3 198.3,132.4 197.0,132.6 195.7,132.7 194.5,132.8 193.2,133.0 191.9,133.1 190.7,133.2 189.4,133.3 188.1,133.5 186.9,133.6 187.2,135.0 187.5,136.5 187.8,137.9 186.7,138.2 185.7,138.4 185.3,137.0 184.9,135.6 184.7,136.8 184.5,137.9 183.7,137.8 182.9,137.7 182.7,136.2 182.5,134.6 182.3,133.0 182.1,131.5 182.0,129.9 181.8,128.4 181.8,126.8 181.8,125.3 181.7,123.8 181.7,122.3 181.7,120.8 181.7,119.3 181.7,117.7 181.7,116.2 181.7,114.7 181.7,113.2 181.6,111.7 181.6,110.1Z"/>
<path fill="#d1ed00" d="M194.8,107.3 195.9,107.2 197.0,107.1 198.1,107.0 199.2,106.9 200.3,106.8 201.3,106.7 202.6,106.5 203.8,106.3 205.0,106.1 206.3,106.0 207.5,105.8 207.0,106.8 206.5,107.8 207.5,108.3 208.5,108.8 209.6,109.3 210.5,110.5 211.4,111.6 212.6,112.6 213.8,113.5 214.9,114.8 216.0,116.1 216.8,117.3 217.6,118.4 218.4,119.6 219.5,120.6 220.5,121.6 221.6,122.6 221.2,124.1 220.7,125.6 220.3,127.3 219.9,128.9 219.9,130.2 220.0,131.5 219.0,132.1 218.0,132.6 217.0,133.2 216.1,132.9 214.8,133.0 213.5,133.1 212.2,133.2 210.9,133.3 209.6,133.4 208.3,133.5 207.0,133.6 205.7,133.7 204.4,133.8 203.1,133.9 201.8,133.9 201.3,133.1 200.8,132.2 200.3,130.6 199.9,129.1 200.0,127.5 200.1,125.9 199.9,124.3 199.7,122.7 199.1,121.6 198.5,120.5 198.1,119.1 197.7,117.6 197.3,116.1 196.8,114.7 196.4,113.2 196.0,111.7 195.6,110.3 195.2,108.8Z"/>
<path fill="#ffcc00" d="M186.9,133.6 188.1,133.5 189.4,133.3 190.7,133.2 191.9,133.1 193.2,133.0 194.5,132.8 195.7,132.7 197.0,132.6 198.3,132.4 199.5,132.3 200.8,132.2 201.3,133.1 201.8,133.9 203.1,133.9 204.4,133.8 205.7,133.7 207.0,133.6 208.3,133.5 209.6,133.4 210.9,133.3 212.2,133.2 213.5,133.1 214.8,133.0 216.1,132.9 217.0,133.2 218.0,132.6 219.0,132.1 220.0,131.5 220.5,132.9 221.0,134.3 221.5,135.7 222.1,136.9 222.7,138.1 223.3,139.3 223.9,140.4 224.8,141.8 225.8,143.1 226.8,144.4 227.1,146.0 227.5,147.5 228.4,148.9 229.3,150.4 230.2,151.8 231.0,153.2 231.4,154.8 231.8,156.3 232.0,157.7 232.1,159.2 232.3,160.6 231.8,162.3 231.4,163.9 230.5,164.6 229.6,165.2 228.4,165.5 227.3,165.7 226.6,164.3 226.0,162.9 224.6,162.2 223.2,161.5 222.4,160.0 221.6,158.5 220.5,157.4 219.5,156.3 218.6,155.2 217.7,154.1 216.8,152.9 216.0,151.5 215.2,150.0 215.3,148.7 215.4,147.4 215.5,146.1 215.2,144.9 214.9,143.7 213.7,142.9 212.5,142.1 211.4,141.0 210.3,139.9 209.2,138.7 207.8,138.0 206.3,137.2 205.5,137.6 204.8,138.0 203.8,138.9 202.8,139.8 201.8,140.6 200.8,140.6 199.8,140.5 199.6,139.6 199.4,138.7 198.2,138.1 197.0,137.4 195.9,136.8 194.5,136.8 193.1,136.8 191.8,137.1 190.5,137.4 189.1,137.6 187.8,137.9 187.5,136.5 187.2,135.0Z"/>
<path fill="#d1ed00" d="M231.8,109.3 230.3,108.1 228.7,106.9 227.5,106.1 226.2,105.2 224.9,104.4 223.8,104.6 222.7,104.7 221.6,104.9 220.4,105.0 219.3,105.2 219.1,104.3 218.8,103.5 217.7,103.3 216.5,103.5 215.2,103.6 213.9,103.7 212.6,103.8 211.4,104.0 210.4,104.4 209.4,104.9 208.5,105.3 207.5,105.8 207.0,106.8 206.5,107.8 207.5,108.3 208.5,108.8 209.6,109.3 210.5,110.5 211.4,111.6 212.6,112.6 213.8,113.5 214.9,114.8 216.0,116.1 216.8,117.3 217.6,118.4 218.4,119.6 219.5,120.6 220.5,121.6 221.6,122.6 222.2,121.7 222.9,120.8 224.0,119.8 225.1,118.7 226.1,117.7 227.3,116.5 228.4,115.4 228.7,114.3 229.1,113.3 230.0,112.0 230.9,110.6Z"/>
<path fill="#d1ed00" d="M201.3,106.7 201.3,105.8 201.2,105.0 201.9,104.1 202.6,103.2 203.8,102.9 205.0,102.5 205.9,101.8 206.9,101.1 208.0,100.3 209.2,99.5 210.1,98.9 211.1,98.3 212.0,97.8 212.6,96.3 213.2,94.8 214.4,94.6 215.6,94.4 216.8,94.2 218.0,94.1 219.2,93.9 220.4,93.7 221.6,93.5 222.8,93.3 224.0,93.1 225.2,92.9 226.4,92.7 227.5,92.5 228.7,92.3 229.9,92.1 231.1,91.9 232.3,91.6 233.5,91.4 234.7,91.2 235.9,91.0 237.1,90.7 238.3,90.5 239.5,90.3 240.6,90.0 241.8,89.8 241.9,90.9 241.9,92.1 242.6,93.0 243.4,94.0 242.4,95.5 241.7,96.5 241.0,97.4 242.1,98.8 241.2,99.7 240.3,100.5 240.1,101.8 239.1,102.4 238.2,102.9 237.3,103.8 236.5,104.7 235.6,105.6 235.2,107.2 234.9,108.7 233.8,108.9 232.8,109.1 231.8,109.3 230.3,108.1 228.7,106.9 227.5,106.1 226.2,105.2 224.9,104.4 223.8,104.6 222.7,104.7 221.6,104.9 220.4,105.0 219.3,105.2 219.1,104.3 218.8,103.5 217.7,103.3 216.5,103.5 215.2,103.6 213.9,103.7 212.6,103.8 211.4,104.0 210.4,104.4 209.4,104.9 208.5,105.3 207.5,105.8 206.3,106.0 205.0,106.1 203.8,106.3 202.6,106.5Z"/>
<path fill="#78cd00" d="M203.3,96.1 204.5,95.9 205.7,95.8 207.0,95.6 208.2,95.5 209.5,95.3 210.7,95.1 211.9,94.9 213.2,94.8 214.4,94.6 215.6,94.4 216.8,94.2 218.0,94.1 219.2,93.9 220.4,93.7 221.6,93.5 222.8,93.3 224.0,93.1 225.2,92.9 226.4,92.7 227.5,92.5 228.7,92.3 229.9,92.1 231.1,91.9 232.3,91.6 233.5,91.4 234.7,91.2 235.9,91.0 237.1,90.7 238.3,90.5 239.5,90.3 240.6,90.0 241.8,89.8 241.4,88.7 241.0,87.7 240.1,87.7 239.2,87.8 238.4,86.3 238.4,85.2 238.4,84.0 238.2,82.9 238.0,81.8 237.8,80.9 237.0,80.8 236.2,80.6 235.1,80.3 234.1,80.0 232.6,78.7 232.9,77.7 233.2,76.7 232.3,76.2 231.5,75.7 230.7,75.2 229.4,74.4 229.2,75.5 228.4,76.0 227.6,76.5 226.8,76.9 225.8,78.1 225.2,79.2 224.7,80.2 223.8,80.9 222.9,81.5 222.1,81.8 221.3,82.1 221.1,83.3 221.0,84.4 220.1,85.9 219.2,87.3 219.1,88.3 218.2,88.7 217.4,89.0 216.5,89.4 215.7,89.8 214.9,90.3 214.0,90.6 213.0,90.9 211.9,89.9 210.9,89.0 209.9,90.1 209.0,91.1 207.9,92.2 206.8,93.2 205.9,93.9 205.0,94.7 204.2,95.4ZM241.0,80.9 241.9,80.4 242.8,79.9 242.4,81.2 242.0,82.4 241.6,83.7 241.1,84.9 240.5,86.2 240.5,84.7 240.5,83.2 240.8,82.1Z"/>
<path fill="#38a800" d="M214.8,68.5 215.0,69.9 215.2,71.4 215.5,72.8 215.7,74.2 216.7,74.1 217.7,73.9 218.7,73.7 219.6,73.6 220.6,73.4 220.8,74.5 221.0,75.6 221.2,76.7 222.2,75.7 223.2,74.7 224.0,73.6 225.0,73.3 226.1,73.0 227.0,73.3 227.9,73.5 228.6,73.9 229.4,74.4 229.2,75.5 228.4,76.0 227.6,76.5 226.8,76.9 225.8,78.1 225.2,79.2 224.7,80.2 223.8,80.9 222.9,81.5 222.1,81.8 221.3,82.1 221.1,83.3 221.0,84.4 220.1,85.9 219.2,87.3 219.1,88.3 218.2,88.7 217.4,89.0 216.5,89.4 215.7,89.8 214.9,90.3 214.0,90.6 213.0,90.9 211.9,89.9 210.9,89.0 209.6,87.9 208.4,86.7 207.2,85.5 207.0,83.9 207.9,83.2 208.8,82.5 209.1,81.2 209.7,80.5 210.3,79.7 210.6,78.4 211.7,77.6 212.8,76.8 213.5,75.7 214.2,74.6 214.4,73.6 214.6,72.6 214.6,71.3 214.6,70.0Z"/>
<path fill="#d1ed00" d="M213.4,60.1 214.3,59.4 215.1,58.7 215.8,58.2 216.6,57.7 216.7,58.5 216.8,59.4 218.0,59.2 219.1,59.0 220.2,58.8 221.3,58.6 222.4,58.4 223.5,58.2 224.7,58.0 225.8,57.7 226.9,57.5 228.0,57.3 229.1,57.1 230.2,56.9 231.3,56.6 232.4,56.4 233.6,56.2 234.7,55.9 235.8,55.7 236.9,55.5 237.6,55.9 238.3,56.4 238.8,57.3 239.2,58.2 240.0,58.5 240.8,58.8 240.2,60.4 239.6,62.0 239.6,63.0 239.5,64.0 240.5,65.0 241.4,65.7 242.2,66.3 241.6,67.1 240.9,67.9 240.3,68.5 239.7,69.1 238.8,69.6 238.0,70.0 236.8,70.3 235.7,70.5 234.5,70.8 233.4,71.0 232.2,71.2 231.1,71.5 229.9,71.7 228.7,71.9 227.6,72.1 226.4,72.4 225.3,72.6 224.1,72.8 222.9,73.0 221.8,73.2 220.6,73.4 219.6,73.6 218.7,73.7 217.7,73.9 216.7,74.1 215.7,74.2 215.5,72.8 215.2,71.4 215.0,69.9 214.8,68.5 214.5,67.1 214.3,65.7 214.1,64.3 213.8,62.9 213.6,61.5Z"/>
<path fill="#38a800" d="M216.6,57.7 217.3,56.8 218.0,55.9 218.7,55.0 219.5,54.1 219.8,53.1 219.2,52.0 218.7,51.0 219.5,50.6 220.2,50.2 221.0,49.8 222.1,49.8 223.1,49.8 224.1,49.8 225.2,49.8 226.1,49.5 226.9,49.3 227.8,49.0 228.7,48.8 229.7,47.9 230.7,47.1 230.6,45.6 230.5,44.2 229.8,42.7 230.7,41.7 231.6,40.7 232.5,39.3 233.3,37.8 234.1,37.3 234.9,36.8 235.7,36.3 236.7,36.1 237.6,35.8 238.6,35.6 239.6,35.3 240.6,35.1 241.5,34.8 241.8,36.1 242.1,37.4 242.3,38.6 242.6,39.9 242.8,41.1 243.3,42.3 243.8,43.5 244.1,43.7 244.4,44.9 244.7,46.2 244.9,47.4 245.2,48.6 245.2,50.2 245.2,51.7 245.2,53.2 245.6,54.7 245.9,56.1 246.3,57.6 246.6,59.1 246.1,59.9 245.4,61.0 244.9,60.1 243.8,59.8 242.8,59.5 241.8,59.1 240.8,58.8 240.0,58.5 239.2,58.2 238.8,57.3 238.3,56.4 237.6,55.9 236.9,55.5 235.8,55.7 234.7,55.9 233.6,56.2 232.4,56.4 231.3,56.6 230.2,56.9 229.1,57.1 228.0,57.3 226.9,57.5 225.8,57.7 224.7,58.0 223.5,58.2 222.4,58.4 221.3,58.6 220.2,58.8 219.1,59.0 218.0,59.2 216.8,59.4 216.7,58.5ZM245.1,62.8 245.6,62.8 246.6,62.3 247.6,61.9 248.5,61.4 249.5,61.0 250.5,60.1 251.5,59.3 252.5,58.4 253.5,57.5 252.6,57.8 251.7,58.1 250.9,58.6 250.0,59.0 249.2,59.4 248.1,59.9 247.1,60.4 246.1,60.8 245.2,62.0Z"/>
<path fill="#38a800" d="M250.8,30.6 251.9,30.8 252.3,29.2 252.7,27.6 253.1,26.1 253.1,24.8 253.1,23.5 253.1,22.2 253.0,20.9 253.5,19.5 254.0,18.1 254.5,16.8 254.9,15.4 255.9,15.3 256.9,15.2 257.9,15.0 258.9,14.9 260.2,15.4 261.5,16.0 261.9,17.3 262.4,18.6 262.8,20.0 263.2,21.3 263.6,22.7 264.6,23.5 265.7,24.3 266.8,25.7 267.9,27.0 269.0,28.3 268.2,29.6 267.5,31.0 266.7,31.6 266.0,32.2 265.2,32.7 264.4,33.3 263.2,33.2 262.0,33.0 261.3,34.4 260.7,35.8 260.0,37.2 259.1,38.1 258.3,39.0 257.4,39.9 257.0,41.2 256.5,42.4 256.1,43.7 255.3,42.5 254.4,41.1 253.6,39.6 253.2,38.2 252.9,36.8 252.5,35.4 252.1,34.2 251.7,33.0 251.2,31.8Z"/>
<path fill="#d1ed00" d="M249.5,32.8 250.1,31.7 250.8,30.6 251.2,31.8 251.7,33.0 252.1,34.2 252.5,35.4 252.9,36.8 253.2,38.2 253.6,39.6 254.4,41.1 255.3,42.5 256.1,43.7 256.0,45.1 255.0,45.9 254.1,46.7 253.0,47.0 252.0,47.2 250.9,47.4 249.9,47.6 248.9,47.9 248.6,46.4 248.4,44.9 248.2,43.3 248.1,41.7 248.1,40.4 248.2,39.1 248.2,37.8 249.0,36.9 249.9,36.1 249.7,35.0 249.6,33.9Z"/>
<path fill="#38a800" d="M241.5,34.8 242.5,34.6 243.5,34.4 244.5,34.1 245.5,33.9 246.5,33.6 247.5,33.4 248.5,33.1 249.5,32.8 249.6,33.9 249.7,35.0 249.9,36.1 249.0,36.9 248.2,37.8 248.2,39.1 248.1,40.4 248.1,41.7 248.2,43.3 248.4,44.9 248.6,46.4 248.9,47.9 248.0,48.1 247.0,48.3 246.1,48.5 245.2,48.6 244.9,47.4 244.7,46.2 244.4,44.9 244.1,43.7 243.8,43.5 243.3,42.3 242.8,41.1 242.6,39.9 242.3,38.6 242.1,37.4 241.8,36.1Z"/>
<path fill="#ff0000" d="M245.2,53.2 245.2,51.7 245.2,50.2 245.2,48.6 246.1,48.5 247.0,48.3 248.0,48.1 248.9,47.9 249.9,47.6 250.9,47.4 252.0,47.2 253.0,47.0 254.1,46.7 255.0,45.9 256.0,45.1 257.3,46.2 256.7,47.5 256.1,48.8 257.1,49.7 258.2,50.5 259.0,51.5 259.8,51.3 260.6,51.1 261.5,50.9 261.1,50.1 260.7,49.2 261.3,50.3 261.8,51.4 261.1,51.8 260.3,52.3 259.5,52.8 258.6,52.9 257.7,53.0 256.8,53.9 256.1,52.7 255.5,51.9 254.8,51.0 253.9,51.3 252.9,51.5 251.8,51.8 250.7,52.0 249.6,52.3 248.5,52.5 247.4,52.7 246.3,53.0Z"/>
<path fill="#ff6600" d="M245.2,53.2 246.3,53.0 247.4,52.7 248.5,52.5 249.6,52.3 250.7,52.0 251.8,51.8 252.9,51.5 253.2,53.0 253.5,54.4 253.8,55.8 252.9,56.2 251.9,56.5 250.9,56.9 249.9,57.4 248.8,57.9 247.9,58.5 247.0,59.2 246.1,59.9 246.6,59.1 246.3,57.6 245.9,56.1 245.6,54.7Z"/>
<path fill="#ff0000" d="M254.8,51.0 253.9,51.3 252.9,51.5 253.2,53.0 253.5,54.4 253.8,55.8 254.6,55.5 255.3,55.1 256.1,54.5 256.8,53.9 256.1,52.7 255.5,51.9Z"/>
<path fill="#ff0000" d="M240.8,58.8 241.8,59.1 242.8,59.5 243.8,59.8 244.9,60.1 244.9,61.1 244.9,62.1 244.1,63.6 245.4,63.9 245.5,65.2 245.7,66.5 245.8,68.1 245.0,69.7 244.1,71.4 243.6,72.7 243.0,74.0 241.8,73.0 240.6,71.9 239.3,70.5 239.7,69.1 240.3,68.5 240.9,67.9 241.6,67.1 242.2,66.3 241.4,65.7 240.5,65.0 239.5,64.0 239.6,63.0 239.6,62.0 240.2,60.4Z"/>
<path fill="#ff6600" d="M238.0,70.0 238.8,69.6 239.7,69.1 239.0,70.6 239.7,71.6 240.5,72.5 241.5,73.8 242.5,75.0 242.8,76.1 243.2,77.1 242.2,77.4 241.1,77.6 240.1,77.8 239.8,76.5 239.4,75.2 239.0,73.9 238.7,72.6 238.3,71.3Z"/>
<path fill="#d1ed00" d="M220.6,73.4 221.8,73.2 222.9,73.0 224.1,72.8 225.3,72.6 226.4,72.4 227.6,72.1 228.7,71.9 229.9,71.7 231.1,71.5 232.2,71.2 233.4,71.0 234.5,70.8 235.7,70.5 236.8,70.3 238.0,70.0 238.3,71.3 238.7,72.6 239.0,73.9 239.4,75.2 239.8,76.5 240.1,77.8 241.1,77.6 242.2,77.4 243.2,77.1 243.0,78.5 242.8,79.9 241.9,80.4 241.0,80.9 240.0,80.1 238.9,79.4 238.0,78.4 237.1,77.5 237.0,76.2 237.0,74.9 236.9,73.5 236.9,72.0 236.3,72.9 235.8,73.9 235.8,74.8 235.7,75.8 236.3,77.3 236.8,78.8 237.3,79.9 237.8,80.9 237.0,80.8 236.2,80.6 235.1,80.3 234.1,80.0 232.6,78.7 232.9,77.7 233.2,76.7 232.3,76.2 231.5,75.7 230.7,75.2 229.4,74.4 228.6,73.9 227.9,73.5 227.0,73.3 226.1,73.0 225.0,73.3 224.0,73.6 223.2,74.7 222.2,75.7 221.2,76.7 221.0,75.6 220.8,74.5Z"/>
<path fill="#bbb" d="M16.7,100.0 19.0,100.4 21.4,101.2 19.3,101.3 17.3,100.8Z"/>
<path fill="#bbb" d="M25.1,105.9 26.4,107.0 25.6,107.2Z"/>
<path fill="#bbb" d="M24.4,108.6 24.8,110.2 24.8,109.3Z"/>
<path fill="#bbb" d="M258.1,53.8 260.0,53.6 259.4,54.1Z"/>
<path fill="#bbb" d="M261.3,53.8 262.5,53.9 261.9,54.1Z"/>
</g>
<g fill="none" stroke="#777" stroke-width="0.6" stroke-linecap="round">
<path d="M231.4,164.2 230.3,166.3 228.3,168.1 225.5,169.2 223.8,169.8"/>
<path d="M241.8,89.8 242.9,91.8 244.5,94.1 245.6,97.4 244.3,98.5 242.8,100.0 241.5,102.2 239.9,102.3"/>
<path d="M170.5,27.9 173.8,25.6"/>
</g>
<g font-size="5.4" fill="#222" text-anchor="middle" fill-opacity="0.62">
<text x="41.1" y="20.3">WA</text>
<text x="31.0" y="40.9">OR</text>
<text x="56.4" y="44.3">ID</text>
<text x="84.6" y="31.7">MT</text>
<text x="89.2" y="58.2">WY</text>
<text x="42.7" y="73.7">NV</text>
<text x="23.2" y="83.9">CA</text>
<text x="66.9" y="78.3">UT</text>
<text x="95.5" y="84.5">CO</text>
<text x="61.5" y="110.3">AZ</text>
<text x="90.6" y="112.7">NM</text>
<text x="122.7" y="32.6">ND</text>
<text x="123.2" y="51.6">SD</text>
<text x="147.8" y="40.5">MN</text>
<text x="169.7" y="51.6">WI</text>
<text x="190.4" y="53.6">MI</text>
<text x="180.0" y="41.3">MI</text>
<text x="126.9" y="70.0">NE</text>
<text x="153.7" y="67.1">IA</text>
<text x="173.0" y="79.0">IL</text>
<text x="188.4" y="78.5">IN</text>
<text x="130.5" y="89.4">KS</text>
<text x="157.5" y="89.9">MO</text>
<text x="135.1" y="108.1">OK</text>
<text x="159.1" y="112.1">AR</text>
<text x="188.8" y="104.1">TN</text>
<text x="175.1" y="123.2">MS</text>
<text x="189.0" y="122.7">AL</text>
<text x="160.6" y="135.8">LA</text>
<text x="123.4" y="133.6">TX</text>
<text x="238.3" y="51.5">NY</text>
<text x="226.8" y="66.4">PA</text>
<text x="204.4" y="74.0">OH</text>
<text x="259.0" y="28.2">ME</text>
<text x="252.3" y="50.5">MA</text>
<text x="228.4" y="88.5">VA</text>
<text x="225.5" y="100.7">NC</text>
<text x="198.4" y="92.5">KY</text>
<text x="215.0" y="83.2">WV</text>
<text x="221.7" y="112.7">SC</text>
<text x="209.5" y="122.5">GA</text>
<text x="220.4" y="146.2">FL</text>
<text x="246.6" y="42.7">VT</text>
<text x="251.4" y="42.6">NH</text>
<text x="249.9" y="57.7">CT</text>
<text x="256.0" y="57.1">RI</text>
</g>
<text x="8.6" y="142.5" font-size="9.1" transform="matrix(1 0 0 1.07 0 -9.975)" fill="#1a1a1a" stroke="#1a1a1a" stroke-width="0.15">% of ag lands</text>
<g font-size="8.5" fill="#1a1a1a" stroke="#1a1a1a" stroke-width="0.15" text-anchor="middle">
<text x="26.0" y="151.6" transform="matrix(1 0 0 1.07 0 -10.612)">1.0</text>
<text x="54.6" y="151.6" transform="matrix(1 0 0 1.07 0 -10.612)">3.0</text>
<text x="83.6" y="151.6" transform="matrix(1 0 0 1.07 0 -10.612)">7.0</text>
<text x="10.1" y="168.9" transform="matrix(1 0 0 1.07 0 -11.823)">0</text>
<text x="40.2" y="168.9" transform="matrix(1 0 0 1.07 0 -11.823)">1.5</text>
<text x="69.0" y="168.9" transform="matrix(1 0 0 1.07 0 -11.823)">5.0</text>
<text x="97.8" y="168.9" transform="matrix(1 0 0 1.07 0 -11.823)">9.0</text>
</g>
<rect x="9.90" y="154.1" width="14.85" height="5.7" fill="#38a800" stroke="#707070" stroke-width="0.4"/>
<rect x="24.75" y="154.1" width="14.85" height="5.7" fill="#78cd00" stroke="#707070" stroke-width="0.4"/>
<rect x="39.60" y="154.1" width="14.85" height="5.7" fill="#d1ed00" stroke="#707070" stroke-width="0.4"/>
<rect x="54.45" y="154.1" width="14.85" height="5.7" fill="#ffcc00" stroke="#707070" stroke-width="0.4"/>
<rect x="69.30" y="154.1" width="14.85" height="5.7" fill="#ff6600" stroke="#707070" stroke-width="0.4"/>
<rect x="84.15" y="154.1" width="14.85" height="5.7" fill="#ff0000" stroke="#707070" stroke-width="0.4"/>
<text x="138.9" y="186.0" font-size="10.4" letter-spacing="0.3" fill="#1e1e1e" stroke="#1e1e1e" stroke-width="0.18" text-anchor="middle">(c) Pct of ag land conversion to UHD</text>
</g>
<g transform="translate(273.4,193.5)">
<rect x="5.6" y="3.9" width="266.5" height="166.9" fill="#fff" stroke="#3a3a3a" stroke-width="1.3"/>
<g stroke="#6e6e6e" stroke-width="0.45" stroke-linejoin="round">
<path fill="#78cd00" d="M31.4,6.1 32.4,6.4 33.4,6.6 34.4,6.9 35.4,7.2 36.4,7.5 37.4,7.8 38.4,8.0 39.5,8.3 40.5,8.6 41.5,8.8 42.5,9.1 43.5,9.4 44.5,9.6 45.5,9.9 46.5,10.1 47.5,10.4 48.5,10.6 49.5,10.9 50.5,11.1 51.6,11.3 52.6,11.6 53.6,11.8 54.6,12.0 54.3,13.5 53.9,14.9 53.6,16.3 53.3,17.7 53.0,19.2 52.7,20.6 52.3,22.0 52.0,23.5 51.7,24.9 51.4,26.3 51.0,27.8 51.0,29.1 51.0,30.4 50.0,30.2 49.0,30.0 48.0,29.8 47.0,29.5 46.0,29.3 45.1,29.1 44.1,28.8 43.1,28.6 42.1,28.4 41.2,28.3 40.3,28.3 39.4,28.2 38.3,28.2 37.2,28.2 36.1,28.2 34.9,28.1 34.0,28.1 33.1,28.1 32.2,28.1 31.1,27.9 30.0,27.7 28.9,27.5 27.8,27.4 27.1,27.0 26.4,26.6 25.7,26.2 25.7,24.8 25.8,23.3 24.8,22.7 23.9,22.1 23.1,21.7 22.3,21.3 21.5,20.9 21.8,19.6 22.0,18.3 22.2,17.0 22.3,15.7 22.4,14.5 22.5,13.2 22.5,11.7 22.5,10.3 22.5,8.9 22.5,7.4 23.4,8.0 24.3,8.6 25.2,9.1 26.1,9.7 27.0,10.3 27.9,10.7 28.8,11.0 29.7,11.4 29.8,12.7 29.5,14.3 29.3,15.8 28.4,16.6 27.6,17.3 28.7,17.0 29.8,16.6 30.2,15.8 30.7,14.9 31.1,13.8 31.6,12.6 31.6,11.0 31.6,9.4 31.5,7.7Z"/>
<path fill="#38a800" d="M21.5,20.9 22.3,21.3 23.1,21.7 23.9,22.1 24.8,22.7 25.8,23.3 25.7,24.8 25.7,26.2 26.4,26.6 27.1,27.0 27.8,27.4 28.9,27.5 30.0,27.7 31.1,27.9 32.2,28.1 33.1,28.1 34.0,28.1 34.9,28.1 36.1,28.2 37.2,28.2 38.3,28.2 39.4,28.2 40.3,28.3 41.2,28.3 42.1,28.4 43.1,28.6 44.1,28.8 45.1,29.1 46.0,29.3 47.0,29.5 48.0,29.8 49.0,30.0 50.0,30.2 51.0,30.4 51.5,31.7 51.9,32.6 52.3,33.5 51.1,34.9 50.5,35.8 49.9,36.7 48.7,38.0 48.1,39.3 47.4,40.6 48.0,41.1 48.6,41.7 48.0,42.7 47.5,43.7 47.2,45.1 46.9,46.5 46.5,47.9 46.2,49.4 45.9,50.8 45.6,52.2 45.3,53.6 45.0,55.0 43.8,54.7 42.7,54.5 41.6,54.2 40.5,53.9 39.4,53.7 38.2,53.4 37.1,53.1 36.0,52.9 34.9,52.6 33.8,52.3 32.7,52.0 31.5,51.7 30.4,51.4 29.3,51.2 28.2,50.9 27.1,50.6 26.0,50.3 24.9,50.0 23.8,49.6 22.7,49.3 21.6,49.0 20.5,48.7 19.4,48.4 18.2,48.1 17.1,47.7 16.0,47.4 14.9,47.1 13.8,46.8 12.7,46.4 12.8,45.0 12.8,43.6 12.8,42.3 12.8,40.9 13.6,39.6 14.5,38.3 15.3,37.0 16.1,35.8 16.9,34.5 17.5,33.0 18.1,31.5 18.6,30.0 19.2,28.6 19.8,27.1 20.3,25.6 20.6,24.4 20.9,23.3 21.2,22.1Z"/>
<path fill="#78cd00" d="M12.7,46.4 13.8,46.8 14.9,47.1 16.0,47.4 17.1,47.7 18.2,48.1 19.4,48.4 20.5,48.7 21.6,49.0 22.7,49.3 23.8,49.6 24.9,50.0 26.0,50.3 27.1,50.6 28.2,50.9 29.3,51.2 30.4,51.4 31.6,51.7 31.2,53.3 30.8,54.8 30.4,56.3 30.0,57.9 29.6,59.4 29.2,60.9 28.8,62.5 28.4,64.0 28.0,65.6 27.6,67.1 27.2,68.6 26.8,70.2 27.6,71.6 28.5,73.0 29.4,74.4 30.3,75.8 31.1,77.2 32.0,78.6 32.9,80.0 33.8,81.4 34.8,82.8 35.7,84.2 36.6,85.6 37.5,87.0 38.5,88.4 39.4,89.8 40.4,91.2 41.3,92.6 42.3,94.0 43.2,95.4 44.2,96.7 45.2,98.1 46.2,99.5 47.2,100.9 47.5,102.1 47.8,103.4 48.2,104.6 48.8,105.7 48.0,106.3 47.1,106.8 46.5,108.3 46.0,109.7 44.8,110.8 45.1,112.1 45.4,113.5 44.6,114.2 43.9,115.0 42.6,114.8 41.4,114.7 40.1,114.6 38.8,114.4 37.6,114.3 36.3,114.1 35.1,114.0 33.8,113.8 32.5,113.7 31.3,113.5 31.1,112.6 31.0,111.7 30.7,110.3 30.4,108.9 30.1,107.6 29.0,106.6 28.0,105.7 27.0,104.8 26.7,103.8 26.4,102.8 25.3,102.2 24.2,101.6 23.1,101.0 22.1,100.4 21.1,99.7 20.1,99.1 19.1,98.5 18.1,97.8 17.1,97.2 17.3,95.7 17.4,94.2 17.5,92.7 16.7,91.0 15.8,89.3 15.0,87.7 14.1,86.0 13.3,84.3 13.5,83.4 13.8,82.5 14.7,81.1 13.9,80.1 13.2,79.1 12.4,78.1 12.6,76.8 12.8,75.6 13.0,74.3 12.0,73.4 11.0,72.4 10.6,70.8 10.2,69.2 9.8,67.6 9.3,66.0 9.6,64.6 9.9,63.1 10.2,61.7 10.5,60.3 10.0,59.1 9.5,57.8 8.9,56.5 9.8,55.2 10.6,53.9 11.4,52.6 11.7,51.1 12.1,49.5 12.4,48.0Z"/>
<path fill="#78cd00" d="M31.6,51.7 32.7,52.0 33.8,52.3 34.9,52.6 36.0,52.9 37.1,53.1 38.3,53.4 39.4,53.7 40.5,53.9 41.6,54.2 42.7,54.5 43.9,54.7 45.0,55.0 46.1,55.2 47.2,55.5 48.4,55.7 49.5,56.0 50.6,56.2 51.7,56.4 52.9,56.7 54.0,56.9 55.1,57.1 56.2,57.4 57.4,57.6 58.5,57.8 58.2,59.4 57.9,60.9 57.6,62.5 57.3,64.0 57.0,65.6 56.7,67.1 56.4,68.7 56.1,70.3 55.8,71.8 55.5,73.4 55.2,74.9 54.9,76.5 54.6,78.1 54.3,79.6 54.0,81.2 53.7,82.7 53.4,84.3 53.1,85.9 52.8,87.4 52.5,89.0 52.3,90.2 52.0,91.5 51.8,92.7 51.5,94.0 50.3,94.1 49.1,94.3 47.9,94.4 48.0,95.6 48.0,96.7 48.1,97.8 47.6,99.4 47.2,100.9 46.2,99.5 45.2,98.1 44.2,96.7 43.2,95.4 42.3,94.0 41.3,92.6 40.4,91.2 39.4,89.8 38.5,88.4 37.5,87.0 36.6,85.6 35.7,84.2 34.8,82.8 33.8,81.4 32.9,80.0 32.0,78.6 31.1,77.2 30.3,75.8 29.4,74.4 28.5,73.0 27.6,71.6 26.8,70.2 27.2,68.6 27.6,67.1 28.0,65.6 28.4,64.0 28.8,62.5 29.2,60.9 29.6,59.4 30.0,57.9 30.4,56.3 30.8,54.8 31.2,53.3Z"/>
<path fill="#38a800" d="M54.6,12.0 55.6,12.3 56.6,12.5 57.6,12.7 58.6,12.9 58.3,14.4 58.0,16.0 57.7,17.5 57.3,19.0 57.6,20.2 57.8,21.5 58.1,22.7 58.8,23.5 59.5,24.3 60.2,25.7 61.0,27.1 61.7,28.5 62.6,29.7 62.2,30.9 61.8,32.1 61.4,33.3 61.1,34.3 60.8,35.3 61.8,35.5 62.9,35.6 63.9,35.7 64.1,37.1 64.4,38.5 64.7,39.9 65.4,41.2 66.2,42.4 66.9,43.6 68.1,43.5 69.3,43.4 70.1,43.5 71.0,43.7 71.9,43.8 72.8,44.0 73.7,44.4 74.7,44.7 74.4,46.3 74.2,47.8 74.0,49.4 73.7,50.9 73.5,52.5 73.2,54.0 73.0,55.6 72.7,57.1 72.5,58.7 72.2,60.2 71.1,60.0 69.9,59.9 68.8,59.7 67.7,59.5 66.5,59.3 65.4,59.1 64.2,58.9 63.1,58.7 62.0,58.5 60.8,58.2 59.7,58.0 58.5,57.8 57.4,57.6 56.3,57.4 55.1,57.1 54.0,56.9 52.9,56.7 51.7,56.4 50.6,56.2 49.5,56.0 48.3,55.7 47.2,55.5 46.1,55.2 45.0,55.0 45.3,53.6 45.6,52.2 45.9,50.8 46.2,49.4 46.5,47.9 46.9,46.5 47.2,45.1 47.5,43.7 48.0,42.7 48.6,41.7 48.0,41.1 47.4,40.6 48.1,39.3 48.7,38.0 49.9,36.7 50.5,35.8 51.1,34.9 52.3,33.5 51.9,32.6 51.5,31.7 51.0,30.4 51.0,29.1 51.0,27.8 51.4,26.3 51.7,24.9 52.0,23.5 52.3,22.0 52.7,20.6 53.0,19.2 53.3,17.7 53.6,16.3 53.9,14.9 54.3,13.5Z"/>
<path fill="#38a800" d="M58.6,12.9 59.7,13.1 60.7,13.4 61.7,13.6 62.7,13.8 63.7,14.0 64.8,14.2 65.8,14.4 66.8,14.6 67.9,14.8 68.9,15.0 69.9,15.2 70.9,15.4 72.0,15.5 73.0,15.7 74.0,15.9 75.1,16.1 76.1,16.3 77.1,16.4 78.1,16.6 79.2,16.8 80.2,16.9 81.2,17.1 82.3,17.3 83.3,17.4 84.3,17.6 85.4,17.7 86.4,17.9 87.4,18.0 88.5,18.1 89.5,18.3 90.5,18.4 91.6,18.6 92.6,18.7 93.7,18.8 94.7,18.9 95.7,19.1 96.8,19.2 97.8,19.3 98.9,19.4 99.9,19.5 100.9,19.6 102.0,19.7 103.0,19.8 104.0,20.0 105.1,20.0 106.1,20.1 107.2,20.2 108.2,20.3 108.1,21.9 107.9,23.4 107.8,25.0 107.7,26.5 107.5,28.1 107.4,29.6 107.3,31.2 107.2,32.8 107.0,34.3 106.9,35.9 106.8,37.4 106.6,39.0 106.5,40.6 106.3,42.1 106.2,43.7 106.1,45.3 105.0,45.2 103.9,45.1 102.8,45.0 101.7,44.9 100.6,44.8 99.4,44.7 98.3,44.6 97.2,44.4 96.1,44.3 95.0,44.2 93.9,44.1 92.8,43.9 91.7,43.8 90.6,43.7 89.5,43.5 88.4,43.4 87.3,43.3 86.2,43.1 85.1,43.0 84.0,42.8 82.9,42.7 81.8,42.5 80.7,42.3 79.6,42.2 78.5,42.0 77.4,41.8 76.3,41.7 75.2,41.5 75.0,42.6 74.9,43.7 74.7,44.7 73.7,44.4 72.8,44.0 71.9,43.8 71.0,43.7 70.1,43.5 69.3,43.4 68.1,43.5 66.9,43.6 66.2,42.4 65.4,41.2 64.7,39.9 64.4,38.5 64.1,37.1 63.9,35.7 62.9,35.6 61.8,35.5 60.8,35.3 61.1,34.3 61.4,33.3 61.8,32.1 62.2,30.9 62.6,29.7 61.7,28.5 61.0,27.1 60.2,25.7 59.5,24.3 58.8,23.5 58.1,22.7 57.8,21.5 57.6,20.2 57.3,19.0 57.7,17.5 58.0,16.0 58.3,14.4 58.6,12.9Z"/>
<path fill="#38a800" d="M75.2,41.5 76.3,41.7 77.4,41.8 78.5,42.0 79.6,42.2 80.7,42.3 81.8,42.5 82.9,42.7 84.0,42.8 85.1,43.0 86.2,43.1 87.3,43.3 88.4,43.4 89.5,43.5 90.6,43.7 91.7,43.8 92.8,43.9 93.9,44.1 95.0,44.2 96.1,44.3 97.2,44.4 98.3,44.6 99.4,44.7 100.6,44.8 101.7,44.9 102.8,45.0 103.9,45.1 105.0,45.2 106.1,45.3 105.9,46.9 105.8,48.4 105.7,50.0 105.5,51.6 105.4,53.1 105.3,54.7 105.1,56.3 105.0,57.9 104.9,59.4 104.7,61.0 104.6,62.6 104.5,64.2 104.3,65.8 104.2,67.3 104.1,68.9 103.9,70.5 102.8,70.4 101.6,70.3 100.4,70.2 99.2,70.1 98.1,70.0 96.9,69.8 95.7,69.7 94.6,69.6 93.4,69.5 92.2,69.3 91.0,69.2 89.9,69.1 88.7,68.9 87.5,68.8 86.4,68.6 85.2,68.5 84.0,68.3 82.9,68.2 81.7,68.0 80.5,67.9 79.4,67.7 78.2,67.5 77.0,67.4 75.9,67.2 74.7,67.0 73.5,66.9 72.4,66.7 71.2,66.5 71.5,64.9 71.7,63.4 72.0,61.8 72.2,60.2 72.5,58.7 72.7,57.1 73.0,55.5 73.2,54.0 73.5,52.4 73.7,50.8 74.0,49.3 74.2,47.7 74.5,46.2 74.7,44.6 75.0,43.1Z"/>
<path fill="#78cd00" d="M58.5,57.8 59.6,58.0 60.8,58.2 61.9,58.5 63.1,58.7 64.2,58.9 65.3,59.1 66.5,59.3 67.6,59.5 68.8,59.7 69.9,59.9 71.1,60.0 72.2,60.2 72.0,61.8 71.7,63.4 71.5,64.9 71.2,66.5 72.4,66.7 73.5,66.9 74.7,67.0 75.9,67.2 77.0,67.4 78.2,67.5 79.4,67.7 80.5,67.9 80.3,69.4 80.1,71.0 79.9,72.6 79.7,74.2 79.4,75.7 79.2,77.3 79.0,78.9 78.8,80.5 78.6,82.0 78.4,83.6 78.1,85.2 77.9,86.8 77.7,88.3 77.5,89.9 77.3,91.5 77.0,93.0 75.8,92.9 74.6,92.7 73.3,92.5 72.1,92.3 70.9,92.2 69.7,92.0 68.4,91.8 67.2,91.6 66.0,91.4 64.7,91.2 63.5,91.0 62.3,90.8 61.1,90.6 59.8,90.3 58.6,90.1 57.4,89.9 56.2,89.7 54.9,89.4 53.7,89.2 52.5,89.0 52.8,87.4 53.1,85.9 53.4,84.3 53.7,82.7 54.0,81.2 54.3,79.6 54.6,78.1 54.9,76.5 55.2,74.9 55.5,73.4 55.8,71.8 56.1,70.3 56.4,68.7 56.7,67.1 57.0,65.6 57.3,64.0 57.6,62.5 57.9,60.9 58.2,59.4Z"/>
<path fill="#78cd00" d="M80.5,67.9 81.7,68.0 82.9,68.2 84.0,68.3 85.2,68.5 86.4,68.6 87.5,68.8 88.7,68.9 89.9,69.1 91.0,69.2 92.2,69.3 93.4,69.5 94.6,69.6 95.7,69.7 96.9,69.8 98.1,70.0 99.2,70.1 100.4,70.2 101.6,70.3 102.8,70.4 103.9,70.5 105.1,70.6 106.3,70.7 107.5,70.8 108.6,70.9 109.8,71.0 111.0,71.0 112.1,71.1 113.3,71.2 113.2,72.8 113.1,74.4 113.0,75.9 112.9,77.5 112.8,79.1 112.7,80.7 112.6,82.3 112.5,83.9 112.4,85.5 112.3,87.0 112.2,88.6 112.1,90.2 112.0,91.8 111.9,93.4 111.8,95.0 111.7,96.6 110.5,96.5 109.2,96.4 108.0,96.3 106.7,96.2 105.5,96.1 104.3,96.0 103.0,95.9 101.8,95.8 100.5,95.7 99.3,95.6 98.1,95.5 96.8,95.4 95.6,95.2 94.3,95.1 93.1,95.0 91.9,94.9 90.6,94.7 89.4,94.6 88.2,94.5 86.9,94.3 85.7,94.2 84.4,94.0 83.2,93.9 82.0,93.7 80.7,93.5 79.5,93.4 78.3,93.2 77.0,93.0 77.3,91.5 77.5,89.9 77.7,88.3 77.9,86.8 78.1,85.2 78.4,83.6 78.6,82.0 78.8,80.5 79.0,78.9 79.2,77.3 79.4,75.7 79.7,74.2 79.9,72.6 80.1,71.0 80.3,69.4Z"/>
<path fill="#38a800" d="M52.5,89.0 53.7,89.2 54.9,89.4 56.2,89.7 57.4,89.9 58.6,90.1 59.8,90.3 61.1,90.6 62.3,90.8 63.5,91.0 64.7,91.2 66.0,91.4 67.2,91.6 68.4,91.8 69.7,92.0 70.9,92.2 72.1,92.3 73.3,92.5 74.6,92.7 75.8,92.9 77.0,93.0 76.8,94.6 76.6,96.1 76.4,97.7 76.2,99.2 76.0,100.8 75.8,102.4 75.5,103.9 75.3,105.5 75.1,107.0 74.9,108.5 74.7,110.1 74.5,111.6 74.2,113.2 74.0,114.7 73.8,116.3 73.6,117.8 73.4,119.4 73.2,120.9 73.0,122.5 72.7,124.0 72.5,125.6 72.3,127.1 72.1,128.6 70.9,128.5 69.7,128.3 68.5,128.1 67.3,128.0 66.2,127.8 65.0,127.6 63.8,127.4 62.6,127.2 61.4,127.0 60.2,126.3 58.9,125.6 57.7,124.9 56.5,124.2 55.2,123.5 54.0,122.8 52.8,122.1 51.6,121.4 50.4,120.6 49.2,119.9 48.0,119.2 46.7,118.5 45.5,117.7 44.4,117.0 43.2,116.2 43.9,115.0 44.6,114.2 45.4,113.5 45.1,112.1 44.8,110.8 46.0,109.7 46.5,108.3 47.1,106.8 48.0,106.3 48.8,105.7 48.2,104.6 47.8,103.4 47.5,102.1 47.2,100.9 47.6,99.4 48.1,97.8 48.0,96.7 48.0,95.6 47.9,94.4 49.1,94.3 50.3,94.1 51.5,94.0 51.8,92.7 52.0,91.5 52.3,90.2Z"/>
<path fill="#38a800" d="M77.0,93.0 78.2,93.2 79.4,93.4 80.6,93.5 81.8,93.7 83.0,93.8 84.2,94.0 85.4,94.1 86.6,94.3 87.8,94.4 89.0,94.5 90.2,94.7 91.4,94.8 92.6,94.9 93.8,95.1 95.0,95.2 96.2,95.3 97.4,95.4 98.6,95.5 99.8,95.6 101.0,95.7 102.2,95.8 103.4,95.9 104.6,96.0 105.8,96.1 107.0,96.2 106.9,97.8 106.7,99.4 106.6,101.0 106.5,102.6 106.3,104.1 106.2,105.7 106.1,107.3 105.9,108.9 105.8,110.5 105.7,112.0 105.5,113.6 105.4,115.2 105.3,116.8 105.1,118.4 105.0,119.9 104.9,121.5 104.7,123.1 104.6,124.7 104.5,126.2 104.3,127.8 103.1,127.7 101.8,127.6 100.5,127.5 99.3,127.4 98.0,127.3 96.8,127.2 95.5,127.1 94.3,127.0 93.0,126.9 91.8,126.7 90.5,126.6 89.3,126.5 88.0,126.3 86.7,126.2 85.5,126.1 85.8,127.5 84.5,127.4 83.3,127.2 82.0,127.1 80.7,126.9 79.5,126.7 78.2,126.6 76.9,126.4 76.7,127.8 76.6,129.2 75.5,129.1 74.3,129.0 73.2,128.8 72.1,128.6 72.3,127.1 72.5,125.6 72.7,124.0 73.0,122.5 73.2,120.9 73.4,119.4 73.6,117.8 73.8,116.3 74.0,114.7 74.2,113.2 74.5,111.6 74.7,110.1 74.9,108.5 75.1,107.0 75.3,105.5 75.5,103.9 75.8,102.4 76.0,100.8 76.2,99.2 76.4,97.7 76.6,96.1 76.8,94.6Z"/>
<path fill="#38a800" d="M108.2,20.3 109.2,20.4 110.2,20.5 111.3,20.6 112.3,20.7 113.3,20.7 114.3,20.8 115.3,20.9 116.3,20.9 117.3,21.0 118.4,21.1 119.4,21.1 120.4,21.2 121.4,21.2 122.4,21.3 123.4,21.3 124.5,21.4 125.5,21.4 126.5,21.5 127.5,21.5 128.5,21.5 129.6,21.6 130.6,21.6 131.6,21.6 132.6,21.7 133.6,21.7 134.6,21.7 135.7,21.7 136.7,21.7 136.8,23.3 137.0,24.8 137.3,26.3 137.6,27.7 137.9,29.1 138.2,30.5 138.2,31.9 138.2,33.4 138.2,34.9 138.6,36.1 138.9,37.4 139.2,38.6 139.3,39.8 139.4,40.9 138.3,40.9 137.2,40.9 136.1,40.9 135.0,40.8 133.9,40.8 132.8,40.8 131.7,40.8 130.6,40.7 129.5,40.7 128.4,40.7 127.3,40.6 126.2,40.6 125.1,40.6 124.0,40.5 123.0,40.5 121.9,40.4 120.8,40.4 119.7,40.3 118.6,40.2 117.5,40.2 116.4,40.1 115.3,40.0 114.2,40.0 113.1,39.9 112.0,39.8 110.9,39.7 109.9,39.7 108.8,39.6 107.7,39.5 106.6,39.4 106.7,37.9 106.8,36.4 107.0,35.0 107.1,33.5 107.2,32.0 107.3,30.6 107.5,29.1 107.6,27.6 107.7,26.2 107.8,24.7 108.0,23.2 108.1,21.8Z"/>
<path fill="#38a800" d="M106.6,39.4 107.7,39.5 108.8,39.6 109.9,39.7 110.9,39.7 112.0,39.8 113.1,39.9 114.2,40.0 115.3,40.0 116.4,40.1 117.5,40.2 118.6,40.2 119.7,40.3 120.8,40.4 121.9,40.4 123.0,40.5 124.0,40.5 125.1,40.6 126.2,40.6 127.3,40.6 128.4,40.7 129.5,40.7 130.6,40.7 131.7,40.8 132.8,40.8 133.9,40.8 135.0,40.8 136.1,40.9 137.2,40.9 138.3,40.9 139.4,40.9 139.4,41.6 138.7,42.3 138.1,43.0 138.9,44.0 139.8,44.9 139.8,46.3 139.8,47.8 139.8,49.2 139.8,50.6 139.8,52.0 139.8,53.4 139.8,54.9 139.8,56.3 139.4,57.9 139.1,59.4 139.3,60.5 139.5,61.6 139.7,62.7 138.6,61.6 137.4,61.0 136.3,60.4 135.2,60.5 134.2,60.7 133.1,60.8 132.2,60.3 131.3,59.8 130.4,59.3 129.3,59.3 128.2,59.2 127.1,59.2 125.9,59.1 124.8,59.1 123.7,59.1 122.6,59.0 121.5,59.0 120.4,58.9 119.3,58.9 118.2,58.8 117.1,58.7 116.0,58.7 114.9,58.6 113.8,58.5 112.7,58.5 111.6,58.4 110.5,58.3 109.4,58.2 108.3,58.1 107.2,58.1 106.1,58.0 105.0,57.9 105.1,56.3 105.3,54.8 105.4,53.2 105.5,51.7 105.7,50.2 105.8,48.6 105.9,47.1 106.1,45.5 106.2,44.0 106.3,42.5 106.5,40.9Z"/>
<path fill="#38a800" d="M105.0,57.9 106.1,58.0 107.2,58.1 108.3,58.1 109.4,58.2 110.5,58.3 111.6,58.4 112.7,58.5 113.8,58.5 114.9,58.6 116.0,58.7 117.1,58.7 118.2,58.8 119.3,58.9 120.4,58.9 121.5,59.0 122.6,59.0 123.7,59.1 124.8,59.1 125.9,59.1 127.1,59.2 128.2,59.2 129.3,59.3 130.4,59.3 131.3,59.8 132.2,60.3 133.1,60.8 134.2,60.7 135.2,60.5 136.3,60.4 137.4,61.0 138.6,61.6 139.7,62.7 140.0,63.6 140.2,64.5 140.8,65.9 141.3,67.4 141.8,68.8 142.3,70.2 142.3,71.5 142.4,72.8 142.6,73.8 142.9,74.8 143.3,75.7 143.7,76.6 144.4,77.5 145.1,78.5 143.9,78.5 142.8,78.5 141.6,78.5 140.4,78.5 139.2,78.5 138.0,78.4 136.8,78.4 135.6,78.4 134.4,78.4 133.2,78.4 132.0,78.4 130.8,78.3 129.6,78.3 128.4,78.3 127.2,78.2 126.0,78.2 124.8,78.1 123.6,78.1 122.5,78.0 121.3,78.0 120.1,77.9 118.9,77.9 117.7,77.8 116.5,77.7 115.3,77.7 114.1,77.6 112.9,77.5 113.0,75.9 113.1,74.4 113.2,72.8 113.3,71.2 112.1,71.1 111.0,71.0 109.8,71.0 108.6,70.9 107.5,70.8 106.3,70.7 105.1,70.6 103.9,70.5 104.1,68.9 104.2,67.3 104.3,65.8 104.5,64.2 104.6,62.6 104.7,61.0 104.9,59.4Z"/>
<path fill="#38a800" d="M112.9,77.5 114.1,77.6 115.3,77.7 116.5,77.7 117.7,77.8 118.9,77.9 120.1,77.9 121.3,78.0 122.5,78.0 123.6,78.1 124.8,78.1 126.0,78.2 127.2,78.2 128.4,78.3 129.6,78.3 130.8,78.3 132.0,78.4 133.2,78.4 134.4,78.4 135.6,78.4 136.8,78.4 138.0,78.4 139.2,78.5 140.4,78.5 141.6,78.5 142.8,78.5 143.9,78.5 145.1,78.5 146.0,78.8 146.8,79.1 147.0,80.3 147.1,81.6 147.8,82.9 148.6,84.1 148.6,85.6 148.6,87.1 148.6,88.6 148.6,90.1 148.6,91.5 148.6,93.0 148.6,94.5 148.6,96.0 148.7,97.5 147.4,97.5 146.2,97.5 145.0,97.5 143.7,97.5 142.5,97.5 141.3,97.5 140.0,97.5 138.8,97.5 137.6,97.5 136.3,97.5 135.1,97.5 133.9,97.5 132.6,97.4 131.4,97.4 130.2,97.4 128.9,97.3 127.7,97.3 126.5,97.3 125.2,97.2 124.0,97.2 122.8,97.1 121.5,97.1 120.3,97.0 119.1,97.0 117.8,96.9 116.6,96.8 115.4,96.8 114.2,96.7 112.9,96.6 111.7,96.6 111.8,95.0 111.9,93.4 112.0,91.8 112.1,90.2 112.2,88.6 112.3,87.0 112.4,85.5 112.5,83.9 112.6,82.3 112.7,80.7 112.8,79.1Z"/>
<path fill="#78cd00" d="M107.0,96.2 108.2,96.3 109.4,96.4 110.7,96.5 111.9,96.6 113.1,96.6 114.3,96.7 115.5,96.8 116.8,96.9 118.0,96.9 119.2,97.0 120.4,97.0 121.7,97.1 122.9,97.1 124.1,97.2 125.4,97.2 126.6,97.3 127.8,97.3 129.0,97.3 130.3,97.4 131.5,97.4 132.7,97.4 133.9,97.5 135.2,97.5 136.4,97.5 137.6,97.5 138.8,97.5 140.1,97.5 141.3,97.5 142.5,97.5 143.7,97.5 145.0,97.5 146.2,97.5 147.4,97.5 148.7,97.5 148.7,99.1 148.7,100.7 148.9,102.1 149.1,103.5 149.3,104.9 149.6,106.3 149.8,107.7 149.8,109.3 149.7,110.9 149.7,112.4 149.7,114.0 149.7,115.6 149.7,117.2 149.7,118.8 149.7,118.8 148.8,118.3 147.9,117.9 147.0,117.4 145.9,117.4 144.9,117.3 143.9,117.2 142.8,117.4 141.8,117.6 140.7,117.8 139.7,117.7 138.7,117.5 137.6,117.7 136.6,117.9 135.5,118.1 134.5,117.5 133.5,116.8 132.5,116.6 131.4,116.5 130.1,116.1 128.9,115.8 127.7,115.2 126.5,114.6 125.3,114.1 124.0,113.9 122.7,113.8 122.0,113.2 121.2,112.6 121.3,111.0 121.4,109.5 121.4,108.0 121.5,106.4 121.6,104.9 121.6,103.3 121.7,101.8 121.8,100.3 120.5,100.2 119.2,100.2 118.0,100.1 116.7,100.0 115.5,100.0 114.2,99.9 113.0,99.8 111.7,99.7 110.5,99.7 109.2,99.6 108.0,99.5 106.7,99.4 106.9,97.8Z"/>
<path fill="#78cd00" d="M106.7,99.4 108.0,99.5 109.2,99.6 110.5,99.7 111.7,99.7 113.0,99.8 114.2,99.9 115.5,100.0 116.7,100.0 118.0,100.1 119.2,100.2 120.5,100.2 121.8,100.3 121.7,101.8 121.6,103.3 121.6,104.9 121.5,106.4 121.4,108.0 121.4,109.5 121.3,111.0 121.2,112.6 122.0,113.2 122.7,113.8 124.0,113.9 125.3,114.1 126.5,114.6 127.7,115.2 128.9,115.8 130.1,116.1 131.4,116.5 132.5,116.6 133.5,116.8 134.5,117.5 135.5,118.1 136.6,117.9 137.6,117.7 138.7,117.5 139.7,117.7 140.7,117.8 141.8,117.6 142.8,117.4 143.9,117.2 144.9,117.3 145.9,117.4 147.0,117.4 147.9,117.9 148.8,118.3 149.7,118.8 150.8,119.1 152.0,119.3 152.0,120.4 152.0,121.6 152.1,122.7 152.1,124.0 152.1,125.3 152.1,126.6 152.2,127.8 152.2,129.1 152.8,130.4 153.5,131.6 154.0,132.9 154.5,134.1 154.9,135.4 154.7,136.9 154.5,138.3 154.2,139.8 154.0,141.1 153.8,142.4 153.6,143.6 152.4,144.2 151.2,144.8 150.1,145.3 148.9,145.9 147.8,146.7 146.7,147.5 145.4,148.3 144.2,149.2 142.9,150.0 141.6,150.9 140.3,151.7 139.0,152.5 137.7,153.8 136.4,155.0 135.0,156.3 134.7,157.7 134.3,159.2 133.9,160.6 133.9,162.1 134.0,163.5 134.1,165.0 134.6,166.1 135.2,167.2 134.1,167.1 133.1,167.0 132.1,166.8 130.6,166.7 129.2,166.5 127.9,165.7 126.7,165.0 125.4,164.3 124.2,163.5 123.7,161.9 123.1,160.4 122.6,158.8 122.1,157.2 121.1,155.9 120.0,154.6 118.9,153.3 117.9,152.0 117.4,150.7 116.9,149.4 116.4,148.2 115.9,146.9 114.7,145.4 113.5,143.9 112.3,142.5 110.9,142.3 109.6,142.2 108.2,142.1 106.9,141.9 106.0,142.5 105.1,143.1 104.3,144.3 103.5,145.5 102.7,146.7 101.6,146.6 100.4,145.7 99.2,144.7 98.0,143.8 96.7,142.7 95.4,141.7 94.8,140.1 94.2,138.6 93.6,137.1 92.6,135.7 91.5,134.3 90.5,132.9 89.4,131.6 88.4,130.2 87.5,129.3 86.7,128.4 85.8,127.5 85.5,126.1 86.7,126.2 88.0,126.3 89.3,126.5 90.5,126.6 91.8,126.7 93.0,126.9 94.3,127.0 95.5,127.1 96.8,127.2 98.0,127.3 99.3,127.4 100.5,127.5 101.8,127.6 103.1,127.7 104.3,127.8 104.5,126.2 104.6,124.7 104.7,123.1 104.9,121.5 105.0,119.9 105.1,118.4 105.3,116.8 105.4,115.2 105.5,113.6 105.7,112.0 105.8,110.5 105.9,108.9 106.1,107.3 106.2,105.7 106.3,104.1 106.5,102.6 106.6,101.0Z"/>
<path fill="#78cd00" d="M136.7,21.7 137.6,21.7 138.6,21.8 139.6,21.8 140.5,21.8 141.5,21.8 142.5,21.8 143.4,21.8 144.4,21.8 145.4,21.8 145.4,20.6 145.4,19.4 146.1,19.6 146.8,19.9 147.1,21.1 147.4,22.4 147.7,23.6 148.7,23.7 149.7,23.8 150.7,23.9 151.7,24.0 152.8,24.1 153.7,24.4 154.6,24.7 155.6,25.0 156.5,25.2 157.4,25.5 158.3,25.9 159.2,26.4 160.0,26.8 160.9,27.2 162.0,27.1 163.0,27.0 164.1,26.8 165.1,26.7 166.1,26.8 167.0,26.9 168.0,27.0 169.0,27.1 168.2,27.8 167.4,28.4 166.3,29.3 165.3,30.1 164.3,31.0 163.3,31.8 162.4,32.5 161.4,33.3 160.5,34.0 159.6,34.7 158.7,35.5 157.8,36.1 157.9,37.3 157.9,38.4 158.0,39.6 157.2,40.9 156.3,42.2 155.5,43.4 155.9,44.7 156.2,45.9 156.2,47.0 156.1,48.2 157.2,48.9 158.4,49.7 159.3,50.4 160.2,51.2 161.2,52.0 162.1,52.8 163.0,53.6 163.3,54.6 163.5,55.7 162.4,55.8 161.3,55.9 160.1,55.9 159.0,55.9 157.9,56.0 156.7,56.0 155.6,56.1 154.5,56.1 153.3,56.1 152.2,56.2 151.1,56.2 149.9,56.2 148.8,56.2 147.7,56.2 146.5,56.3 145.4,56.3 144.3,56.3 143.2,56.3 142.0,56.3 140.9,56.3 139.8,56.3 139.8,54.9 139.8,53.4 139.8,52.0 139.8,50.6 139.8,49.2 139.8,47.8 139.8,46.3 139.8,44.9 138.9,44.0 138.1,43.0 138.7,42.3 139.4,41.6 139.4,40.9 139.3,39.8 139.2,38.6 138.9,37.4 138.6,36.1 138.2,34.9 138.2,33.4 138.2,31.9 138.2,30.5 137.9,29.1 137.6,27.7 137.3,26.3 137.0,24.8 136.8,23.3Z"/>
<path fill="#38a800" d="M139.8,56.3 140.9,56.3 142.0,56.3 143.2,56.3 144.3,56.3 145.4,56.3 146.5,56.3 147.7,56.2 148.8,56.2 149.9,56.2 151.1,56.2 152.2,56.2 153.3,56.1 154.5,56.1 155.6,56.1 156.7,56.0 157.9,56.0 159.0,55.9 160.1,55.9 161.3,55.9 162.4,55.8 163.5,55.7 163.6,57.0 163.7,58.3 164.1,59.4 164.5,60.4 165.5,61.2 166.5,61.9 167.3,62.8 168.2,63.7 168.5,65.0 168.8,66.2 167.9,67.2 167.0,68.2 166.2,69.2 165.3,70.2 165.1,71.8 165.0,73.4 164.3,74.5 163.5,75.5 162.8,74.8 162.0,74.1 160.9,74.2 159.8,74.3 158.6,74.3 157.5,74.4 156.4,74.4 155.3,74.5 154.1,74.5 153.0,74.5 151.9,74.6 150.8,74.6 149.6,74.7 148.5,74.7 147.4,74.7 146.3,74.7 145.1,74.7 144.0,74.8 142.9,74.8 142.6,73.8 142.4,72.8 142.3,71.5 142.3,70.2 141.8,68.8 141.3,67.4 140.8,65.9 140.2,64.5 140.0,63.6 139.7,62.7 139.5,61.6 139.3,60.5 139.1,59.4 139.4,57.9Z"/>
<path fill="#78cd00" d="M142.9,74.8 144.0,74.8 145.1,74.7 146.3,74.7 147.4,74.7 148.5,74.7 149.6,74.7 150.8,74.6 151.9,74.6 153.0,74.5 154.1,74.5 155.3,74.5 156.4,74.4 157.5,74.4 158.6,74.3 159.8,74.3 160.9,74.2 162.0,74.1 162.8,74.8 163.5,75.5 163.4,76.8 163.3,78.0 164.1,79.2 164.8,80.4 166.1,82.0 167.4,83.5 168.7,84.0 169.9,84.6 170.0,85.6 170.0,86.5 169.9,87.8 169.7,89.1 170.7,90.0 171.8,90.9 172.8,91.7 173.4,93.1 174.0,94.5 174.9,95.4 175.9,96.3 176.1,96.6 176.0,97.7 175.8,98.9 174.8,99.6 174.2,100.9 173.9,101.9 173.5,102.8 172.4,102.9 171.3,103.0 170.2,103.0 170.6,101.4 171.1,99.8 169.8,99.9 168.6,100.0 167.4,100.0 166.1,100.1 164.9,100.2 163.6,100.2 162.4,100.3 161.1,100.3 159.9,100.4 158.7,100.4 157.4,100.5 156.2,100.5 154.9,100.5 153.7,100.6 152.4,100.6 151.2,100.6 149.9,100.6 148.7,100.7 148.7,99.1 148.7,97.5 148.6,96.0 148.6,94.5 148.6,93.0 148.6,91.5 148.6,90.1 148.6,88.6 148.6,87.1 148.6,85.6 148.6,84.1 147.8,82.9 147.1,81.6 147.0,80.3 146.8,79.1 146.0,78.8 145.1,78.5 144.4,77.5 143.7,76.6 143.3,75.7Z"/>
<path fill="#d1ed00" d="M148.7,100.7 149.9,100.6 151.2,100.6 152.4,100.6 153.7,100.6 154.9,100.5 156.2,100.5 157.4,100.5 158.7,100.4 159.9,100.4 161.1,100.3 162.4,100.3 163.6,100.2 164.9,100.2 166.1,100.1 167.4,100.0 168.6,100.0 169.8,99.9 171.1,99.8 170.6,101.4 170.2,103.0 171.3,103.0 172.4,102.9 173.5,102.8 173.1,104.1 172.7,105.4 172.2,106.4 171.8,107.4 171.3,108.4 170.9,109.4 170.5,110.7 170.0,112.0 169.6,113.3 168.6,114.4 167.6,115.5 166.7,116.6 167.0,117.8 167.3,119.1 167.2,120.6 167.1,122.1 165.9,122.2 164.6,122.3 163.4,122.3 162.1,122.4 160.9,122.4 159.6,122.5 158.3,122.5 157.1,122.6 155.8,122.6 154.6,122.6 153.3,122.7 152.1,122.7 152.0,121.6 152.0,120.4 152.0,119.3 150.8,119.1 149.7,118.8 149.7,117.2 149.7,115.6 149.7,114.0 149.7,112.4 149.7,110.9 149.8,109.3 149.8,107.7 149.6,106.3 149.3,104.9 149.1,103.5 148.9,102.1Z"/>
<path fill="#d1ed00" d="M152.1,122.7 153.3,122.7 154.6,122.6 155.8,122.6 157.1,122.6 158.3,122.5 159.6,122.5 160.9,122.4 162.1,122.4 163.4,122.3 164.6,122.3 165.9,122.2 167.1,122.1 167.6,123.5 168.1,124.8 167.9,125.7 167.7,126.7 167.2,128.0 166.8,129.3 166.3,130.9 165.8,132.5 165.5,133.7 165.2,135.0 166.5,135.0 167.8,134.9 169.1,134.8 170.3,134.8 171.6,134.7 172.9,134.6 174.2,134.5 175.5,134.5 175.9,135.7 176.3,136.9 176.6,138.2 176.9,139.4 176.0,140.1 176.8,140.4 177.7,140.6 178.2,141.9 178.7,143.1 179.4,144.3 180.2,145.5 179.2,146.2 178.1,146.9 176.9,146.0 175.8,145.2 174.7,145.9 173.7,146.6 172.6,146.6 171.5,146.7 170.4,146.7 169.0,146.2 167.6,145.6 166.2,145.1 164.8,144.5 163.4,144.4 162.0,144.3 160.8,144.0 159.5,143.7 158.3,143.3 157.0,143.0 155.9,143.2 154.7,143.4 153.6,143.6 153.8,142.4 154.0,141.1 154.2,139.8 154.5,138.3 154.7,136.9 154.9,135.4 154.5,134.1 154.0,132.9 153.5,131.6 152.8,130.4 152.2,129.1 152.2,127.8 152.1,126.6 152.1,125.3 152.1,124.0Z"/>
<path fill="#d1ed00" d="M166.5,61.9 165.5,61.2 164.5,60.4 164.1,59.4 163.7,58.3 163.6,57.0 163.5,55.7 163.3,54.6 163.0,53.6 162.1,52.8 161.2,52.0 160.2,51.2 159.3,50.4 158.4,49.7 157.2,48.9 156.1,48.2 156.2,47.0 156.2,45.9 155.9,44.7 155.5,43.4 156.3,42.2 157.2,40.9 158.0,39.6 157.9,38.4 157.9,37.3 157.8,36.1 158.7,35.5 159.7,35.2 160.6,34.9 161.6,34.6 162.5,34.4 163.4,34.5 164.3,34.6 165.2,35.4 166.1,36.2 166.8,37.0 167.5,37.8 168.5,38.0 169.4,38.1 170.4,38.2 171.4,38.3 172.4,38.5 173.4,38.7 174.4,38.9 175.4,39.2 176.4,39.4 176.9,40.5 177.4,41.6 178.0,42.7 178.5,43.7 179.0,44.6 178.7,45.5 178.3,46.5 177.8,47.5 177.4,48.5 178.0,47.8 178.6,47.1 179.3,46.4 180.0,45.6 181.0,44.2 182.0,42.7 181.5,43.9 181.1,45.0 180.3,46.7 180.1,47.6 179.8,48.6 179.6,49.7 179.4,50.9 179.3,52.0 179.3,53.1 179.2,54.6 179.0,56.1 178.8,57.6 179.1,58.7 179.3,59.9 179.6,61.0 178.5,61.1 177.4,61.2 176.3,61.3 175.2,61.3 174.1,61.4 173.0,61.5 171.9,61.6 170.9,61.7 169.8,61.7 168.7,61.8 167.6,61.9Z"/>
<path fill="#78cd00" d="M166.5,61.9 167.6,61.9 168.7,61.8 169.8,61.7 170.9,61.7 171.9,61.6 173.0,61.5 174.1,61.4 175.2,61.3 176.3,61.3 177.4,61.2 178.5,61.1 179.6,61.0 180.0,62.5 180.5,64.1 180.9,65.0 181.2,65.9 181.4,67.4 181.5,68.9 181.6,70.4 181.8,71.9 181.9,73.4 182.0,74.8 182.2,76.3 182.3,77.8 182.4,79.3 182.6,80.8 182.4,82.4 182.7,83.6 183.1,84.9 182.2,86.2 181.4,87.6 181.2,89.2 181.0,90.8 180.5,91.5 179.8,92.6 179.0,93.7 178.8,94.7 178.5,95.6 177.3,96.1 176.1,96.6 175.9,96.3 174.9,95.4 174.0,94.5 173.4,93.1 172.8,91.7 171.8,90.9 170.7,90.0 169.7,89.1 169.9,87.8 170.0,86.5 170.0,85.6 169.9,84.6 168.7,84.0 167.4,83.5 166.1,82.0 164.8,80.4 164.1,79.2 163.3,78.0 163.4,76.8 163.5,75.5 164.3,74.5 165.0,73.4 165.1,71.8 165.3,70.2 166.2,69.2 167.0,68.2 167.9,67.2 168.8,66.2 168.5,65.0 168.2,63.7 167.3,62.8Z"/>
<path fill="#d1ed00" d="M184.5,65.3 185.6,65.2 186.6,65.1 187.6,65.1 188.7,65.0 189.7,64.9 190.8,64.9 191.8,64.8 192.9,64.7 193.9,64.6 194.9,64.5 196.0,64.3 197.0,64.2 198.1,64.0 199.1,63.8 200.1,63.7 200.6,62.6 201.0,61.5 201.2,60.6 201.5,59.6 202.2,59.0 203.0,58.3 203.7,57.6 203.7,56.3 203.7,55.0 203.4,53.8 203.0,52.6 202.6,51.4 202.0,49.9 201.1,49.3 200.2,48.8 199.4,49.6 198.6,50.3 197.6,51.3 196.6,52.2 197.0,50.7 197.4,49.3 197.8,47.9 198.1,46.4 198.3,44.9 197.9,43.9 197.5,42.8 196.5,41.8 195.5,40.7 194.5,40.4 193.5,40.0 192.4,39.7 191.8,39.3 191.2,39.0 190.4,39.2 189.6,39.4 189.9,40.4 190.3,41.5 189.7,41.9 189.0,42.3 188.4,42.7 187.7,43.1 187.8,44.2 188.0,45.2 187.0,45.2 186.0,45.1 185.7,46.1 185.3,47.1 185.2,48.5 185.0,49.9 184.8,51.3 185.2,52.8 185.6,54.3 186.0,55.8 186.3,57.1 186.7,58.5 186.7,59.7 186.6,61.0 186.3,62.0 185.9,63.0 185.2,64.1ZM166.1,36.2 166.8,37.0 167.5,37.8 168.5,38.0 169.4,38.1 170.4,38.2 171.4,38.3 172.4,38.5 173.4,38.7 174.4,38.9 175.4,39.2 176.4,39.4 176.9,40.5 177.4,41.6 178.0,42.7 178.5,43.7 179.0,44.6 179.7,43.1 180.4,41.7 181.1,40.3 182.1,40.6 183.1,41.0 183.8,39.8 184.4,38.7 185.5,38.4 186.6,38.2 187.7,38.0 188.8,38.2 189.9,38.3 191.0,38.4 192.1,38.0 193.2,37.6 194.2,37.2 195.0,36.8 195.9,36.4 194.7,35.7 193.5,35.0 192.3,34.3 191.3,34.7 190.4,33.8 189.5,32.9 188.6,33.2 187.8,33.4 186.9,33.6 186.0,33.8 185.2,34.0 184.2,34.7 183.3,35.3 182.4,35.9 181.3,35.7 180.3,35.6 179.2,35.4 178.4,34.6 177.6,33.8 176.5,33.5 175.4,33.2 176.2,31.6 176.7,30.0 175.9,30.6 175.1,31.3 174.4,31.9 173.6,32.4 172.7,32.9 171.7,33.5 170.7,34.1 169.8,34.5 168.9,34.9 168.0,35.4 167.0,35.8Z"/>
<path fill="#78cd00" d="M181.2,65.9 182.3,65.7 183.4,65.5 184.5,65.3 185.6,65.2 186.6,65.1 187.6,65.1 188.7,65.0 189.7,64.9 190.8,64.9 191.8,64.8 192.9,64.7 193.9,64.6 194.1,66.1 194.2,67.6 194.4,69.1 194.6,70.6 194.7,72.1 194.9,73.6 195.1,75.1 195.2,76.6 195.4,78.0 195.6,79.5 195.7,81.0 195.4,82.2 195.1,83.3 194.2,83.5 193.2,83.7 192.5,85.2 191.8,86.8 191.3,87.7 190.8,88.6 189.6,88.9 188.4,89.2 187.5,89.7 186.5,90.1 185.6,90.6 184.4,90.1 183.3,89.7 182.1,90.2 181.0,90.8 181.2,89.2 181.4,87.6 182.2,86.2 183.1,84.9 182.7,83.6 182.4,82.4 182.6,80.8 182.4,79.3 182.3,77.8 182.2,76.3 182.0,74.8 181.9,73.4 181.8,71.9 181.6,70.4 181.5,68.9 181.4,67.4Z"/>
<path fill="#d1ed00" d="M193.9,64.6 194.9,64.5 196.0,64.3 197.0,64.2 198.1,64.0 199.1,63.8 200.1,63.7 201.2,63.9 202.3,64.2 203.1,64.6 203.8,64.9 204.9,64.7 206.0,64.4 207.0,64.2 207.7,64.1 208.4,64.0 209.4,63.1 210.4,62.2 211.3,61.3 212.3,60.7 213.4,60.1 213.6,61.5 213.8,62.9 214.1,64.3 214.3,65.7 214.5,67.1 214.8,68.5 214.6,70.0 214.6,71.3 214.6,72.6 214.4,73.6 214.2,74.6 213.5,75.7 212.8,76.8 211.7,77.6 210.6,78.4 210.3,79.7 209.7,80.5 209.1,81.2 208.8,82.5 207.9,83.2 207.0,83.9 205.9,83.1 204.8,82.2 203.7,82.6 202.6,83.0 201.5,83.3 200.7,82.9 199.9,82.4 198.6,81.6 197.3,80.8 196.5,80.9 195.7,81.0 195.6,79.5 195.4,78.0 195.2,76.6 195.1,75.1 194.9,73.6 194.7,72.1 194.6,70.6 194.4,69.1 194.2,67.6 194.1,66.1Z"/>
<path fill="#d1ed00" d="M174.8,99.6 175.8,98.9 176.0,97.7 176.1,96.6 177.3,96.1 178.5,95.6 178.8,94.7 179.0,93.7 179.8,92.6 180.5,91.5 181.0,90.8 182.1,90.2 183.3,89.7 184.4,90.1 185.6,90.6 186.5,90.1 187.5,89.7 188.4,89.2 189.6,88.9 190.8,88.6 191.3,87.7 191.8,86.8 192.5,85.2 193.2,83.7 194.2,83.5 195.1,83.3 195.4,82.2 195.7,81.0 196.5,80.9 197.3,80.8 198.6,81.6 199.9,82.4 200.7,82.9 201.5,83.3 202.6,83.0 203.7,82.6 204.8,82.2 205.9,83.1 207.0,83.9 207.2,85.5 208.4,86.7 209.6,87.9 210.9,89.0 209.9,90.1 209.0,91.1 207.9,92.2 206.8,93.2 205.9,93.9 205.0,94.7 204.2,95.4 203.3,96.1 202.1,96.2 201.0,96.4 199.8,96.5 198.6,96.6 197.5,96.7 196.3,96.8 195.2,96.9 194.0,97.1 192.9,97.2 191.7,97.3 190.6,97.4 189.4,97.4 188.3,97.5 187.2,97.6 186.0,97.7 184.9,97.7 183.8,97.8 182.6,97.9 181.5,97.9 181.6,99.1 180.5,99.1 179.3,99.2 178.2,99.3 177.1,99.4 176.0,99.5Z"/>
<path fill="#ff6600" d="M170.9,109.4 171.3,108.4 171.8,107.4 172.2,106.4 172.7,105.4 173.1,104.1 173.5,102.8 173.9,101.9 174.2,100.9 174.8,99.6 176.0,99.5 177.1,99.4 178.2,99.3 179.3,99.2 180.5,99.1 181.6,99.1 181.5,97.9 182.6,97.9 183.8,97.8 184.9,97.7 186.0,97.7 187.2,97.6 188.3,97.5 189.4,97.4 190.6,97.4 191.7,97.3 192.9,97.2 194.0,97.1 195.2,96.9 196.3,96.8 197.5,96.7 198.6,96.6 199.8,96.5 201.0,96.4 202.1,96.2 203.3,96.1 204.5,95.9 205.7,95.8 207.0,95.6 208.2,95.5 209.5,95.3 210.7,95.1 211.9,94.9 213.2,94.8 212.6,96.3 212.0,97.8 211.1,98.3 210.1,98.9 209.2,99.5 208.0,100.3 206.9,101.1 205.9,101.8 205.0,102.5 203.8,102.9 202.6,103.2 201.9,104.1 201.2,105.0 201.3,105.8 201.3,106.7 200.3,106.8 199.2,106.9 198.1,107.0 197.0,107.1 195.9,107.2 194.8,107.3 193.6,107.5 192.4,107.6 191.2,107.7 190.0,107.8 188.8,108.0 187.6,108.1 186.4,108.2 185.2,108.3 184.0,108.4 182.8,108.5 181.6,108.6 180.4,108.7 179.2,108.8 178.0,108.9 176.8,109.0 175.7,109.1 174.5,109.1 173.3,109.2 172.1,109.3Z"/>
<path fill="#ffcc00" d="M170.9,109.4 172.1,109.3 173.3,109.2 174.5,109.1 175.7,109.1 176.8,109.0 178.0,108.9 179.2,108.8 180.4,108.7 181.6,108.6 181.6,110.1 181.6,111.7 181.7,113.2 181.7,114.7 181.7,116.2 181.7,117.7 181.7,119.3 181.7,120.8 181.7,122.3 181.7,123.8 181.8,125.3 181.8,126.8 181.8,128.4 182.0,129.9 182.1,131.5 182.3,133.0 182.5,134.6 182.7,136.2 182.9,137.7 181.8,137.8 180.7,137.9 179.7,138.0 178.7,138.4 177.8,138.9 176.9,139.4 176.6,138.2 176.3,136.9 175.9,135.7 175.5,134.5 174.2,134.5 172.9,134.6 171.6,134.7 170.3,134.8 169.1,134.8 167.8,134.9 166.5,135.0 165.2,135.0 165.5,133.7 165.8,132.5 166.3,130.9 166.8,129.3 167.2,128.0 167.7,126.7 167.9,125.7 168.1,124.8 167.6,123.5 167.1,122.1 167.2,120.6 167.3,119.1 167.0,117.8 166.7,116.6 167.6,115.5 168.6,114.4 169.6,113.3 170.0,112.0 170.5,110.7Z"/>
<path fill="#ffcc00" d="M181.6,108.6 182.8,108.5 184.0,108.4 185.2,108.3 186.4,108.2 187.6,108.1 188.8,108.0 190.0,107.8 191.2,107.7 192.4,107.6 193.6,107.5 194.8,107.3 195.2,108.8 195.6,110.3 196.0,111.7 196.4,113.2 196.8,114.7 197.3,116.1 197.7,117.6 198.1,119.1 198.5,120.5 199.1,121.6 199.7,122.7 199.9,124.3 200.1,125.9 200.0,127.5 199.9,129.1 200.3,130.6 200.8,132.2 199.5,132.3 198.3,132.4 197.0,132.6 195.7,132.7 194.5,132.8 193.2,133.0 191.9,133.1 190.7,133.2 189.4,133.3 188.1,133.5 186.9,133.6 187.2,135.0 187.5,136.5 187.8,137.9 186.7,138.2 185.7,138.4 185.3,137.0 184.9,135.6 184.7,136.8 184.5,137.9 183.7,137.8 182.9,137.7 182.7,136.2 182.5,134.6 182.3,133.0 182.1,131.5 182.0,129.9 181.8,128.4 181.8,126.8 181.8,125.3 181.7,123.8 181.7,122.3 181.7,120.8 181.7,119.3 181.7,117.7 181.7,116.2 181.7,114.7 181.7,113.2 181.6,111.7 181.6,110.1Z"/>
<path fill="#ffcc00" d="M194.8,107.3 195.9,107.2 197.0,107.1 198.1,107.0 199.2,106.9 200.3,106.8 201.3,106.7 202.6,106.5 203.8,106.3 205.0,106.1 206.3,106.0 207.5,105.8 207.0,106.8 206.5,107.8 207.5,108.3 208.5,108.8 209.6,109.3 210.5,110.5 211.4,111.6 212.6,112.6 213.8,113.5 214.9,114.8 216.0,116.1 216.8,117.3 217.6,118.4 218.4,119.6 219.5,120.6 220.5,121.6 221.6,122.6 221.2,124.1 220.7,125.6 220.3,127.3 219.9,128.9 219.9,130.2 220.0,131.5 219.0,132.1 218.0,132.6 217.0,133.2 216.1,132.9 214.8,133.0 213.5,133.1 212.2,133.2 210.9,133.3 209.6,133.4 208.3,133.5 207.0,133.6 205.7,133.7 204.4,133.8 203.1,133.9 201.8,133.9 201.3,133.1 200.8,132.2 200.3,130.6 199.9,129.1 200.0,127.5 200.1,125.9 199.9,124.3 199.7,122.7 199.1,121.6 198.5,120.5 198.1,119.1 197.7,117.6 197.3,116.1 196.8,114.7 196.4,113.2 196.0,111.7 195.6,110.3 195.2,108.8Z"/>
<path fill="#d1ed00" d="M186.9,133.6 188.1,133.5 189.4,133.3 190.7,133.2 191.9,133.1 193.2,133.0 194.5,132.8 195.7,132.7 197.0,132.6 198.3,132.4 199.5,132.3 200.8,132.2 201.3,133.1 201.8,133.9 203.1,133.9 204.4,133.8 205.7,133.7 207.0,133.6 208.3,133.5 209.6,133.4 210.9,133.3 212.2,133.2 213.5,133.1 214.8,133.0 216.1,132.9 217.0,133.2 218.0,132.6 219.0,132.1 220.0,131.5 220.5,132.9 221.0,134.3 221.5,135.7 222.1,136.9 222.7,138.1 223.3,139.3 223.9,140.4 224.8,141.8 225.8,143.1 226.8,144.4 227.1,146.0 227.5,147.5 228.4,148.9 229.3,150.4 230.2,151.8 231.0,153.2 231.4,154.8 231.8,156.3 232.0,157.7 232.1,159.2 232.3,160.6 231.8,162.3 231.4,163.9 230.5,164.6 229.6,165.2 228.4,165.5 227.3,165.7 226.6,164.3 226.0,162.9 224.6,162.2 223.2,161.5 222.4,160.0 221.6,158.5 220.5,157.4 219.5,156.3 218.6,155.2 217.7,154.1 216.8,152.9 216.0,151.5 215.2,150.0 215.3,148.7 215.4,147.4 215.5,146.1 215.2,144.9 214.9,143.7 213.7,142.9 212.5,142.1 211.4,141.0 210.3,139.9 209.2,138.7 207.8,138.0 206.3,137.2 205.5,137.6 204.8,138.0 203.8,138.9 202.8,139.8 201.8,140.6 200.8,140.6 199.8,140.5 199.6,139.6 199.4,138.7 198.2,138.1 197.0,137.4 195.9,136.8 194.5,136.8 193.1,136.8 191.8,137.1 190.5,137.4 189.1,137.6 187.8,137.9 187.5,136.5 187.2,135.0Z"/>
<path fill="#ffcc00" d="M231.8,109.3 230.3,108.1 228.7,106.9 227.5,106.1 226.2,105.2 224.9,104.4 223.8,104.6 222.7,104.7 221.6,104.9 220.4,105.0 219.3,105.2 219.1,104.3 218.8,103.5 217.7,103.3 216.5,103.5 215.2,103.6 213.9,103.7 212.6,103.8 211.4,104.0 210.4,104.4 209.4,104.9 208.5,105.3 207.5,105.8 207.0,106.8 206.5,107.8 207.5,108.3 208.5,108.8 209.6,109.3 210.5,110.5 211.4,111.6 212.6,112.6 213.8,113.5 214.9,114.8 216.0,116.1 216.8,117.3 217.6,118.4 218.4,119.6 219.5,120.6 220.5,121.6 221.6,122.6 222.2,121.7 222.9,120.8 224.0,119.8 225.1,118.7 226.1,117.7 227.3,116.5 228.4,115.4 228.7,114.3 229.1,113.3 230.0,112.0 230.9,110.6Z"/>
<path fill="#ff0000" d="M201.3,106.7 201.3,105.8 201.2,105.0 201.9,104.1 202.6,103.2 203.8,102.9 205.0,102.5 205.9,101.8 206.9,101.1 208.0,100.3 209.2,99.5 210.1,98.9 211.1,98.3 212.0,97.8 212.6,96.3 213.2,94.8 214.4,94.6 215.6,94.4 216.8,94.2 218.0,94.1 219.2,93.9 220.4,93.7 221.6,93.5 222.8,93.3 224.0,93.1 225.2,92.9 226.4,92.7 227.5,92.5 228.7,92.3 229.9,92.1 231.1,91.9 232.3,91.6 233.5,91.4 234.7,91.2 235.9,91.0 237.1,90.7 238.3,90.5 239.5,90.3 240.6,90.0 241.8,89.8 241.9,90.9 241.9,92.1 242.6,93.0 243.4,94.0 242.4,95.5 241.7,96.5 241.0,97.4 242.1,98.8 241.2,99.7 240.3,100.5 240.1,101.8 239.1,102.4 238.2,102.9 237.3,103.8 236.5,104.7 235.6,105.6 235.2,107.2 234.9,108.7 233.8,108.9 232.8,109.1 231.8,109.3 230.3,108.1 228.7,106.9 227.5,106.1 226.2,105.2 224.9,104.4 223.8,104.6 222.7,104.7 221.6,104.9 220.4,105.0 219.3,105.2 219.1,104.3 218.8,103.5 217.7,103.3 216.5,103.5 215.2,103.6 213.9,103.7 212.6,103.8 211.4,104.0 210.4,104.4 209.4,104.9 208.5,105.3 207.5,105.8 206.3,106.0 205.0,106.1 203.8,106.3 202.6,106.5Z"/>
<path fill="#ff6600" d="M203.3,96.1 204.5,95.9 205.7,95.8 207.0,95.6 208.2,95.5 209.5,95.3 210.7,95.1 211.9,94.9 213.2,94.8 214.4,94.6 215.6,94.4 216.8,94.2 218.0,94.1 219.2,93.9 220.4,93.7 221.6,93.5 222.8,93.3 224.0,93.1 225.2,92.9 226.4,92.7 227.5,92.5 228.7,92.3 229.9,92.1 231.1,91.9 232.3,91.6 233.5,91.4 234.7,91.2 235.9,91.0 237.1,90.7 238.3,90.5 239.5,90.3 240.6,90.0 241.8,89.8 241.4,88.7 241.0,87.7 240.1,87.7 239.2,87.8 238.4,86.3 238.4,85.2 238.4,84.0 238.2,82.9 238.0,81.8 237.8,80.9 237.0,80.8 236.2,80.6 235.1,80.3 234.1,80.0 232.6,78.7 232.9,77.7 233.2,76.7 232.3,76.2 231.5,75.7 230.7,75.2 229.4,74.4 229.2,75.5 228.4,76.0 227.6,76.5 226.8,76.9 225.8,78.1 225.2,79.2 224.7,80.2 223.8,80.9 222.9,81.5 222.1,81.8 221.3,82.1 221.1,83.3 221.0,84.4 220.1,85.9 219.2,87.3 219.1,88.3 218.2,88.7 217.4,89.0 216.5,89.4 215.7,89.8 214.9,90.3 214.0,90.6 213.0,90.9 211.9,89.9 210.9,89.0 209.9,90.1 209.0,91.1 207.9,92.2 206.8,93.2 205.9,93.9 205.0,94.7 204.2,95.4ZM241.0,80.9 241.9,80.4 242.8,79.9 242.4,81.2 242.0,82.4 241.6,83.7 241.1,84.9 240.5,86.2 240.5,84.7 240.5,83.2 240.8,82.1Z"/>
<path fill="#ffcc00" d="M214.8,68.5 215.0,69.9 215.2,71.4 215.5,72.8 215.7,74.2 216.7,74.1 217.7,73.9 218.7,73.7 219.6,73.6 220.6,73.4 220.8,74.5 221.0,75.6 221.2,76.7 222.2,75.7 223.2,74.7 224.0,73.6 225.0,73.3 226.1,73.0 227.0,73.3 227.9,73.5 228.6,73.9 229.4,74.4 229.2,75.5 228.4,76.0 227.6,76.5 226.8,76.9 225.8,78.1 225.2,79.2 224.7,80.2 223.8,80.9 222.9,81.5 222.1,81.8 221.3,82.1 221.1,83.3 221.0,84.4 220.1,85.9 219.2,87.3 219.1,88.3 218.2,88.7 217.4,89.0 216.5,89.4 215.7,89.8 214.9,90.3 214.0,90.6 213.0,90.9 211.9,89.9 210.9,89.0 209.6,87.9 208.4,86.7 207.2,85.5 207.0,83.9 207.9,83.2 208.8,82.5 209.1,81.2 209.7,80.5 210.3,79.7 210.6,78.4 211.7,77.6 212.8,76.8 213.5,75.7 214.2,74.6 214.4,73.6 214.6,72.6 214.6,71.3 214.6,70.0Z"/>
<path fill="#ffcc00" d="M213.4,60.1 214.3,59.4 215.1,58.7 215.8,58.2 216.6,57.7 216.7,58.5 216.8,59.4 218.0,59.2 219.1,59.0 220.2,58.8 221.3,58.6 222.4,58.4 223.5,58.2 224.7,58.0 225.8,57.7 226.9,57.5 228.0,57.3 229.1,57.1 230.2,56.9 231.3,56.6 232.4,56.4 233.6,56.2 234.7,55.9 235.8,55.7 236.9,55.5 237.6,55.9 238.3,56.4 238.8,57.3 239.2,58.2 240.0,58.5 240.8,58.8 240.2,60.4 239.6,62.0 239.6,63.0 239.5,64.0 240.5,65.0 241.4,65.7 242.2,66.3 241.6,67.1 240.9,67.9 240.3,68.5 239.7,69.1 238.8,69.6 238.0,70.0 236.8,70.3 235.7,70.5 234.5,70.8 233.4,71.0 232.2,71.2 231.1,71.5 229.9,71.7 228.7,71.9 227.6,72.1 226.4,72.4 225.3,72.6 224.1,72.8 222.9,73.0 221.8,73.2 220.6,73.4 219.6,73.6 218.7,73.7 217.7,73.9 216.7,74.1 215.7,74.2 215.5,72.8 215.2,71.4 215.0,69.9 214.8,68.5 214.5,67.1 214.3,65.7 214.1,64.3 213.8,62.9 213.6,61.5Z"/>
<path fill="#ffcc00" d="M216.6,57.7 217.3,56.8 218.0,55.9 218.7,55.0 219.5,54.1 219.8,53.1 219.2,52.0 218.7,51.0 219.5,50.6 220.2,50.2 221.0,49.8 222.1,49.8 223.1,49.8 224.1,49.8 225.2,49.8 226.1,49.5 226.9,49.3 227.8,49.0 228.7,48.8 229.7,47.9 230.7,47.1 230.6,45.6 230.5,44.2 229.8,42.7 230.7,41.7 231.6,40.7 232.5,39.3 233.3,37.8 234.1,37.3 234.9,36.8 235.7,36.3 236.7,36.1 237.6,35.8 238.6,35.6 239.6,35.3 240.6,35.1 241.5,34.8 241.8,36.1 242.1,37.4 242.3,38.6 242.6,39.9 242.8,41.1 243.3,42.3 243.8,43.5 244.1,43.7 244.4,44.9 244.7,46.2 244.9,47.4 245.2,48.6 245.2,50.2 245.2,51.7 245.2,53.2 245.6,54.7 245.9,56.1 246.3,57.6 246.6,59.1 246.1,59.9 245.4,61.0 244.9,60.1 243.8,59.8 242.8,59.5 241.8,59.1 240.8,58.8 240.0,58.5 239.2,58.2 238.8,57.3 238.3,56.4 237.6,55.9 236.9,55.5 235.8,55.7 234.7,55.9 233.6,56.2 232.4,56.4 231.3,56.6 230.2,56.9 229.1,57.1 228.0,57.3 226.9,57.5 225.8,57.7 224.7,58.0 223.5,58.2 222.4,58.4 221.3,58.6 220.2,58.8 219.1,59.0 218.0,59.2 216.8,59.4 216.7,58.5ZM245.1,62.8 245.6,62.8 246.6,62.3 247.6,61.9 248.5,61.4 249.5,61.0 250.5,60.1 251.5,59.3 252.5,58.4 253.5,57.5 252.6,57.8 251.7,58.1 250.9,58.6 250.0,59.0 249.2,59.4 248.1,59.9 247.1,60.4 246.1,60.8 245.2,62.0Z"/>
<path fill="#ffcc00" d="M250.8,30.6 251.9,30.8 252.3,29.2 252.7,27.6 253.1,26.1 253.1,24.8 253.1,23.5 253.1,22.2 253.0,20.9 253.5,19.5 254.0,18.1 254.5,16.8 254.9,15.4 255.9,15.3 256.9,15.2 257.9,15.0 258.9,14.9 260.2,15.4 261.5,16.0 261.9,17.3 262.4,18.6 262.8,20.0 263.2,21.3 263.6,22.7 264.6,23.5 265.7,24.3 266.8,25.7 267.9,27.0 269.0,28.3 268.2,29.6 267.5,31.0 266.7,31.6 266.0,32.2 265.2,32.7 264.4,33.3 263.2,33.2 262.0,33.0 261.3,34.4 260.7,35.8 260.0,37.2 259.1,38.1 258.3,39.0 257.4,39.9 257.0,41.2 256.5,42.4 256.1,43.7 255.3,42.5 254.4,41.1 253.6,39.6 253.2,38.2 252.9,36.8 252.5,35.4 252.1,34.2 251.7,33.0 251.2,31.8Z"/>
<path fill="#ffcc00" d="M249.5,32.8 250.1,31.7 250.8,30.6 251.2,31.8 251.7,33.0 252.1,34.2 252.5,35.4 252.9,36.8 253.2,38.2 253.6,39.6 254.4,41.1 255.3,42.5 256.1,43.7 256.0,45.1 255.0,45.9 254.1,46.7 253.0,47.0 252.0,47.2 250.9,47.4 249.9,47.6 248.9,47.9 248.6,46.4 248.4,44.9 248.2,43.3 248.1,41.7 248.1,40.4 248.2,39.1 248.2,37.8 249.0,36.9 249.9,36.1 249.7,35.0 249.6,33.9Z"/>
<path fill="#d1ed00" d="M241.5,34.8 242.5,34.6 243.5,34.4 244.5,34.1 245.5,33.9 246.5,33.6 247.5,33.4 248.5,33.1 249.5,32.8 249.6,33.9 249.7,35.0 249.9,36.1 249.0,36.9 248.2,37.8 248.2,39.1 248.1,40.4 248.1,41.7 248.2,43.3 248.4,44.9 248.6,46.4 248.9,47.9 248.0,48.1 247.0,48.3 246.1,48.5 245.2,48.6 244.9,47.4 244.7,46.2 244.4,44.9 244.1,43.7 243.8,43.5 243.3,42.3 242.8,41.1 242.6,39.9 242.3,38.6 242.1,37.4 241.8,36.1Z"/>
<path fill="#ff0000" d="M245.2,53.2 245.2,51.7 245.2,50.2 245.2,48.6 246.1,48.5 247.0,48.3 248.0,48.1 248.9,47.9 249.9,47.6 250.9,47.4 252.0,47.2 253.0,47.0 254.1,46.7 255.0,45.9 256.0,45.1 257.3,46.2 256.7,47.5 256.1,48.8 257.1,49.7 258.2,50.5 259.0,51.5 259.8,51.3 260.6,51.1 261.5,50.9 261.1,50.1 260.7,49.2 261.3,50.3 261.8,51.4 261.1,51.8 260.3,52.3 259.5,52.8 258.6,52.9 257.7,53.0 256.8,53.9 256.1,52.7 255.5,51.9 254.8,51.0 253.9,51.3 252.9,51.5 251.8,51.8 250.7,52.0 249.6,52.3 248.5,52.5 247.4,52.7 246.3,53.0Z"/>
<path fill="#ffffff" d="M245.2,53.2 246.3,53.0 247.4,52.7 248.5,52.5 249.6,52.3 250.7,52.0 251.8,51.8 252.9,51.5 253.2,53.0 253.5,54.4 253.8,55.8 252.9,56.2 251.9,56.5 250.9,56.9 249.9,57.4 248.8,57.9 247.9,58.5 247.0,59.2 246.1,59.9 246.6,59.1 246.3,57.6 245.9,56.1 245.6,54.7Z"/>
<path fill="#ffffff" d="M254.8,51.0 253.9,51.3 252.9,51.5 253.2,53.0 253.5,54.4 253.8,55.8 254.6,55.5 255.3,55.1 256.1,54.5 256.8,53.9 256.1,52.7 255.5,51.9Z"/>
<path fill="#ff0000" d="M240.8,58.8 241.8,59.1 242.8,59.5 243.8,59.8 244.9,60.1 244.9,61.1 244.9,62.1 244.1,63.6 245.4,63.9 245.5,65.2 245.7,66.5 245.8,68.1 245.0,69.7 244.1,71.4 243.6,72.7 243.0,74.0 241.8,73.0 240.6,71.9 239.3,70.5 239.7,69.1 240.3,68.5 240.9,67.9 241.6,67.1 242.2,66.3 241.4,65.7 240.5,65.0 239.5,64.0 239.6,63.0 239.6,62.0 240.2,60.4Z"/>
<path fill="#ff6600" d="M238.0,70.0 238.8,69.6 239.7,69.1 239.0,70.6 239.7,71.6 240.5,72.5 241.5,73.8 242.5,75.0 242.8,76.1 243.2,77.1 242.2,77.4 241.1,77.6 240.1,77.8 239.8,76.5 239.4,75.2 239.0,73.9 238.7,72.6 238.3,71.3Z"/>
<path fill="#ff6600" d="M220.6,73.4 221.8,73.2 222.9,73.0 224.1,72.8 225.3,72.6 226.4,72.4 227.6,72.1 228.7,71.9 229.9,71.7 231.1,71.5 232.2,71.2 233.4,71.0 234.5,70.8 235.7,70.5 236.8,70.3 238.0,70.0 238.3,71.3 238.7,72.6 239.0,73.9 239.4,75.2 239.8,76.5 240.1,77.8 241.1,77.6 242.2,77.4 243.2,77.1 243.0,78.5 242.8,79.9 241.9,80.4 241.0,80.9 240.0,80.1 238.9,79.4 238.0,78.4 237.1,77.5 237.0,76.2 237.0,74.9 236.9,73.5 236.9,72.0 236.3,72.9 235.8,73.9 235.8,74.8 235.7,75.8 236.3,77.3 236.8,78.8 237.3,79.9 237.8,80.9 237.0,80.8 236.2,80.6 235.1,80.3 234.1,80.0 232.6,78.7 232.9,77.7 233.2,76.7 232.3,76.2 231.5,75.7 230.7,75.2 229.4,74.4 228.6,73.9 227.9,73.5 227.0,73.3 226.1,73.0 225.0,73.3 224.0,73.6 223.2,74.7 222.2,75.7 221.2,76.7 221.0,75.6 220.8,74.5Z"/>
<path fill="#bbb" d="M16.7,100.0 19.0,100.4 21.4,101.2 19.3,101.3 17.3,100.8Z"/>
<path fill="#bbb" d="M25.1,105.9 26.4,107.0 25.6,107.2Z"/>
<path fill="#bbb" d="M24.4,108.6 24.8,110.2 24.8,109.3Z"/>
<path fill="#bbb" d="M258.1,53.8 260.0,53.6 259.4,54.1Z"/>
<path fill="#bbb" d="M261.3,53.8 262.5,53.9 261.9,54.1Z"/>
</g>
<g fill="none" stroke="#777" stroke-width="0.6" stroke-linecap="round">
<path d="M231.4,164.2 230.3,166.3 228.3,168.1 225.5,169.2 223.8,169.8"/>
<path d="M241.8,89.8 242.9,91.8 244.5,94.1 245.6,97.4 244.3,98.5 242.8,100.0 241.5,102.2 239.9,102.3"/>
<path d="M170.5,27.9 173.8,25.6"/>
</g>
<g font-size="5.4" fill="#222" text-anchor="middle" fill-opacity="0.62">
<text x="41.1" y="20.3">WA</text>
<text x="31.0" y="40.9">OR</text>
<text x="56.4" y="44.3">ID</text>
<text x="84.6" y="31.7">MT</text>
<text x="89.2" y="58.2">WY</text>
<text x="42.7" y="73.7">NV</text>
<text x="23.2" y="83.9">CA</text>
<text x="66.9" y="78.3">UT</text>
<text x="95.5" y="84.5">CO</text>
<text x="61.5" y="110.3">AZ</text>
<text x="90.6" y="112.7">NM</text>
<text x="122.7" y="32.6">ND</text>
<text x="123.2" y="51.6">SD</text>
<text x="147.8" y="40.5">MN</text>
<text x="169.7" y="51.6">WI</text>
<text x="190.4" y="53.6">MI</text>
<text x="180.0" y="41.3">MI</text>
<text x="126.9" y="70.0">NE</text>
<text x="153.7" y="67.1">IA</text>
<text x="173.0" y="79.0">IL</text>
<text x="188.4" y="78.5">IN</text>
<text x="130.5" y="89.4">KS</text>
<text x="157.5" y="89.9">MO</text>
<text x="135.1" y="108.1">OK</text>
<text x="159.1" y="112.1">AR</text>
<text x="188.8" y="104.1">TN</text>
<text x="175.1" y="123.2">MS</text>
<text x="189.0" y="122.7">AL</text>
<text x="160.6" y="135.8">LA</text>
<text x="123.4" y="133.6">TX</text>
<text x="238.3" y="51.5">NY</text>
<text x="226.8" y="66.4">PA</text>
<text x="204.4" y="74.0">OH</text>
<text x="259.0" y="28.2">ME</text>
<text x="252.3" y="50.5">MA</text>
<text x="228.4" y="88.5">VA</text>
<text x="225.5" y="100.7">NC</text>
<text x="198.4" y="92.5">KY</text>
<text x="215.0" y="83.2">WV</text>
<text x="221.7" y="112.7">SC</text>
<text x="209.5" y="122.5">GA</text>
<text x="220.4" y="146.2">FL</text>
<text x="246.6" y="42.7">VT</text>
<text x="251.4" y="42.6">NH</text>
<text x="249.9" y="57.7">CT</text>
<text x="256.0" y="57.1">RI</text>
</g>
<text x="8.6" y="142.5" font-size="9.1" transform="matrix(1 0 0 1.07 0 -9.975)" fill="#1a1a1a" stroke="#1a1a1a" stroke-width="0.15">% of ag lands</text>
<g font-size="8.5" fill="#1a1a1a" stroke="#1a1a1a" stroke-width="0.15" text-anchor="middle">
<text x="26.0" y="151.6" transform="matrix(1 0 0 1.07 0 -10.612)">0.5</text>
<text x="55.0" y="151.6" transform="matrix(1 0 0 1.07 0 -10.612)">4.0</text>
<text x="84.0" y="151.6" transform="matrix(1 0 0 1.07 0 -10.612)">8.0</text>
<text x="10.1" y="168.9" transform="matrix(1 0 0 1.07 0 -11.823)">0</text>
<text x="40.2" y="168.9" transform="matrix(1 0 0 1.07 0 -11.823)">2.0</text>
<text x="69.0" y="168.9" transform="matrix(1 0 0 1.07 0 -11.823)">6.0</text>
<text x="99.3" y="168.9" transform="matrix(1 0 0 1.07 0 -11.823)">12.0</text>
</g>
<rect x="9.90" y="154.1" width="14.85" height="5.7" fill="#38a800" stroke="#707070" stroke-width="0.4"/>
<rect x="24.75" y="154.1" width="14.85" height="5.7" fill="#78cd00" stroke="#707070" stroke-width="0.4"/>
<rect x="39.60" y="154.1" width="14.85" height="5.7" fill="#d1ed00" stroke="#707070" stroke-width="0.4"/>
<rect x="54.45" y="154.1" width="14.85" height="5.7" fill="#ffcc00" stroke="#707070" stroke-width="0.4"/>
<rect x="69.30" y="154.1" width="14.85" height="5.7" fill="#ff6600" stroke="#707070" stroke-width="0.4"/>
<rect x="84.15" y="154.1" width="14.85" height="5.7" fill="#ff0000" stroke="#707070" stroke-width="0.4"/>
<text x="138.9" y="186.0" font-size="10.4" letter-spacing="0.3" fill="#1e1e1e" stroke="#1e1e1e" stroke-width="0.18" text-anchor="middle">(d) Pct of ag land conversion to LDR</text>
</g>
</svg></body></html>
